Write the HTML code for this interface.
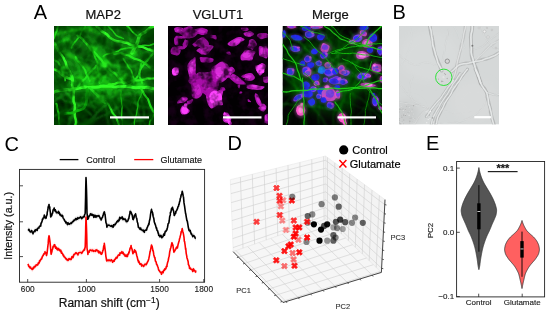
<!DOCTYPE html>
<html><head><meta charset="utf-8"><title>Figure</title>
<style>
html,body{margin:0;padding:0;background:#fff;}
svg{display:block;font-family:"Liberation Sans", Arial, sans-serif;}
</style></head><body>
<svg width="550" height="313" viewBox="0 0 550 313">
<rect width="550" height="313" fill="#fff"/>
<text x="33.8" y="18.5" font-size="20" text-anchor="start" fill="#000" >A</text>
<text x="392.6" y="18.5" font-size="20" text-anchor="start" fill="#000" >B</text>
<text x="4.5" y="150.5" font-size="20" text-anchor="start" fill="#000" >C</text>
<text x="227.5" y="150.3" font-size="20" text-anchor="start" fill="#000" >D</text>
<text x="426.1" y="150.4" font-size="20" text-anchor="start" fill="#000" >E</text>
<text x="103.2" y="18.7" font-size="13" text-anchor="middle" fill="#111" stroke="#111" stroke-width="0.2">MAP2</text>
<text x="218.0" y="18.7" font-size="13" text-anchor="middle" fill="#111" stroke="#111" stroke-width="0.2">VGLUT1</text>
<text x="330.4" y="18.6" font-size="13" text-anchor="middle" fill="#111" stroke="#111" stroke-width="0.2">Merge</text>
<defs>
<filter id="b05" x="-20%" y="-20%" width="140%" height="140%"><feGaussianBlur stdDeviation="0.55"/></filter>
<filter id="b07" x="-20%" y="-20%" width="140%" height="140%"><feGaussianBlur stdDeviation="0.75"/></filter>
<filter id="b09" x="-20%" y="-20%" width="140%" height="140%"><feGaussianBlur stdDeviation="0.9"/></filter>
<filter id="b1" x="-20%" y="-20%" width="140%" height="140%"><feGaussianBlur stdDeviation="1.1"/></filter>
<filter id="b2" x="-30%" y="-30%" width="160%" height="160%"><feGaussianBlur stdDeviation="2.4"/></filter>
<filter id="b4" x="-40%" y="-40%" width="180%" height="180%"><feGaussianBlur stdDeviation="4.5"/></filter>
<filter id="wb05" filterUnits="userSpaceOnUse" x="-5" y="-5" width="110" height="110"><feTurbulence type="fractalNoise" baseFrequency="0.09" numOctaves="2" seed="4" result="t"/><feDisplacementMap in="SourceGraphic" in2="t" scale="3.5" xChannelSelector="R" yChannelSelector="G"/><feGaussianBlur stdDeviation="0.6"/></filter>
<filter id="wb1" filterUnits="userSpaceOnUse" x="-5" y="-5" width="110" height="110"><feTurbulence type="fractalNoise" baseFrequency="0.09" numOctaves="2" seed="4" result="t"/><feDisplacementMap in="SourceGraphic" in2="t" scale="3.5" xChannelSelector="R" yChannelSelector="G"/><feGaussianBlur stdDeviation="1.1"/></filter>
<filter id="mot" filterUnits="userSpaceOnUse" x="0" y="0" width="100" height="99"><feTurbulence type="fractalNoise" baseFrequency="0.075" numOctaves="3" seed="7"/><feColorMatrix type="matrix" values="0 0 0 0 0  0 0 0 0 0.06  0 0 0 0 0  3.4 0 0 0 -1.45"/></filter>
<filter id="mot2" filterUnits="userSpaceOnUse" x="0" y="0" width="100" height="99"><feTurbulence type="fractalNoise" baseFrequency="0.11" numOctaves="3" seed="19"/><feColorMatrix type="matrix" values="0 0 0 0 0.01  0 0 0 0 0  0 0 0 0 0.01  3.6 0 0 0 -1.6"/></filter>
<clipPath id="cA1"><rect x="0" y="0" width="100" height="99"/></clipPath>
<clipPath id="cA3"><rect x="0" y="0" width="99.5" height="99"/></clipPath>
<clipPath id="cB"><rect x="0" y="0" width="100" height="98.6"/></clipPath>
</defs>
<g transform="translate(54,26)" clip-path="url(#cA1)">
<rect width="100" height="99" fill="#032803"/>
<g filter="url(#b4)">
<ellipse cx="50.0" cy="36.0" rx="52.0" ry="34.0" fill="#096409" opacity="0.9"/>
<ellipse cx="50.0" cy="62.0" rx="54.0" ry="11.0" fill="#0c7c0c" opacity="0.8"/>
<ellipse cx="20.0" cy="90.0" rx="22.0" ry="11.0" fill="#011601" opacity="0.95"/>
<ellipse cx="84.0" cy="86.0" rx="20.0" ry="10.0" fill="#021c02" opacity="0.75"/>
<ellipse cx="50.0" cy="97.0" rx="30.0" ry="5.0" fill="#011601" opacity="0.8"/>
<ellipse cx="50.0" cy="84.0" rx="56.0" ry="11.0" fill="#011a01" opacity="0.7"/>
</g>
<g filter="url(#b2)" opacity="0.6">
<path d="M0.0,17.3 C1.1,19.0 4.3,23.7 6.4,27.3 C8.5,31.0 10.6,34.6 12.8,39.2 C14.9,43.7 18.1,52.1 19.1,54.6" fill="none" stroke="#12a012" stroke-width="6.4" stroke-linecap="round" opacity="0.6"/>
<path d="M0.0,8.2 C3.0,7.6 12.1,5.4 18.2,4.6 C24.3,3.7 32.0,3.0 36.4,3.3 C40.8,3.6 43.3,5.9 44.6,6.4" fill="none" stroke="#12a012" stroke-width="9.600000000000001" stroke-linecap="round" opacity="0.54"/>
<path d="M42.8,0.0 C44.5,1.5 49.8,6.7 52.8,9.1 C55.9,11.5 57.1,12.7 61.0,14.2 C65.0,15.7 70.0,16.5 76.5,18.2 C83.0,19.9 95.9,23.5 99.8,24.6" fill="none" stroke="#12a012" stroke-width="6.4" stroke-linecap="round" opacity="0.6"/>
<path d="M99.8,0.0 C98.4,0.9 93.4,3.7 91.1,5.5 C88.7,7.2 87.1,8.4 85.6,10.6 C84.2,12.7 83.5,15.4 82.3,18.2 C81.1,21.0 79.0,25.8 78.3,27.3" fill="none" stroke="#12a012" stroke-width="8.32" stroke-linecap="round" opacity="0.6"/>
<path d="M23.7,9.1 C25.8,11.2 32.5,17.6 36.4,21.9 C40.4,26.1 43.4,30.4 47.4,34.6 C51.3,38.9 56.3,43.6 60.1,47.4 C63.9,51.1 68.5,55.4 70.1,57.0" fill="none" stroke="#12a012" stroke-width="5.760000000000001" stroke-linecap="round" opacity="0.51"/>
<path d="M60.1,27.3 C62.2,27.6 68.6,27.9 72.9,29.1 C77.1,30.4 81.1,32.2 85.6,34.6 C90.1,37.0 97.4,42.2 99.8,43.7" fill="none" stroke="#12a012" stroke-width="5.760000000000001" stroke-linecap="round" opacity="0.51"/>
<path d="M49.2,30.1 C53.1,28.7 64.4,24.2 72.9,22.2 C81.3,20.2 95.3,18.9 99.8,18.2" fill="none" stroke="#12a012" stroke-width="4.16" stroke-linecap="round" opacity="0.42"/>
<path d="M21.9,31.0 C23.1,32.8 26.7,37.9 29.1,41.9 C31.6,45.8 35.2,52.5 36.4,54.6" fill="none" stroke="#12a012" stroke-width="5.120000000000001" stroke-linecap="round" opacity="0.48"/>
<path d="M99.8,27.3 C98.4,28.8 93.4,33.1 91.1,36.4 C88.7,39.8 86.2,43.9 85.6,47.4 C85.1,50.8 87.4,55.4 87.8,57.0" fill="none" stroke="#12a012" stroke-width="5.120000000000001" stroke-linecap="round" opacity="0.48"/>
<path d="M54.6,0.0 C55.6,1.2 57.7,5.2 60.1,7.3 C62.5,9.4 67.7,11.8 69.2,12.8" fill="none" stroke="#12a012" stroke-width="3.84" stroke-linecap="round" opacity="0.42"/>
<path d="M72.9,0.0 C74.1,1.2 78.0,5.5 80.1,7.3 C82.3,9.0 84.7,10.0 85.6,10.6" fill="none" stroke="#12a012" stroke-width="3.84" stroke-linecap="round" opacity="0.42"/>
<path d="M31.0,0.0 C30.4,1.2 28.8,4.9 27.3,7.3 C25.8,9.7 23.5,12.1 21.9,14.6 C20.2,17.0 18.1,20.6 17.3,21.9" fill="none" stroke="#12a012" stroke-width="4.16" stroke-linecap="round" opacity="0.42"/>
<path d="M0.0,32.8 C1.2,34.3 5.5,38.3 7.3,41.9 C9.1,45.5 10.3,52.5 10.9,54.6" fill="none" stroke="#12a012" stroke-width="4.800000000000001" stroke-linecap="round" opacity="0.48"/>
<path d="M38.3,22.8 C39.2,25.7 42.5,34.4 43.7,40.1 C44.9,45.8 45.2,54.2 45.5,57.0" fill="none" stroke="#12a012" stroke-width="4.800000000000001" stroke-linecap="round" opacity="0.42"/>
<path d="M69.2,32.8 C70.4,34.6 74.7,39.7 76.5,43.7 C78.3,47.8 79.5,54.8 80.1,57.0" fill="none" stroke="#12a012" stroke-width="4.16" stroke-linecap="round" opacity="0.42"/>
<path d="M3.6,0.0 C3.3,1.2 2.4,5.2 1.8,7.3 C1.2,9.4 0.3,11.8 0.0,12.8" fill="none" stroke="#12a012" stroke-width="4.800000000000001" stroke-linecap="round" opacity="0.48"/>
<path d="M0.0,65.8 C3.0,65.3 12.1,63.8 18.2,63.0 C24.3,62.3 29.4,61.7 36.4,61.2 C43.4,60.8 52.5,60.3 60.1,60.3 C67.7,60.3 75.3,60.9 82.0,61.2 C88.6,61.5 96.8,62.1 99.8,62.3" fill="none" stroke="#12a012" stroke-width="7.68" stroke-linecap="round" opacity="0.6"/>
<path d="M54.6,58.5 C57.7,58.0 65.3,56.8 72.9,55.8 C80.4,54.7 95.3,52.7 99.8,52.1" fill="none" stroke="#12a012" stroke-width="5.760000000000001" stroke-linecap="round" opacity="0.54"/>
<path d="M17.9,50.3 C18.2,53.6 19.0,62.0 19.7,70.3 C20.3,78.6 21.5,95.1 21.9,100.0" fill="none" stroke="#12a012" stroke-width="6.4" stroke-linecap="round" opacity="0.57"/>
<path d="M0.0,43.0 C1.8,44.2 7.9,48.4 10.9,50.3 C14.0,52.2 17.0,53.6 18.2,54.3" fill="none" stroke="#12a012" stroke-width="6.4" stroke-linecap="round" opacity="0.57"/>
<path d="M2.7,77.6 C3.0,79.7 4.0,86.6 4.6,90.4 C5.1,94.1 5.6,98.4 5.8,100.0" fill="none" stroke="#12a012" stroke-width="5.120000000000001" stroke-linecap="round" opacity="0.36"/>
<path d="M51.9,74.9 C53.3,77.2 57.8,84.3 60.1,88.5 C62.4,92.7 65.0,98.1 65.9,100.0" fill="none" stroke="#12a012" stroke-width="5.120000000000001" stroke-linecap="round" opacity="0.51"/>
<path d="M67.0,64.9 C67.2,67.9 67.5,77.2 67.8,83.1 C68.0,88.9 68.4,97.2 68.5,100.0" fill="none" stroke="#12a012" stroke-width="3.2" stroke-linecap="round" opacity="0.36"/>
<path d="M87.8,65.8 C87.1,68.0 85.1,73.7 83.8,79.4 C82.5,85.1 80.8,96.6 80.1,100.0" fill="none" stroke="#12a012" stroke-width="3.2" stroke-linecap="round" opacity="0.33"/>
<path d="M87.4,62.7 C88.6,64.9 92.7,71.8 94.7,75.8 C96.8,79.8 99.0,84.9 99.8,86.7" fill="none" stroke="#12a012" stroke-width="5.44" stroke-linecap="round" opacity="0.48"/>
<path d="M32.8,63.0 C32.6,65.5 33.1,74.0 31.9,77.6 C30.7,81.2 29.0,82.9 25.5,84.5 C22.0,86.2 13.4,87.1 10.9,87.6" fill="none" stroke="#12a012" stroke-width="7.040000000000001" stroke-linecap="round" opacity="0.27"/>
<path d="M99.8,88.5 C99.3,89.8 97.2,93.9 96.5,95.8 C95.8,97.7 95.8,99.3 95.6,100.0" fill="none" stroke="#12a012" stroke-width="4.16" stroke-linecap="round" opacity="0.36"/>
<path d="M36.4,62.1 C37.6,63.5 41.3,67.9 43.7,70.3 C46.1,72.8 49.8,75.6 51.0,76.7" fill="none" stroke="#12a012" stroke-width="6.4" stroke-linecap="round" opacity="0.48"/>
<path d="M72.9,61.2 C74.1,60.0 78.0,56.4 80.1,53.9 C82.3,51.5 84.4,49.4 85.6,46.6 C86.8,43.9 87.1,39.1 87.4,37.5" fill="none" stroke="#12a012" stroke-width="4.800000000000001" stroke-linecap="round" opacity="0.48"/>
<path d="M23.7,61.2 C24.6,60.0 27.0,56.4 29.1,53.9 C31.3,51.5 34.3,49.1 36.4,46.6 C38.6,44.2 41.0,40.6 41.9,39.4" fill="none" stroke="#12a012" stroke-width="5.120000000000001" stroke-linecap="round" opacity="0.48"/>
<path d="M0.0,20.0 C3.3,22.0 12.5,27.0 20.0,32.0 C27.5,37.0 38.0,44.3 45.0,50.0 C52.0,55.7 59.2,63.3 62.0,66.0" fill="none" stroke="#12a012" stroke-width="10.240000000000002" stroke-linecap="round" opacity="0.51"/>
<path d="M38.0,22.0 C40.0,24.3 47.0,31.0 50.0,36.0 C53.0,41.0 55.0,49.3 56.0,52.0" fill="none" stroke="#12a012" stroke-width="9.600000000000001" stroke-linecap="round" opacity="0.48"/>
<path d="M20.0,55.0 C21.7,55.8 24.7,58.8 30.0,60.0 C35.3,61.2 48.3,61.7 52.0,62.0" fill="none" stroke="#12a012" stroke-width="9.600000000000001" stroke-linecap="round" opacity="0.48"/>
<ellipse cx="13.7" cy="15.5" rx="9.0" ry="6.0" fill="#14b014" opacity="0.63"/>
<ellipse cx="39.2" cy="21.9" rx="7.5" ry="6.0" fill="#14b014" opacity="0.6649999999999999"/>
<ellipse cx="52.8" cy="38.3" rx="9.0" ry="7.5" fill="#14b014" opacity="0.7"/>
<ellipse cx="78.3" cy="27.3" rx="7.5" ry="6.0" fill="#14b014" opacity="0.63"/>
<ellipse cx="9.1" cy="43.7" rx="7.5" ry="6.0" fill="#14b014" opacity="0.63"/>
<ellipse cx="45.5" cy="48.3" rx="7.5" ry="6.0" fill="#14b014" opacity="0.5599999999999999"/>
<ellipse cx="10.9" cy="45.2" rx="7.5" ry="6.0" fill="#14b014" opacity="0.63"/>
<ellipse cx="36.4" cy="53.9" rx="9.0" ry="7.5" fill="#14b014" opacity="0.6649999999999999"/>
<ellipse cx="47.7" cy="72.1" rx="9.0" ry="9.0" fill="#14b014" opacity="0.7"/>
<ellipse cx="52.8" cy="48.5" rx="7.5" ry="6.0" fill="#14b014" opacity="0.63"/>
<ellipse cx="67.4" cy="52.1" rx="7.5" ry="5.2" fill="#14b014" opacity="0.63"/>
<ellipse cx="85.6" cy="59.4" rx="7.5" ry="5.2" fill="#14b014" opacity="0.63"/>
<ellipse cx="25.5" cy="52.8" rx="7.5" ry="6.0" fill="#14b014" opacity="0.5599999999999999"/>
<ellipse cx="69.2" cy="51.0" rx="7.5" ry="6.0" fill="#14b014" opacity="0.5599999999999999"/>
</g>
<g filter="url(#b1)">
<ellipse cx="30.0" cy="10.0" rx="5.0" ry="3.0" fill="#011001" opacity="0.7"/>
<ellipse cx="22.0" cy="24.0" rx="5.0" ry="4.0" fill="#011001" opacity="0.6"/>
<ellipse cx="48.0" cy="15.0" rx="4.0" ry="5.0" fill="#011001" opacity="0.7"/>
<ellipse cx="62.0" cy="22.0" rx="6.0" ry="3.0" fill="#011001" opacity="0.6"/>
<ellipse cx="90.0" cy="20.0" rx="5.0" ry="4.0" fill="#011001" opacity="0.7"/>
<ellipse cx="70.0" cy="36.0" rx="6.0" ry="3.0" fill="#011001" opacity="0.6"/>
<ellipse cx="33.0" cy="34.0" rx="4.0" ry="4.0" fill="#011001" opacity="0.6"/>
<ellipse cx="93.0" cy="35.0" rx="5.0" ry="5.0" fill="#011001" opacity="0.7"/>
<ellipse cx="10.0" cy="30.0" rx="4.0" ry="5.0" fill="#011001" opacity="0.6"/>
<ellipse cx="45.0" cy="50.0" rx="4.0" ry="3.0" fill="#011001" opacity="0.5"/>
<ellipse cx="84.0" cy="48.0" rx="6.0" ry="3.0" fill="#011001" opacity="0.6"/>
<ellipse cx="12.0" cy="54.0" rx="5.0" ry="3.0" fill="#011001" opacity="0.5"/>
<ellipse cx="35.0" cy="76.0" rx="5.0" ry="4.0" fill="#011001" opacity="0.5"/>
<ellipse cx="60.0" cy="70.0" rx="4.0" ry="3.0" fill="#011001" opacity="0.5"/>
<ellipse cx="92.0" cy="70.0" rx="4.0" ry="6.0" fill="#011001" opacity="0.6"/>
<ellipse cx="73.0" cy="80.0" rx="4.0" ry="8.0" fill="#011001" opacity="0.6"/>
<ellipse cx="8.0" cy="72.0" rx="4.0" ry="6.0" fill="#011001" opacity="0.5"/>
</g>
<g filter="url(#b1)">
<path d="M49.1,21.0 49.2,22.6 49.2,24.6 49.5,27.0 49.4,29.7 49.7,32.6 51.0,35.4 51.3,38.3 51.7,41.1 51.6,43.9 51.6,46.5 52.7,48.9 53.2,51.4 53.6,53.9 54.1,56.4 53.6,59.1 54.0,61.6 54.9,64.0 55.3,66.6 56.1,69.0 56.2,71.6 55.9,74.2 56.5,76.7 57.0,79.2 57.6,81.7 58.6,84.1 58.4,86.7 58.3,89.3 58.9,92.0 59.2,94.8 60.5,97.6 60.7,100.6 60.7,103.5 61.1,106.1 61.2,108.5 61.9,110.5 62.7,111.9" fill="none" stroke="#1cd01c" stroke-width="1.2699078630799177" stroke-linecap="round" stroke-linejoin="round" opacity="0.41"/>
<path d="M63.3,27.8 63.4,29.8 63.8,32.7 64.2,36.0 64.1,39.5 65.0,42.6 65.3,45.5 65.7,48.5 66.3,51.4 66.0,54.3 65.6,57.2 65.5,60.2 64.7,63.0 64.4,65.9 64.6,68.9 64.0,71.8 63.9,75.0 63.2,78.4 61.8,81.5 61.1,84.3 60.4,86.3" fill="none" stroke="#1cd01c" stroke-width="0.8725364299934716" stroke-linecap="round" stroke-linejoin="round" opacity="0.63"/>
<path d="M48.1,14.8 46.9,15.8 45.4,16.9 43.8,18.5 42.7,20.7 41.6,23.3 39.5,25.3 37.1,27.1 35.3,29.6 33.7,32.2 31.9,34.7 30.1,37.1 28.0,39.1 25.9,41.0 24.6,43.3 23.7,45.8 22.1,47.9 19.9,49.6 18.1,51.5 16.9,53.9 15.5,56.2 14.0,58.4 12.5,60.5 10.8,62.5 8.9,64.4 7.5,66.6 6.6,69.2 5.2,71.5 3.2,73.2 1.3,75.1 0.1,77.5 -1.0,80.0 -2.4,82.2 -4.0,84.3 -5.5,86.4 -7.3,88.4 -8.7,90.6 -9.6,93.2 -10.7,95.6 -12.6,97.5 -14.6,99.5 -15.8,102.1 -16.9,105.0 -18.6,107.5 -20.3,110.1 -22.1,112.6 -23.8,115.0 -24.8,117.7 -25.7,120.3 -27.2,122.2 -28.9,123.8 -30.1,125.3 -30.7,126.7" fill="none" stroke="#1cd01c" stroke-width="1.2924501636628567" stroke-linecap="round" stroke-linejoin="round" opacity="0.41"/>
<path d="M19.1,3.0 20.8,2.2 23.3,1.2 26.4,1.1 29.7,0.7 33.0,0.5 36.0,-0.1 38.7,-1.1 41.6,-1.2 44.4,-1.0 47.2,-1.0 50.0,-0.4 52.8,-0.5 55.6,-1.1 58.4,-0.8 61.2,-0.4 64.0,0.2 66.6,1.3 69.4,1.5 72.5,1.6 75.7,2.5 78.9,3.3 81.7,4.9 84.1,5.9 86.0,6.1" fill="none" stroke="#1cd01c" stroke-width="0.8240660713798309" stroke-linecap="round" stroke-linejoin="round" opacity="0.51"/>
<path d="M70.6,-15.5 70.8,-13.9 71.3,-11.9 71.5,-9.4 72.2,-6.8 73.4,-4.0 73.8,-0.9 74.7,2.1 74.5,5.3 75.0,8.2 75.5,11.0 76.0,13.6 77.3,16.1 77.6,18.8 78.1,21.5 78.6,24.1 78.3,26.9 79.0,29.5 79.6,32.1 80.1,34.8 81.4,37.3 81.7,40.0 82.0,42.6 82.4,45.3 82.2,48.1 83.0,50.7 83.7,53.3 84.3,55.9 85.4,58.4 85.6,61.1 85.9,63.8 86.3,66.6 86.2,69.6 87.4,72.6 88.0,75.7 89.1,78.6 89.6,81.5 89.6,84.3 90.1,86.7 90.2,88.7 90.2,90.4" fill="none" stroke="#1cd01c" stroke-width="1.3299596255122945" stroke-linecap="round" stroke-linejoin="round" opacity="0.51"/>
<path d="M54.7,23.4 55.4,24.7 56.4,26.4 57.5,28.3 58.7,30.6 60.3,32.8 62.6,34.7 64.2,37.2 65.2,40.3 66.9,42.8 69.1,45.0 70.8,47.3 72.4,49.5 74.0,51.6 75.1,54.0 76.5,56.3 78.5,58.0 80.6,59.7 82.0,61.9 83.1,64.4 84.7,66.5 86.5,68.4 88.3,70.3 90.1,72.2 91.9,74.1 93.3,76.3 94.5,78.7 96.4,80.6 98.7,82.1 100.5,83.9 101.9,86.2 103.5,88.3 105.2,90.3 107.0,92.2 108.9,94.0 111.1,95.5 112.9,97.5 114.2,100.0 116.1,102.2 118.7,103.8 121.1,105.8 123.1,108.1 125.1,110.3 127.0,112.5 128.9,114.4 131.2,115.8 133.1,117.0 134.3,118.4 135.1,119.8" fill="none" stroke="#1cd01c" stroke-width="1.05222177361244" stroke-linecap="round" stroke-linejoin="round" opacity="0.43"/>
<path d="M-15.0,21.2 -14.2,22.7 -13.0,24.7 -12.3,27.3 -11.4,30.2 -10.2,33.2 -9.3,36.3 -7.4,38.9 -6.2,41.5 -4.4,43.6 -2.8,45.8 -1.7,48.3 -0.1,50.5 1.0,53.0 2.2,55.4 4.0,57.4 5.5,59.7 7.5,61.6 9.5,63.4 11.2,65.5 13.2,67.3 14.9,69.4 16.4,71.7 18.4,73.5 20.1,75.7 22.3,77.6 25.0,79.2 27.5,81.2 30.4,82.7 32.5,84.9 34.8,86.5 36.5,88.0 37.5,89.4" fill="none" stroke="#1cd01c" stroke-width="1.1092108253647477" stroke-linecap="round" stroke-linejoin="round" opacity="0.69"/>
<path d="M63.3,-15.9 62.0,-15.1 60.7,-13.8 59.0,-12.5 56.9,-11.5 54.7,-10.2 52.0,-9.5 49.3,-8.3 47.2,-6.1 44.5,-4.8 41.9,-3.4 39.1,-2.6 36.6,-1.4 34.7,0.6 32.4,1.8 30.1,2.8 27.8,3.8 25.3,4.5 23.2,6.1 21.3,7.9 18.9,8.8 16.6,9.8 14.2,10.7 11.8,11.6 9.9,13.5 7.8,15.0 5.3,15.7 3.0,16.7 0.6,17.6 -1.6,18.8 -3.5,20.7 -5.7,21.8 -8.2,22.5 -10.5,23.6 -12.9,24.6 -15.0,26.0 -16.9,27.8 -19.4,28.6 -21.9,29.3 -24.1,30.5 -26.5,31.6 -28.7,33.5 -31.2,34.9 -34.2,35.5 -36.8,36.9 -39.4,38.2 -41.6,40.1 -44.1,41.4 -46.7,41.8 -48.8,42.8 -50.6,43.9 -52.3,44.7 -53.5,45.6" fill="none" stroke="#1cd01c" stroke-width="1.5842871529394338" stroke-linecap="round" stroke-linejoin="round" opacity="0.49"/>
<path d="M25.5,48.0 27.3,47.9 29.7,47.0 32.5,46.2 35.7,46.3 38.9,46.0 42.1,46.4 45.0,46.1 47.7,45.5 50.4,45.8 53.1,45.9 55.7,46.4 58.2,47.6 60.9,47.8 63.6,47.9 66.1,48.6 68.8,48.9 71.3,49.8 73.6,51.5 76.1,52.4 78.6,53.3 81.1,54.4 84.0,55.1 86.6,57.0 89.1,59.1 91.7,60.8 94.0,62.6 96.4,63.4 98.1,64.0" fill="none" stroke="#1cd01c" stroke-width="1.0660685003706785" stroke-linecap="round" stroke-linejoin="round" opacity="0.69"/>
<path d="M36.7,-2.7 35.8,-1.2 35.5,1.4 34.9,4.3 33.6,7.1 32.2,9.9 30.3,12.0 29.2,14.9 27.6,17.5 26.1,20.1 23.9,22.2 21.3,23.8 19.4,25.9 17.0,27.8 15.0,30.1 12.3,31.5 9.4,32.5 6.8,33.6 3.9,34.5 1.2,36.4 -1.7,37.0 -4.0,37.7 -5.8,38.2" fill="none" stroke="#1cd01c" stroke-width="1.4376172094751793" stroke-linecap="round" stroke-linejoin="round" opacity="0.41"/>
<path d="M56.1,-43.2 56.0,-41.6 56.0,-39.6 55.8,-37.3 55.6,-34.6 56.2,-31.8 56.8,-28.7 56.6,-25.6 56.4,-22.5 56.2,-19.4 55.7,-16.5 55.6,-13.7 56.2,-11.0 56.2,-8.4 55.7,-5.8 55.3,-3.2 54.9,-0.5 54.2,2.0 53.7,4.6 53.9,7.3 54.0,10.0 53.3,12.6 52.6,15.1 52.1,17.7 51.2,20.2 50.3,22.7 50.1,25.3 50.1,28.1 49.5,30.6 48.5,33.1 47.8,35.6 46.8,38.1 45.6,40.5 44.9,43.1 44.7,45.9 43.9,48.8 42.5,51.6 41.3,54.5 39.8,57.2 38.3,59.8 37.7,62.7 37.2,65.4 36.3,67.5 35.3,69.3 34.7,70.7" fill="none" stroke="#1cd01c" stroke-width="1.3149720989689337" stroke-linecap="round" stroke-linejoin="round" opacity="0.39"/>
<path d="M6.8,-47.1 6.7,-45.6 7.2,-43.7 7.8,-41.5 8.1,-39.1 8.6,-36.4 9.3,-33.6 8.9,-30.5 9.0,-27.5 9.4,-24.4 9.7,-21.3 10.9,-18.4 11.3,-15.5 11.5,-12.8 12.0,-10.2 11.8,-7.5 12.0,-4.8 13.0,-2.3 13.6,0.3 14.3,2.9 15.3,5.3 15.5,8.0 15.5,10.7 16.2,13.3 16.6,15.9 17.2,18.5 18.6,20.8 19.4,23.4 19.8,26.0 20.6,28.5 20.9,31.2 21.1,33.8 22.3,36.3 23.2,38.7 24.1,41.3 25.4,43.6 26.1,46.2 26.3,48.9 27.2,51.4 27.9,53.9 28.7,56.6 30.4,59.1 31.6,61.8 32.6,64.8 33.8,67.6 34.2,70.8 35.5,73.5 36.9,76.0 37.9,78.5 39.3,80.6 40.4,82.6 40.7,84.5 41.0,86.0" fill="none" stroke="#1cd01c" stroke-width="1.0433161198967917" stroke-linecap="round" stroke-linejoin="round" opacity="0.66"/>
<path d="M-1.9,28.2 -0.7,29.0 0.8,30.2 2.8,31.3 5.3,31.8 7.9,32.5 10.4,33.8 13.1,34.9 15.7,36.2 18.0,38.2 20.4,39.5 22.9,40.3 25.3,41.5 27.7,42.8 30.2,43.9 32.3,45.6 34.2,47.7 36.5,49.2 38.8,50.5 41.0,52.1 43.4,53.4 45.8,54.7 47.7,56.7 49.4,58.8 51.5,60.5 53.5,62.3 55.5,64.1 57.9,65.6 60.1,67.1 61.8,69.3 63.4,71.5 65.3,73.4 66.9,75.5 68.6,77.6 71.1,79.3 73.1,81.4 74.7,83.9 76.4,86.2 77.9,88.4 79.1,90.7 80.5,92.3 82.0,93.5 83.2,94.4" fill="none" stroke="#1cd01c" stroke-width="1.591441358008138" stroke-linecap="round" stroke-linejoin="round" opacity="0.42"/>
<path d="M48.3,-4.5 49.8,-3.8 51.5,-2.6 53.4,-0.9 56.0,0.2 58.7,1.3 61.3,2.6 64.0,3.5 66.3,4.9 68.2,7.1 70.4,8.8 72.5,10.6 74.4,12.5 76.9,13.9 79.2,15.5 80.9,17.6 82.7,19.7 84.4,21.9 85.6,24.4 87.4,26.5 89.5,28.4 91.0,30.7 92.7,33.0 94.1,35.2 94.8,38.1 95.8,40.8 97.2,43.4 98.2,45.9 99.6,48.1 100.8,49.8 101.5,51.2" fill="none" stroke="#1cd01c" stroke-width="0.8720937383695442" stroke-linecap="round" stroke-linejoin="round" opacity="0.55"/>
<path d="M26.6,-4.8 27.3,-3.3 28.0,-1.3 29.1,0.9 30.3,3.5 31.9,6.0 33.8,8.4 35.2,11.1 36.0,14.1 37.6,16.3 39.7,18.0 41.5,19.8 42.6,22.2 43.8,24.5 45.5,26.3 47.6,27.9 49.4,29.6 51.1,31.5 52.8,33.3 54.5,35.3 56.2,37.1 58.3,38.5 60.7,39.7 62.7,41.2 64.3,43.3 66.1,45.2 68.5,46.2 71.0,47.0 73.3,48.5 75.5,50.5 78.2,51.9 81.1,53.0 83.9,54.1 86.4,55.2 88.6,56.5 90.3,57.7 91.7,58.6" fill="none" stroke="#1cd01c" stroke-width="1.186979626610036" stroke-linecap="round" stroke-linejoin="round" opacity="0.55"/>
<path d="M81.8,-15.1 80.3,-15.0 78.5,-14.8 76.4,-14.1 74.1,-13.7 71.4,-13.6 68.8,-12.6 66.1,-11.8 63.3,-10.9 60.6,-9.4 57.6,-8.9 54.9,-7.9 52.2,-7.3 49.5,-7.1 47.1,-6.1 44.7,-5.4 42.2,-4.6 40.1,-3.1 37.7,-2.1 35.3,-1.3 33.1,-0.0 30.6,0.6 28.1,1.1 25.8,2.2 23.3,2.9 20.9,3.7 18.9,5.3 16.6,6.4 14.3,7.5 12.2,9.1 9.8,9.9 7.4,10.7 5.2,11.9 2.7,12.6 0.3,13.5 -1.7,15.1 -4.0,16.3 -6.1,17.7 -8.1,19.4 -10.4,20.5 -12.7,21.7 -15.1,23.2 -18.0,24.0 -20.4,25.7 -23.0,27.3 -25.4,28.9 -27.5,31.1 -29.9,32.5 -32.0,34.0 -33.9,35.4 -35.9,36.2 -37.7,36.8 -38.9,37.7" fill="none" stroke="#1cd01c" stroke-width="0.9995988531433997" stroke-linecap="round" stroke-linejoin="round" opacity="0.42"/>
<path d="M135.8,-35.5 134.7,-34.4 133.3,-33.2 131.5,-31.9 129.6,-30.3 127.6,-28.5 125.2,-27.0 122.4,-25.7 119.9,-23.9 117.6,-22.0 115.0,-20.2 112.9,-18.1 111.0,-15.8 108.9,-14.1 106.7,-12.7 104.7,-11.0 102.7,-9.3 100.5,-7.8 98.4,-6.3 96.7,-4.3 95.1,-2.1 93.3,-0.2 91.4,1.6 89.8,3.6 88.0,5.5 85.8,7.0 83.7,8.6 82.0,10.6 80.4,12.6 78.6,14.5 76.9,16.6 75.6,18.9 74.2,21.1 72.3,22.8 70.3,24.6 68.7,26.6 67.0,28.6 65.0,30.5 63.4,32.5 62.3,35.0 61.0,37.4 59.3,39.7 57.6,42.2 56.0,44.8 53.8,47.0 51.8,49.3 50.4,52.0 49.1,54.5 47.6,56.8 46.5,59.0 45.7,61.1 44.7,62.7 43.7,63.9" fill="none" stroke="#1cd01c" stroke-width="1.2828273718267549" stroke-linecap="round" stroke-linejoin="round" opacity="0.50"/>
<path d="M-25.5,58.2 -24.2,59.2 -22.2,60.1 -19.6,60.9 -17.1,62.4 -14.2,63.4 -11.7,65.0 -9.5,66.7 -7.1,67.7 -4.9,69.0 -2.6,70.1 0.0,70.4 2.4,71.2 4.9,72.1 7.4,72.6 9.6,73.9 11.9,75.1 14.4,75.7 16.8,76.6 19.3,77.1 22.0,77.0 24.5,77.6 27.2,78.2 30.1,78.6 32.9,79.8 35.8,80.2 38.5,80.5 40.6,81.0 42.3,80.9" fill="none" stroke="#1cd01c" stroke-width="1.0055851186562497" stroke-linecap="round" stroke-linejoin="round" opacity="0.64"/>
<path d="M48.8,-42.1 48.3,-40.6 47.8,-38.6 47.9,-36.3 47.8,-33.6 47.7,-30.8 48.1,-27.7 47.9,-24.6 47.0,-21.6 46.7,-18.5 46.2,-15.6 45.7,-12.9 45.9,-10.2 45.9,-7.5 45.0,-5.0 44.3,-2.5 43.7,0.1 42.6,2.5 41.9,5.0 41.9,7.7 41.6,10.3 40.6,12.8 39.9,15.3 39.0,17.7 37.6,20.0 36.6,22.4 36.2,25.1 35.5,27.6 34.5,30.0 33.8,32.6 32.6,34.9 30.9,37.0 29.7,39.4 28.9,41.9 27.7,44.4 26.5,47.1 25.5,50.0 23.4,52.4 21.4,54.9 20.0,57.5 18.4,59.9 17.3,62.3 16.6,64.7 15.6,66.4 14.5,67.6" fill="none" stroke="#1cd01c" stroke-width="0.9827170698601002" stroke-linecap="round" stroke-linejoin="round" opacity="0.55"/>
<path d="M119.7,-9.2 118.5,-8.4 117.0,-7.4 115.4,-6.0 113.5,-4.5 110.9,-3.6 108.6,-2.1 106.2,-0.5 103.6,1.0 101.5,3.2 99.1,4.9 96.7,6.7 94.5,8.4 91.9,9.2 89.6,10.5 87.4,11.8 85.0,12.7 83.0,14.4 81.1,16.1 78.8,17.2 76.7,18.8 74.5,20.1 71.9,20.7 69.7,21.8 67.4,23.0 64.9,23.8 62.8,25.3 60.7,26.8 58.4,27.8 56.3,29.3 54.0,30.4 51.4,30.9 49.1,31.9 46.7,32.9 44.2,33.5 42.0,34.9 39.8,36.3 37.4,37.1 35.2,38.5 32.8,39.5 30.1,39.8 27.5,40.8 24.6,41.5 21.8,42.3 19.2,43.9 16.3,44.8 13.7,46.1 11.1,47.1 8.4,47.3 6.1,48.0 4.1,48.6 2.2,48.8 0.8,49.2" fill="none" stroke="#1cd01c" stroke-width="0.8132598344633242" stroke-linecap="round" stroke-linejoin="round" opacity="0.44"/>
<path d="M4.0,-28.4 3.8,-26.7 3.8,-24.6 4.2,-22.1 3.8,-19.2 4.4,-16.2 4.9,-13.2 5.5,-10.3 6.4,-7.7 6.5,-5.1 6.9,-2.5 7.2,0.1 6.9,2.7 7.5,5.3 7.8,7.9 8.1,10.4 9.2,12.9 9.6,15.5 10.3,18.0 11.0,20.5 10.9,23.2 11.3,25.7 11.6,28.3 11.7,31.0 12.7,33.4 13.3,36.1 14.3,38.9 15.4,41.8 15.6,44.8 16.4,47.5 16.5,50.1 16.6,52.2 17.2,53.8" fill="none" stroke="#1cd01c" stroke-width="0.9052628165018088" stroke-linecap="round" stroke-linejoin="round" opacity="0.48"/>
<path d="M146.0,28.0 144.6,28.6 142.8,29.2 140.6,29.7 138.3,31.0 135.9,32.2 132.9,32.4 130.1,33.3 127.1,33.6 124.4,34.8 121.9,36.3 119.3,36.9 116.9,37.8 114.4,38.2 111.8,38.5 109.5,39.7 107.1,40.7 104.8,41.7 102.5,42.9 99.9,43.1 97.4,43.7 95.0,44.6 92.5,45.3 90.3,46.8 88.1,48.0 85.5,48.4 83.1,49.2 80.6,49.8 78.1,50.4 76.0,52.0 73.6,53.1 71.3,53.9 68.9,55.0 66.3,55.2 63.7,56.0 61.3,57.5 58.6,58.6 56.1,60.4 53.1,61.0 50.3,61.7 47.8,62.8 45.4,63.6 43.6,65.0 42.0,66.1 40.6,66.6" fill="none" stroke="#1cd01c" stroke-width="0.9122777497164942" stroke-linecap="round" stroke-linejoin="round" opacity="0.36"/>
<path d="M18.7,46.9 20.3,46.7 22.1,46.2 24.2,45.2 26.7,44.6 29.5,44.8 32.4,44.7 35.4,44.0 38.4,43.5 41.4,42.5 44.5,41.8 47.6,42.2 50.5,42.1 53.2,41.5 55.9,41.3 58.5,40.8 61.1,40.2 63.8,40.5 66.4,41.1 69.1,41.0 71.7,40.6 74.3,40.6 77.0,40.3 79.6,40.0 82.2,40.6 84.8,41.4 87.4,41.3 90.1,41.0 92.7,41.2 95.4,41.1 98.0,41.2 100.5,42.1 103.1,42.9 105.8,42.9 108.4,42.9 111.0,43.2 113.7,43.4 116.3,43.9 118.8,45.1 121.3,45.8 124.1,45.8 127.0,46.2 130.0,46.9 133.0,47.6 135.9,49.0 138.8,50.2 141.9,50.4 144.7,51.0 147.3,51.8 149.8,52.4 151.8,53.3 153.5,54.3 155.0,54.9" fill="none" stroke="#1cd01c" stroke-width="1.3089476172616104" stroke-linecap="round" stroke-linejoin="round" opacity="0.52"/>
<path d="M52.1,50.3 50.8,51.8 49.4,54.2 47.3,56.6 44.9,58.8 42.9,61.1 40.6,62.9 38.3,64.6 36.5,66.8 34.9,69.2 33.0,71.3 31.3,73.6 29.8,76.0 27.7,78.0 25.4,79.8 23.6,82.0 21.6,84.3 19.4,86.8 17.9,89.6 16.5,92.0 15.2,93.5" fill="none" stroke="#1cd01c" stroke-width="1.389604395893007" stroke-linecap="round" stroke-linejoin="round" opacity="0.67"/>
<path d="M113.5,8.7 112.5,9.8 111.3,11.1 110.0,12.8 108.5,14.6 106.5,16.3 104.5,18.3 103.1,20.9 101.6,23.4 99.7,25.7 97.9,28.1 96.2,30.4 94.0,32.2 91.9,33.9 90.4,36.0 89.1,38.2 87.5,40.2 85.9,42.1 84.4,44.2 82.9,46.2 80.8,47.8 78.7,49.4 77.0,51.3 75.5,53.4 73.8,55.3 72.2,57.2 70.8,59.4 69.3,61.4 67.3,63.1 65.1,64.5 63.3,66.3 61.6,68.2 59.8,70.0 58.0,71.9 56.6,74.0 55.2,76.2 53.3,77.9 51.1,79.3 49.2,81.0 47.4,82.8 45.4,84.5 43.3,86.4 41.6,88.8 39.8,91.2 37.5,93.0 35.2,94.9 33.1,96.9 30.8,98.5 28.7,100.0 27.2,101.8 26.0,103.6 24.8,105.1 23.8,106.1" fill="none" stroke="#1cd01c" stroke-width="1.3481167642669585" stroke-linecap="round" stroke-linejoin="round" opacity="0.67"/>
<path d="M101.3,31.8 99.8,32.3 97.9,32.8 95.7,33.3 93.4,34.4 91.1,36.1 88.3,37.2 85.4,38.0 82.5,39.1 79.4,39.7 76.6,40.8 74.1,42.5 71.6,43.8 69.1,44.5 66.6,45.5 64.0,46.3 61.4,46.8 58.9,47.9 56.8,49.6 54.4,50.8 51.9,51.6 49.4,52.6 46.9,53.5 44.2,54.0 41.8,55.1 39.6,56.8 37.3,58.1 34.7,59.0 32.3,60.0 29.8,60.9 27.1,61.5 24.7,62.5 22.5,64.2 20.2,65.6 17.7,66.5 15.3,67.6 12.8,68.6 10.0,69.2 7.4,70.4 4.9,72.3 2.2,73.8 -0.7,75.0 -3.4,76.3 -6.3,77.0 -8.9,77.9 -11.0,79.5 -12.9,80.9 -14.6,81.7 -16.0,82.3" fill="none" stroke="#1cd01c" stroke-width="1.2999684373275355" stroke-linecap="round" stroke-linejoin="round" opacity="0.48"/>
<path d="M74.0,-46.0 73.2,-44.7 72.0,-43.2 70.9,-41.3 69.4,-39.2 67.5,-37.2 66.0,-34.8 65.1,-31.9 63.6,-29.3 62.3,-26.7 61.0,-24.3 59.2,-22.3 57.8,-19.9 57.3,-17.2 56.4,-14.6 55.5,-12.0 54.8,-9.4 53.5,-7.0 52.0,-4.7 51.4,-2.0 51.0,0.6 50.3,3.2 50.0,5.9 49.5,8.6 48.2,11.1 47.4,13.6 47.2,16.4 46.8,19.0 46.7,21.8 46.9,24.5 46.3,27.2 45.4,29.8 45.3,32.4 45.2,35.2 45.2,38.1 46.0,41.1 46.0,44.0 45.5,46.9 45.5,49.6 45.5,52.1 45.4,54.4 45.7,56.3 46.2,57.7" fill="none" stroke="#1cd01c" stroke-width="1.5038334632888215" stroke-linecap="round" stroke-linejoin="round" opacity="0.60"/>
<path d="M55.7,-0.3 55.5,1.3 55.5,3.3 56.1,5.7 56.5,8.4 56.9,11.2 57.9,14.1 58.2,17.0 58.3,19.9 58.9,22.5 59.0,25.3 59.3,28.2 60.4,30.8 61.2,33.5 62.1,36.2 63.5,38.7 64.3,41.4 64.8,44.1 65.9,46.7 66.5,49.5 67.3,52.2 68.9,54.6 70.2,57.1 71.5,59.6 73.3,61.8 74.4,64.4 75.4,66.9 76.9,69.3 78.1,72.1 79.6,74.7 81.7,76.7 83.2,79.0 84.6,80.9 86.1,82.3 87.1,83.6" fill="none" stroke="#1cd01c" stroke-width="0.8670257778090068" stroke-linecap="round" stroke-linejoin="round" opacity="0.61"/>
<path d="M24.0,31.1 25.5,31.8 27.6,32.4 30.0,33.6 32.8,34.1 35.9,34.2 38.6,35.1 41.3,35.7 43.7,36.8 46.1,37.5 48.7,37.2 51.2,37.5 53.8,37.7 56.3,37.9 58.7,39.0 61.2,39.2 63.8,39.1 66.3,39.1 68.9,38.7 71.4,38.9 73.9,39.6 76.4,39.5 79.2,39.5 82.1,38.9 85.0,38.1 87.9,38.5 90.5,38.4 92.7,38.4 94.4,38.5" fill="none" stroke="#1cd01c" stroke-width="1.197800462126411" stroke-linecap="round" stroke-linejoin="round" opacity="0.57"/>
<path d="M65.4,-8.2 63.7,-8.1 61.3,-8.1 58.4,-7.7 55.3,-7.8 52.0,-8.0 48.9,-7.1 46.0,-6.7 43.3,-6.0 40.7,-5.0 38.0,-4.7 35.2,-4.6 32.5,-3.9 29.7,-3.7 27.0,-3.3 24.5,-2.0 21.9,-1.0 19.2,-0.3 16.7,0.9 14.0,1.6 11.2,1.8 8.6,2.7 5.8,3.7 2.8,4.7 0.1,6.7 -2.7,8.0 -5.4,8.9 -7.6,10.0 -9.2,10.6" fill="none" stroke="#1cd01c" stroke-width="0.9620595307254471" stroke-linecap="round" stroke-linejoin="round" opacity="0.41"/>
<path d="M126.6,12.6 125.2,12.9 123.5,13.4 121.7,14.5 119.7,15.9 117.4,16.9 114.8,17.9 112.3,19.1 109.3,19.6 106.5,20.3 103.9,21.8 101.3,22.8 98.8,24.0 96.5,25.4 94.1,26.0 91.5,26.3 89.1,27.1 86.8,27.9 84.3,28.5 82.1,29.7 79.9,31.1 77.5,31.8 75.0,32.3 72.6,33.1 70.1,33.5 67.6,33.8 65.3,34.8 63.1,36.0 60.7,36.7 58.3,37.5 56.0,38.5 53.4,38.8 50.9,38.9 48.5,39.6 46.1,40.5 43.7,41.1 41.3,42.1 39.0,43.2 36.5,43.6 34.0,43.7 31.5,44.3 28.7,44.7 25.9,45.1 23.2,46.5 20.4,47.4 17.5,47.8 14.8,48.5 12.1,48.6 9.5,48.6 7.2,49.3 5.3,50.1 3.5,50.6 2.1,50.8" fill="none" stroke="#1cd01c" stroke-width="1.3327192500269371" stroke-linecap="round" stroke-linejoin="round" opacity="0.42"/>
<path d="M63.8,2.7 63.7,4.3 63.9,6.3 65.0,8.4 66.3,10.7 66.9,13.4 67.5,16.3 68.0,19.4 68.8,22.4 70.5,25.2 71.1,28.2 71.1,31.3 72.0,34.0 73.0,36.5 73.8,39.1 74.7,41.6 74.9,44.4 74.9,47.1 76.1,49.6 77.3,52.1 77.6,54.8 78.0,57.5 78.4,60.1 78.8,62.8 79.9,65.3 81.0,67.8 81.0,70.6 81.0,73.3 81.9,75.9 82.7,78.5 83.4,81.1 84.1,83.7 84.0,86.5 84.1,89.2 85.3,91.7 86.2,94.3 86.3,97.0 86.6,99.8 86.9,102.7 87.5,105.7 88.8,108.7 88.9,111.9 88.7,115.0 89.6,117.9 90.3,120.6 90.8,123.1 91.2,125.4 91.3,127.4 91.1,129.0" fill="none" stroke="#1cd01c" stroke-width="1.266485750203153" stroke-linecap="round" stroke-linejoin="round" opacity="0.46"/>
<path d="M-7.7,33.9 -6.3,34.5 -4.7,35.6 -2.8,36.8 -0.6,38.0 1.5,39.8 3.8,41.8 6.7,42.8 9.6,44.0 12.2,45.6 14.8,47.0 17.2,48.8 19.3,50.6 21.8,51.6 24.4,52.3 26.8,53.5 29.1,54.7 31.4,55.9 33.6,57.5 35.7,59.1 38.3,59.9 40.9,60.5 43.3,61.6 45.6,62.8 48.0,63.9 50.2,65.4 52.5,66.9 55.1,67.5 57.7,68.0 60.1,69.1 62.5,70.2 64.9,71.2 67.2,72.7 69.5,74.0 72.1,74.5 74.8,75.0 77.2,76.0 79.8,77.0 82.5,78.1 85.1,79.7 88.0,80.6 91.2,80.9 94.1,81.8 96.8,82.9 99.4,83.7 101.7,85.0 103.7,86.0 105.6,86.4 107.2,86.5" fill="none" stroke="#1cd01c" stroke-width="1.560000121476412" stroke-linecap="round" stroke-linejoin="round" opacity="0.45"/>
<path d="M15.5,2.7 17.4,3.2 20.0,3.7 22.6,5.4 25.7,6.8 28.3,9.0 31.2,10.2 33.8,11.4 36.5,12.5 39.2,13.5 41.4,15.4 44.0,16.8 46.1,18.8 48.7,20.1 51.4,21.2 53.9,22.7 56.6,23.8 58.7,25.9 61.1,27.6 63.5,29.6 66.3,31.3 69.4,32.7 71.9,34.5 74.2,35.9 75.4,37.4" fill="none" stroke="#1cd01c" stroke-width="1.300586846589895" stroke-linecap="round" stroke-linejoin="round" opacity="0.52"/>
<path d="M55.8,60.1 56.9,61.3 58.2,63.0 60.0,64.8 62.6,66.0 65.0,67.7 67.3,69.8 69.6,71.7 71.3,74.1 72.9,76.3 75.1,77.8 77.2,79.4 78.8,81.3 80.4,83.3 82.0,85.3 83.1,87.6 84.2,89.9 86.0,91.7 87.9,93.5 89.2,95.6 90.5,97.8 91.8,99.9 92.6,102.4 93.4,104.8 94.9,106.9 96.5,109.0 97.6,111.3 98.5,113.7 99.5,116.2 100.0,119.1 100.6,122.1 102.2,124.8 103.2,127.6 103.9,130.3 104.7,132.6 105.0,134.7 105.1,136.3" fill="none" stroke="#1cd01c" stroke-width="0.8251886205561383" stroke-linecap="round" stroke-linejoin="round" opacity="0.66"/>
<path d="M30.0,77.6 31.7,78.2 34.1,78.9 36.9,79.9 40.1,80.3 43.0,82.2 46.0,83.4 48.8,84.4 51.6,84.8 54.5,84.8 57.1,86.1 59.7,86.9 62.5,87.5 65.2,88.0 68.1,87.5 70.8,88.0 73.5,88.7 76.3,89.1 79.1,89.6 81.9,88.9 84.7,88.6 87.5,89.0 90.5,89.0 93.8,89.4 97.0,88.2 100.2,87.8 103.1,87.6 105.6,87.5 107.4,87.8" fill="none" stroke="#1cd01c" stroke-width="0.8152912118493649" stroke-linecap="round" stroke-linejoin="round" opacity="0.40"/>
<path d="M2.1,57.1 2.8,58.6 4.0,60.6 5.7,62.8 6.5,65.8 7.4,68.8 8.9,71.4 10.0,73.9 11.3,76.2 12.1,78.7 12.0,81.4 12.5,83.9 13.4,86.3 13.9,88.8 14.8,91.3 15.2,93.8 14.6,96.4 14.6,99.0 15.1,101.5 15.2,104.1 15.6,106.7 15.6,109.3 14.5,112.0 14.1,115.0 13.9,118.1 13.6,121.1 13.6,123.9 12.7,126.0 11.8,127.6" fill="none" stroke="#1cd01c" stroke-width="0.8375540553570545" stroke-linecap="round" stroke-linejoin="round" opacity="0.57"/>
<path d="M52.0,25.1 51.8,26.6 51.4,28.5 51.1,30.7 50.8,33.2 50.0,35.9 50.2,38.8 50.4,41.9 50.3,44.9 50.5,48.0 49.7,50.9 49.4,53.8 49.5,56.5 49.4,59.1 50.0,61.6 50.7,64.2 50.5,66.7 50.6,69.3 50.7,71.9 50.3,74.5 50.8,77.0 51.6,79.5 52.0,82.0 52.6,84.5 53.2,87.0 53.0,89.6 53.2,92.2 53.9,94.7 54.2,97.2 55.2,99.6 56.4,102.0 56.7,104.5 57.2,107.0 57.9,109.5 58.0,112.2 58.8,114.6 60.1,116.9 61.0,119.5 62.3,122.0 63.4,124.8 63.8,127.9 65.1,130.7 66.1,133.5 67.5,136.0 69.2,138.3 70.0,140.7 70.8,142.8 71.6,144.5 72.0,146.0" fill="none" stroke="#1cd01c" stroke-width="1.3475941967847964" stroke-linecap="round" stroke-linejoin="round" opacity="0.42"/>
<path d="M17.0,14.3 17.3,15.9 17.3,17.9 17.2,20.4 17.3,23.1 16.5,26.0 15.8,29.0 16.3,32.0 16.3,34.9 16.5,37.6 16.4,40.2 15.6,42.8 15.6,45.4 16.2,47.9 16.3,50.5 16.7,53.0 16.8,55.6 16.2,58.2 16.3,60.8 17.1,63.3 17.4,65.9 17.9,68.4 18.2,70.9 17.7,73.6 18.0,76.2 18.9,78.6 19.4,81.2 20.0,83.7 20.6,86.3 20.3,89.3 21.0,92.3 22.1,95.1 22.9,97.9 23.8,100.5 23.8,103.0 23.8,105.1 24.2,106.6" fill="none" stroke="#1cd01c" stroke-width="0.9432790471700229" stroke-linecap="round" stroke-linejoin="round" opacity="0.45"/>
<path d="M42.9,33.8 43.3,35.4 44.3,37.2 45.7,39.2 46.4,41.9 46.8,44.8 47.8,47.7 48.5,50.7 50.2,53.4 51.6,56.0 52.1,58.8 53.0,61.3 53.9,63.8 54.7,66.3 56.4,68.4 57.9,70.6 58.6,73.2 59.6,75.7 60.6,78.1 61.5,80.6 63.2,82.7 65.0,84.7 65.9,87.2 67.0,89.6 68.2,92.0 69.2,94.5 70.8,96.6 72.8,98.4 74.1,100.8 75.2,103.1 76.6,105.4 77.7,108.0 79.6,110.3 82.1,112.3 83.6,115.0 85.4,117.5 86.8,120.1 88.2,122.4 90.1,124.0 91.7,125.3 92.6,126.6" fill="none" stroke="#1cd01c" stroke-width="1.1148129692599884" stroke-linecap="round" stroke-linejoin="round" opacity="0.63"/>
<path d="M67.9,79.7 66.5,80.4 64.6,81.0 62.4,81.9 60.4,83.7 58.0,85.3 55.4,86.8 52.8,88.6 49.7,89.3 47.0,90.6 44.3,91.9 41.8,92.9 39.7,94.6 37.3,95.9 34.8,96.6 32.4,97.8 29.8,98.3 27.2,98.7 24.8,99.9 22.4,100.9 19.9,101.8 17.7,103.2 15.1,103.9 12.5,104.2 10.0,105.0 7.4,105.3 4.8,105.6 2.4,106.8 -0.1,107.6 -2.7,108.2 -5.2,109.2 -7.8,109.4 -10.5,109.3 -13.1,109.8 -15.8,110.0 -18.7,110.5 -21.7,111.6 -24.8,111.8 -27.8,112.2 -30.8,112.1 -33.7,111.7 -36.3,112.3 -38.7,112.6 -40.6,112.7 -42.2,113.1" fill="none" stroke="#1cd01c" stroke-width="1.1628289234452054" stroke-linecap="round" stroke-linejoin="round" opacity="0.57"/>
<path d="M100.9,64.3 99.5,64.5 97.7,64.8 95.7,65.3 93.4,65.6 90.8,65.1 88.1,65.5 85.3,66.1 82.5,66.7 79.7,67.7 76.7,67.6 73.9,67.6 71.2,68.2 68.6,68.5 66.1,69.7 63.5,70.5 60.7,70.5 58.1,71.0 55.4,71.3 52.8,71.9 50.3,73.4 47.7,74.0 45.1,74.5 42.5,75.1 39.7,75.2 37.2,76.2 34.8,77.5 32.2,78.2 29.7,79.2 27.0,79.7 24.2,79.9 21.8,81.2 19.3,82.3 16.9,83.4 14.4,84.6 11.7,84.8 9.0,85.5 6.6,86.8 4.2,87.7 1.9,89.3 -0.7,90.5 -3.6,91.0 -6.3,92.2 -9.0,93.2 -11.4,94.8 -13.6,96.5 -16.1,97.2 -18.3,98.0 -20.2,98.8 -21.9,99.2 -23.3,99.6" fill="none" stroke="#1cd01c" stroke-width="1.555406405586586" stroke-linecap="round" stroke-linejoin="round" opacity="0.51"/>
<path d="M51.6,33.1 51.0,34.5 50.0,36.1 49.1,38.1 48.0,40.3 46.0,42.2 44.2,44.5 43.0,47.2 41.5,49.8 40.6,52.7 38.5,54.9 36.7,57.2 35.5,59.6 34.2,61.8 33.5,64.4 32.4,66.7 30.5,68.6 29.2,70.8 27.9,73.0 26.6,75.3 26.1,77.9 24.9,80.2 23.3,82.3 22.0,84.5 20.5,86.7 19.4,89.0 19.0,91.7 17.8,93.9 16.4,96.1 15.1,98.4 13.5,100.4 12.6,102.9 12.1,105.5 10.9,107.8 9.8,110.1 8.5,112.3 6.8,114.4 6.1,117.0 5.4,119.8 4.2,122.5 3.1,125.3 1.1,127.7 0.1,130.5 -0.6,133.3 -1.6,135.8 -2.2,138.2 -3.3,140.1 -4.7,141.6 -5.4,142.9" fill="none" stroke="#1cd01c" stroke-width="1.374129564306045" stroke-linecap="round" stroke-linejoin="round" opacity="0.42"/>
<path d="M140.0,82.7 138.3,83.0 136.2,83.5 133.6,84.3 130.7,84.0 127.5,84.0 124.4,84.8 121.2,85.5 118.2,86.4 115.2,86.2 112.5,86.4 109.9,87.5 107.3,88.2 104.7,89.2 102.0,89.8 99.1,89.7 96.6,90.6 94.1,92.0 91.5,92.8 89.0,93.8 86.3,94.3 83.5,94.6 81.1,96.2 78.7,97.6 76.1,98.5 73.6,99.5 70.8,100.0 68.3,101.1 66.1,103.2 63.3,104.5 60.4,105.8 57.3,106.9 54.5,108.4 52.4,110.6 50.0,111.7 48.0,112.5 46.5,113.3" fill="none" stroke="#1cd01c" stroke-width="1.0563157812469193" stroke-linecap="round" stroke-linejoin="round" opacity="0.67"/>
<path d="M-0.0,8.1 1.7,8.2 4.0,7.9 6.6,6.9 9.5,6.2 12.4,5.1 15.4,4.5 18.3,4.8 20.9,4.6 23.7,4.1 26.6,3.8 29.3,3.0 31.9,2.7 34.4,3.2 36.4,3.5 40.1,4.4 42.7,5.8 44.7,6.3" fill="none" stroke="rgb(25,205,19)" stroke-width="3.5999999999999996" stroke-linecap="round" stroke-linejoin="round" opacity="0.70"/>
<path d="M-0.1,20.2 1.1,21.2 2.8,22.2 5.1,22.7 7.6,23.6 9.7,25.6 12.0,27.4 14.7,28.8 17.4,30.3 20.3,31.5 22.1,33.1 23.7,35.1 25.8,36.5 28.4,37.5 30.6,39.0 32.8,40.6 34.9,42.3 36.8,44.4 39.0,45.8 41.5,46.7 43.5,48.2 45.0,50.0 47.2,52.1 49.4,54.2 51.9,56.1 54.5,57.7 56.1,60.1 57.5,62.3 59.3,63.8 61.0,64.9 62.1,65.9" fill="none" stroke="rgb(24,200,18)" stroke-width="3.84" stroke-linecap="round" stroke-linejoin="round" opacity="0.70"/>
<path d="M38.5,21.6 39.6,22.9 40.7,24.9 42.3,27.2 44.5,29.3 46.6,31.5 48.7,33.6 50.5,35.7 51.4,38.8 52.0,42.0 53.8,44.9 55.1,47.6 55.6,50.2 56.1,52.0" fill="none" stroke="rgb(22,195,17)" stroke-width="3.5999999999999996" stroke-linecap="round" stroke-linejoin="round" opacity="0.70"/>
<path d="M20.3,54.5 21.8,55.5 23.5,57.6 26.2,59.3 30.0,59.9 32.3,60.3 35.2,60.3 38.4,60.8 41.6,61.9 44.8,61.7 47.8,61.5 50.2,61.7 52.0,61.7" fill="none" stroke="rgb(22,195,17)" stroke-width="3.5999999999999996" stroke-linecap="round" stroke-linejoin="round" opacity="0.70"/>
<ellipse cx="13.7" cy="15.5" rx="5.4" ry="3.2" fill="rgb(28,211,21)" opacity="0.75" transform="rotate(28.462677011280093 13.7 15.5)"/>
<ellipse cx="13.1" cy="13.8" rx="3.0" ry="2.0" fill="rgb(42,241,32)" opacity="0.6"/>
<ellipse cx="39.2" cy="21.9" rx="4.5" ry="3.2" fill="rgb(30,216,23)" opacity="0.75" transform="rotate(-4.727904592720222 39.2 21.9)"/>
<ellipse cx="39.4" cy="22.9" rx="2.5" ry="2.0" fill="rgb(46,248,35)" opacity="0.6"/>
<ellipse cx="52.8" cy="38.3" rx="5.4" ry="4.0" fill="rgb(32,221,24)" opacity="0.75" transform="rotate(-1.0042006255638114 52.8 38.3)"/>
<ellipse cx="50.9" cy="39.5" rx="3.0" ry="2.5" fill="rgb(50,255,38)" opacity="0.6"/>
<ellipse cx="78.3" cy="27.3" rx="4.5" ry="3.2" fill="rgb(28,211,21)" opacity="0.75" transform="rotate(-34.87545107070548 78.3 27.3)"/>
<ellipse cx="79.5" cy="26.0" rx="2.5" ry="2.0" fill="rgb(42,241,32)" opacity="0.6"/>
<ellipse cx="9.1" cy="43.7" rx="4.5" ry="3.2" fill="rgb(28,211,21)" opacity="0.75" transform="rotate(-13.199653812299104 9.1 43.7)"/>
<ellipse cx="10.3" cy="42.3" rx="2.5" ry="2.0" fill="rgb(42,241,32)" opacity="0.6"/>
<ellipse cx="45.5" cy="48.3" rx="4.5" ry="3.2" fill="rgb(24,201,18)" opacity="0.75" transform="rotate(-28.10595572005278 45.5 48.3)"/>
<ellipse cx="45.6" cy="49.2" rx="2.5" ry="2.0" fill="rgb(35,228,27)" opacity="0.6"/>
<ellipse cx="10.9" cy="45.2" rx="4.5" ry="3.2" fill="rgb(28,211,21)" opacity="0.75" transform="rotate(27.198115395239753 10.9 45.2)"/>
<ellipse cx="11.7" cy="47.0" rx="2.5" ry="2.0" fill="rgb(42,241,32)" opacity="0.6"/>
<ellipse cx="36.4" cy="53.9" rx="5.4" ry="4.0" fill="rgb(30,216,23)" opacity="0.75" transform="rotate(-0.5934962159686492 36.4 53.9)"/>
<ellipse cx="38.2" cy="52.3" rx="3.0" ry="2.5" fill="rgb(46,248,35)" opacity="0.6"/>
<ellipse cx="47.7" cy="72.1" rx="5.4" ry="4.8" fill="rgb(32,221,24)" opacity="0.75" transform="rotate(-22.286866641389082 47.7 72.1)"/>
<ellipse cx="47.8" cy="71.3" rx="3.0" ry="3.0" fill="rgb(50,255,38)" opacity="0.6"/>
<ellipse cx="52.8" cy="48.5" rx="4.5" ry="3.2" fill="rgb(28,211,21)" opacity="0.75" transform="rotate(18.307456112820603 52.8 48.5)"/>
<ellipse cx="53.4" cy="48.6" rx="2.5" ry="2.0" fill="rgb(42,241,32)" opacity="0.6"/>
<ellipse cx="67.4" cy="52.1" rx="4.5" ry="2.8" fill="rgb(28,211,21)" opacity="0.75" transform="rotate(27.489871923453833 67.4 52.1)"/>
<ellipse cx="67.6" cy="51.4" rx="2.5" ry="1.8" fill="rgb(42,241,32)" opacity="0.6"/>
<ellipse cx="85.6" cy="59.4" rx="4.5" ry="2.8" fill="rgb(28,211,21)" opacity="0.75" transform="rotate(-9.502641585597658 85.6 59.4)"/>
<ellipse cx="87.0" cy="61.0" rx="2.5" ry="1.8" fill="rgb(42,241,32)" opacity="0.6"/>
<ellipse cx="25.5" cy="52.8" rx="4.5" ry="3.2" fill="rgb(24,201,18)" opacity="0.75" transform="rotate(-23.340834197726245 25.5 52.8)"/>
<ellipse cx="26.9" cy="54.7" rx="2.5" ry="2.0" fill="rgb(35,228,27)" opacity="0.6"/>
<ellipse cx="69.2" cy="51.0" rx="4.5" ry="3.2" fill="rgb(24,201,18)" opacity="0.75" transform="rotate(1.9380755859389325 69.2 51.0)"/>
<ellipse cx="69.5" cy="49.8" rx="2.5" ry="2.0" fill="rgb(35,228,27)" opacity="0.6"/>
</g>
<g filter="url(#b07)">
<path d="M0.5,17.0 1.5,18.9 2.9,21.5 4.5,24.6 5.9,27.6 7.8,29.4 9.3,31.6 10.4,34.0 11.7,36.4 12.3,39.3 13.4,41.9 15.3,44.6 16.5,47.6 17.9,50.3 18.3,53.0 18.6,54.9" fill="none" stroke="rgb(50,255,38)" stroke-width="2.5" stroke-linecap="round" stroke-linejoin="round" opacity="0.95"/>
<path d="M42.6,0.2 43.9,1.6 46.0,3.3 48.2,5.6 51.0,7.1 53.2,8.6 55.4,11.2 57.8,12.8 60.8,14.7 63.0,15.3 65.4,15.3 67.9,15.8 70.5,16.5 73.5,17.1 76.4,18.7 78.7,19.4 81.6,19.6 84.6,20.4 87.8,20.7 90.7,21.8 93.4,23.2 96.0,23.8 98.1,24.5 99.7,24.9" fill="none" stroke="rgb(50,255,38)" stroke-width="2.5" stroke-linecap="round" stroke-linejoin="round" opacity="0.95"/>
<path d="M99.7,-0.2 98.1,0.8 95.7,2.3 93.4,4.3 91.4,5.9 87.8,7.7 85.2,10.2 84.4,12.9 83.7,15.6 82.5,18.3 81.0,21.5 79.1,24.8 77.8,27.1" fill="none" stroke="rgb(50,255,38)" stroke-width="3.25" stroke-linecap="round" stroke-linejoin="round" opacity="0.95"/>
<path d="M23.5,9.3 24.8,10.3 26.8,11.5 28.8,13.3 30.5,15.6 32.6,17.8 34.5,20.0 36.0,22.2 37.9,24.4 40.2,26.1 42.1,28.0 43.8,30.2 45.8,32.2 47.7,34.3 49.0,36.5 50.6,38.7 52.6,40.5 54.6,42.2 56.4,44.1 58.4,45.7 60.5,47.0 62.8,49.3 64.8,51.9 66.9,54.0 68.7,55.9 69.8,57.4" fill="none" stroke="rgb(38,234,29)" stroke-width="2.25" stroke-linecap="round" stroke-linejoin="round" opacity="0.95"/>
<path d="M60.0,27.9 61.8,28.0 64.3,27.6 67.2,27.6 70.2,28.3 72.9,29.0 75.4,29.8 77.8,31.2 80.1,32.6 82.9,33.4 85.8,34.3 88.2,35.7 90.9,37.5 93.7,39.3 95.9,41.5 97.9,43.2 99.5,44.1" fill="none" stroke="rgb(38,234,29)" stroke-width="2.25" stroke-linecap="round" stroke-linejoin="round" opacity="0.95"/>
<path d="M49.3,30.3 50.7,29.2 52.6,28.2 55.1,27.7 57.9,26.9 60.9,26.2 64.0,25.3 66.8,23.4 69.9,22.7 72.8,22.1 75.6,21.7 78.6,21.7 81.6,20.6 84.6,19.7 87.8,19.5 90.8,19.2 93.7,19.5 96.2,19.2 98.2,18.4 99.8,17.9" fill="none" stroke="rgb(29,214,22)" stroke-width="1.625" stroke-linecap="round" stroke-linejoin="round" opacity="0.95"/>
<path d="M21.6,31.1 22.4,32.7 23.9,34.7 26.1,36.7 27.8,39.3 29.4,41.7 31.2,44.3 32.2,47.6 33.8,50.5 35.2,53.0 36.0,54.9" fill="none" stroke="rgb(35,228,27)" stroke-width="2.0" stroke-linecap="round" stroke-linejoin="round" opacity="0.95"/>
<path d="M99.4,26.9 98.5,28.4 96.7,30.2 94.8,32.3 93.3,34.8 91.3,36.6 89.4,39.2 87.4,41.7 85.8,44.5 85.5,47.3 85.7,51.1 87.5,54.4 88.0,56.9" fill="none" stroke="rgb(35,228,27)" stroke-width="2.0" stroke-linecap="round" stroke-linejoin="round" opacity="0.95"/>
<path d="M54.3,0.2 55.8,2.1 58.3,4.4 60.3,7.1 62.1,9.3 64.8,10.8 67.5,11.8 69.3,12.7" fill="none" stroke="rgb(29,214,22)" stroke-width="1.5" stroke-linecap="round" stroke-linejoin="round" opacity="0.95"/>
<path d="M72.8,0.0 74.6,1.0 76.4,3.2 78.2,5.6 80.1,7.4 83.1,9.8 85.7,10.3" fill="none" stroke="rgb(29,214,22)" stroke-width="1.5" stroke-linecap="round" stroke-linejoin="round" opacity="0.95"/>
<path d="M31.2,0.1 30.4,2.0 28.4,4.4 27.0,7.1 25.9,9.9 23.9,12.3 22.1,14.7 19.8,17.1 18.1,19.7 17.5,22.0" fill="none" stroke="rgb(29,214,22)" stroke-width="1.625" stroke-linecap="round" stroke-linejoin="round" opacity="0.95"/>
<path d="M-0.4,33.1 1.3,34.4 3.9,36.1 5.7,39.1 7.2,41.9 8.0,44.5 8.7,47.5 10.3,50.2 11.0,52.7 11.1,54.6" fill="none" stroke="rgb(35,228,27)" stroke-width="1.875" stroke-linecap="round" stroke-linejoin="round" opacity="0.95"/>
<path d="M38.4,22.7 38.5,24.4 39.0,26.6 40.3,29.0 41.3,31.8 42.5,34.6 43.6,37.3 43.6,40.1 43.6,43.2 44.6,46.4 45.1,49.6 45.5,52.6 45.8,55.1 45.5,57.0" fill="none" stroke="rgb(29,214,22)" stroke-width="1.875" stroke-linecap="round" stroke-linejoin="round" opacity="0.95"/>
<path d="M69.4,32.6 70.2,34.3 71.6,36.4 73.3,38.8 74.6,41.5 76.5,43.7 77.8,46.3 78.7,49.4 79.7,52.4 79.7,55.2 79.8,57.1" fill="none" stroke="rgb(29,214,22)" stroke-width="1.625" stroke-linecap="round" stroke-linejoin="round" opacity="0.95"/>
<path d="M3.8,0.0 3.5,2.0 2.9,4.8 1.5,7.2 0.5,10.4 -0.2,12.7" fill="none" stroke="rgb(35,228,27)" stroke-width="1.875" stroke-linecap="round" stroke-linejoin="round" opacity="0.95"/>
<path d="M0.1,66.2 1.6,65.5 3.8,64.8 6.5,64.5 9.4,63.9 12.4,63.5 15.5,63.9 18.3,63.6 20.8,62.8 23.3,62.5 25.7,62.1 28.2,61.4 30.8,61.1 33.5,61.5 36.5,61.6 38.8,61.3 41.4,61.3 44.0,61.1 46.7,60.3 49.4,59.9 52.1,60.3 54.9,60.3 57.5,60.3 60.1,60.8 62.9,60.9 65.8,60.3 68.6,60.2 71.4,60.4 74.2,60.4 76.8,60.8 79.4,61.6 81.9,61.8 84.9,61.5 87.9,61.6 90.9,61.5 93.7,61.3 96.2,61.8 98.2,62.5 99.8,62.7" fill="none" stroke="rgb(50,255,38)" stroke-width="3.0" stroke-linecap="round" stroke-linejoin="round" opacity="0.95"/>
<path d="M54.7,58.6 56.2,58.3 58.3,58.2 60.8,58.0 63.4,56.7 66.4,56.3 69.7,56.3 72.9,56.1 75.4,55.8 78.0,54.5 81.1,54.4 84.3,54.3 87.5,54.2 90.6,53.4 93.4,52.3 96.0,52.6 98.2,52.5 99.8,52.3" fill="none" stroke="rgb(42,241,32)" stroke-width="2.25" stroke-linecap="round" stroke-linejoin="round" opacity="0.95"/>
<path d="M17.9,50.3 18.3,51.7 18.7,53.6 18.5,55.9 18.0,58.5 18.7,61.2 19.5,64.1 19.6,67.2 19.8,70.3 19.5,72.8 19.6,75.6 20.8,78.5 20.9,81.6 20.5,84.9 20.8,88.0 21.0,91.0 21.8,93.8 22.1,96.3 21.7,98.4 21.3,100.1" fill="none" stroke="rgb(46,248,35)" stroke-width="2.5" stroke-linecap="round" stroke-linejoin="round" opacity="0.95"/>
<path d="M-0.2,43.4 1.7,43.9 4.1,45.0 6.2,47.3 8.6,49.2 10.8,50.5 13.9,52.0 16.7,52.8 18.4,54.0" fill="none" stroke="rgb(46,248,35)" stroke-width="2.5" stroke-linecap="round" stroke-linejoin="round" opacity="0.95"/>
<path d="M2.3,77.7 2.9,79.4 3.3,82.0 3.9,84.8 4.9,87.7 4.8,90.3 5.1,94.2 5.1,97.7 5.2,100.1" fill="none" stroke="rgb(24,201,18)" stroke-width="2.0" stroke-linecap="round" stroke-linejoin="round" opacity="0.95"/>
<path d="M51.6,75.1 53.0,76.3 54.6,78.2 55.7,81.0 57.2,83.7 58.3,86.5 60.0,88.6 62.0,90.9 63.0,93.8 64.2,96.3 64.9,98.6 65.4,100.3" fill="none" stroke="rgb(38,234,29)" stroke-width="2.0" stroke-linecap="round" stroke-linejoin="round" opacity="0.95"/>
<path d="M67.0,64.9 67.1,66.5 66.6,68.8 66.8,71.5 67.5,74.4 67.6,77.4 68.3,80.4 67.9,83.1 67.8,86.2 67.6,89.5 67.7,92.7 68.5,95.7 68.5,98.2 68.9,100.0" fill="none" stroke="rgb(24,201,18)" stroke-width="1.25" stroke-linecap="round" stroke-linejoin="round" opacity="0.95"/>
<path d="M88.0,65.8 87.5,67.6 86.7,70.0 85.2,72.7 84.0,75.9 83.9,79.5 83.6,81.9 83.0,84.6 82.6,87.6 81.8,90.6 80.7,93.4 80.3,96.1 80.4,98.4 80.3,100.0" fill="none" stroke="rgb(22,194,17)" stroke-width="1.25" stroke-linecap="round" stroke-linejoin="round" opacity="0.95"/>
<path d="M87.3,62.8 88.0,64.2 89.2,66.3 90.4,68.7 92.2,71.1 94.1,73.3 94.9,75.7 96.0,79.0 97.5,82.2 98.7,84.9 100.0,86.6" fill="none" stroke="rgb(35,228,27)" stroke-width="2.125" stroke-linecap="round" stroke-linejoin="round" opacity="0.95"/>
<path d="M33.3,63.0 33.4,65.1 32.7,68.2 32.2,71.6 32.4,74.9 32.0,77.6 30.7,80.8 28.6,83.0 25.3,84.1 22.7,84.9 19.6,86.6 16.2,87.2 13.0,87.1 10.9,87.4" fill="none" stroke="rgb(18,180,14)" stroke-width="2.75" stroke-linecap="round" stroke-linejoin="round" opacity="0.95"/>
<path d="M100.0,88.6 99.2,90.7 97.6,93.3 95.9,95.6 95.5,98.3 95.7,100.0" fill="none" stroke="rgb(24,201,18)" stroke-width="1.625" stroke-linecap="round" stroke-linejoin="round" opacity="0.95"/>
<path d="M36.1,62.4 37.7,63.7 39.7,65.8 42.0,68.0 44.1,70.0 46.1,73.2 48.9,75.4 51.0,76.7" fill="none" stroke="rgb(35,228,27)" stroke-width="2.5" stroke-linecap="round" stroke-linejoin="round" opacity="0.95"/>
<path d="M72.5,60.8 73.8,59.5 76.1,58.0 78.5,56.1 80.3,54.0 82.6,51.9 84.4,49.4 85.3,46.5 86.2,43.3 86.8,39.9 87.0,37.5" fill="none" stroke="rgb(35,228,27)" stroke-width="1.875" stroke-linecap="round" stroke-linejoin="round" opacity="0.95"/>
<path d="M23.7,61.2 25.0,59.3 26.6,56.3 29.3,54.1 31.3,52.6 32.8,50.3 34.5,48.2 36.3,46.5 38.4,43.8 41.0,41.6 42.2,39.6" fill="none" stroke="rgb(35,228,27)" stroke-width="2.0" stroke-linecap="round" stroke-linejoin="round" opacity="0.95"/>
</g>
<rect width="100" height="99" filter="url(#mot)" opacity="0.85"/>
<rect x="56" y="90.3" width="39" height="2.2" fill="#fff"/>
</g>
<g transform="translate(168,26)" clip-path="url(#cA1)">
<rect width="100" height="99" fill="#020002"/>
<g filter="url(#b2)" opacity="0.22">
<ellipse cx="10.9" cy="4.0" rx="6.2" ry="3.3" fill="#900890" opacity="0.51" transform="rotate(-5 10.9 4.0)"/>
<ellipse cx="20.0" cy="2.6" rx="6.2" ry="2.4" fill="#900890" opacity="0.36"/>
<ellipse cx="32.8" cy="5.5" rx="10.9" ry="4.0" fill="#900890" opacity="0.42" transform="rotate(8 32.8 5.5)"/>
<ellipse cx="8.2" cy="14.6" rx="2.8" ry="5.7" fill="#900890" opacity="0.33"/>
<ellipse cx="17.3" cy="17.3" rx="2.8" ry="5.2" fill="#900890" opacity="0.3" transform="rotate(10 17.3 17.3)"/>
<ellipse cx="12.8" cy="11.3" rx="6.2" ry="1.9" fill="#900890" opacity="0.33"/>
<ellipse cx="13.1" cy="21.5" rx="6.2" ry="1.9" fill="#900890" opacity="0.3"/>
<ellipse cx="36.4" cy="23.7" rx="9.5" ry="6.2" fill="#900890" opacity="0.44999999999999996" transform="rotate(-20 36.4 23.7)"/>
<ellipse cx="7.3" cy="25.5" rx="5.2" ry="4.7" fill="#900890" opacity="0.27"/>
<ellipse cx="23.7" cy="41.9" rx="4.7" ry="13.7" fill="#900890" opacity="0.57" transform="rotate(5 23.7 41.9)"/>
<ellipse cx="7.3" cy="45.5" rx="5.2" ry="5.7" fill="#900890" opacity="0.6"/>
<ellipse cx="38.3" cy="33.7" rx="7.6" ry="3.8" fill="#900890" opacity="0.36" transform="rotate(10 38.3 33.7)"/>
<ellipse cx="51.9" cy="46.4" rx="10.7" ry="11.8" fill="#900890" opacity="0.54" transform="rotate(-15 51.9 46.4)"/>
<ellipse cx="60.1" cy="45.5" rx="6.6" ry="7.1" fill="#900890" opacity="0.48"/>
<ellipse cx="69.2" cy="14.6" rx="9.9" ry="4.7" fill="#900890" opacity="0.54" transform="rotate(-20 69.2 14.6)"/>
<ellipse cx="81.1" cy="8.2" rx="6.2" ry="3.8" fill="#900890" opacity="0.48"/>
<ellipse cx="83.8" cy="19.1" rx="5.2" ry="6.2" fill="#900890" opacity="0.48"/>
<ellipse cx="79.2" cy="29.1" rx="9.0" ry="7.1" fill="#900890" opacity="0.54" transform="rotate(-10 79.2 29.1)"/>
<ellipse cx="95.6" cy="25.5" rx="5.7" ry="7.6" fill="#900890" opacity="0.51"/>
<ellipse cx="92.0" cy="42.8" rx="6.4" ry="6.4" fill="#900890" opacity="0.6" transform="rotate(20 92.0 42.8)"/>
<ellipse cx="81.1" cy="51.0" rx="6.4" ry="4.7" fill="#900890" opacity="0.48" transform="rotate(-10 81.1 51.0)"/>
<ellipse cx="97.4" cy="53.7" rx="3.8" ry="4.3" fill="#900890" opacity="0.48"/>
<ellipse cx="76.9" cy="3.1" rx="4.3" ry="2.1" fill="#900890" opacity="0.42"/>
<ellipse cx="94.7" cy="10.0" rx="6.6" ry="3.3" fill="#900890" opacity="0.3"/>
<ellipse cx="29.1" cy="17.3" rx="6.6" ry="3.3" fill="#900890" opacity="0.3" transform="rotate(-30 29.1 17.3)"/>
<ellipse cx="18.2" cy="8.2" rx="4.7" ry="2.8" fill="#900890" opacity="0.3"/>
<ellipse cx="45.5" cy="10.9" rx="4.7" ry="2.4" fill="#900890" opacity="0.21" transform="rotate(20 45.5 10.9)"/>
<ellipse cx="61.0" cy="27.3" rx="3.3" ry="1.9" fill="#900890" opacity="0.24" transform="rotate(30 61.0 27.3)"/>
<ellipse cx="36.4" cy="49.4" rx="8.1" ry="4.7" fill="#900890" opacity="0.57"/>
<ellipse cx="50.1" cy="50.3" rx="6.6" ry="5.7" fill="#900890" opacity="0.57"/>
<ellipse cx="30.1" cy="63.0" rx="9.0" ry="12.3" fill="#900890" opacity="0.44999999999999996" transform="rotate(10 30.1 63.0)"/>
<ellipse cx="47.7" cy="72.1" rx="9.9" ry="11.8" fill="#900890" opacity="0.6" transform="rotate(-15 47.7 72.1)"/>
<ellipse cx="39.2" cy="61.2" rx="7.1" ry="7.1" fill="#900890" opacity="0.42"/>
<ellipse cx="14.2" cy="74.0" rx="8.5" ry="3.3" fill="#900890" opacity="0.51" transform="rotate(-28 14.2 74.0)"/>
<ellipse cx="16.8" cy="84.2" rx="5.0" ry="5.7" fill="#900890" opacity="0.6"/>
<ellipse cx="17.7" cy="79.4" rx="2.1" ry="2.8" fill="#900890" opacity="0.6" transform="rotate(15 17.7 79.4)"/>
<ellipse cx="58.7" cy="91.8" rx="4.5" ry="5.2" fill="#900890" opacity="0.6" transform="rotate(-15 58.7 91.8)"/>
<ellipse cx="61.2" cy="96.2" rx="2.4" ry="3.3" fill="#900890" opacity="0.6" transform="rotate(-20 61.2 96.2)"/>
<ellipse cx="56.8" cy="88.2" rx="1.9" ry="2.4" fill="#900890" opacity="0.6" transform="rotate(-20 56.8 88.2)"/>
<ellipse cx="59.2" cy="46.6" rx="5.7" ry="4.7" fill="#900890" opacity="0.48"/>
<ellipse cx="68.3" cy="53.0" rx="10.7" ry="4.3" fill="#900890" opacity="0.42" transform="rotate(30 68.3 53.0)"/>
<ellipse cx="79.2" cy="50.3" rx="6.2" ry="2.4" fill="#900890" opacity="0.48"/>
<ellipse cx="86.5" cy="60.9" rx="10.7" ry="3.1" fill="#900890" opacity="0.57" transform="rotate(5 86.5 60.9)"/>
<ellipse cx="92.9" cy="45.2" rx="4.7" ry="3.3" fill="#900890" opacity="0.6"/>
<ellipse cx="90.2" cy="74.0" rx="3.1" ry="7.6" fill="#900890" opacity="0.51" transform="rotate(-20 90.2 74.0)"/>
<ellipse cx="94.7" cy="81.6" rx="4.7" ry="3.8" fill="#900890" opacity="0.54" transform="rotate(30 94.7 81.6)"/>
<ellipse cx="98.4" cy="93.1" rx="2.4" ry="6.2" fill="#900890" opacity="0.51"/>
<ellipse cx="72.9" cy="66.7" rx="1.9" ry="1.4" fill="#900890" opacity="0.36"/>
<ellipse cx="81.1" cy="74.9" rx="2.4" ry="1.4" fill="#900890" opacity="0.36" transform="rotate(30 81.1 74.9)"/>
<ellipse cx="71.0" cy="60.3" rx="1.4" ry="2.4" fill="#900890" opacity="0.3"/>
<ellipse cx="21.9" cy="75.8" rx="4.7" ry="2.4" fill="#900890" opacity="0.3" transform="rotate(-30 21.9 75.8)"/>
<ellipse cx="54.6" cy="63.0" rx="3.8" ry="2.8" fill="#900890" opacity="0.36"/>
<ellipse cx="21.9" cy="7.3" rx="11.8" ry="5.7" fill="#900890" opacity="0.21"/>
<ellipse cx="34.6" cy="16.4" rx="8.5" ry="6.2" fill="#900890" opacity="0.24"/>
<ellipse cx="41.9" cy="59.4" rx="11.8" ry="14.2" fill="#900890" opacity="0.36"/>
<ellipse cx="27.3" cy="53.9" rx="9.5" ry="9.5" fill="#900890" opacity="0.33"/>
</g>
<g filter="url(#b07)">
<path d="M14.0,6.4 C13.2,6.8 11.4,7.0 10.3,7.0 C9.2,7.0 7.9,6.5 7.3,6.1 C6.7,5.7 6.8,5.0 6.6,4.4 C6.5,3.8 5.7,3.0 6.2,2.4 C6.6,1.8 8.4,1.1 9.5,0.9 C10.7,0.8 12.2,1.1 13.2,1.4 C14.2,1.7 15.3,2.1 15.6,2.6 C15.9,3.1 15.4,3.8 15.1,4.4 C14.8,5.0 14.8,5.9 14.0,6.4Z" fill="rgb(198,26,198)" opacity="0.92"/>
<path d="M24.8,2.6 C24.7,3.0 24.8,3.7 24.1,3.9 C23.4,4.1 21.8,3.9 20.6,4.0 C19.4,4.1 17.7,4.7 17.0,4.5 C16.2,4.4 16.1,3.5 15.9,3.1 C15.8,2.7 15.6,2.3 16.0,1.9 C16.4,1.6 17.3,1.6 18.2,1.3 C19.1,1.0 20.2,0.1 21.3,0.1 C22.4,0.1 24.0,0.7 24.6,1.2 C25.1,1.6 24.9,2.1 24.8,2.6Z" fill="rgb(172,15,172)" opacity="0.92"/>
<path d="M39.9,3.9 C40.7,4.7 39.5,5.5 39.4,6.2 C39.3,6.9 40.0,7.6 39.2,8.1 C38.4,8.6 36.3,9.1 34.7,9.0 C33.1,8.9 31.5,7.9 29.5,7.4 C27.4,6.9 23.1,6.4 22.4,5.8 C21.6,5.2 23.8,4.1 24.9,3.6 C26.0,3.0 27.4,3.0 28.9,2.7 C30.5,2.4 32.4,1.5 34.2,1.7 C36.0,1.9 39.0,3.2 39.9,3.9Z" fill="rgb(183,18,183)" opacity="0.92"/>
<path d="M10.3,18.7 C10.0,19.4 9.0,19.2 8.4,19.2 C7.8,19.1 7.2,19.1 6.8,18.6 C6.4,18.0 6.2,16.7 6.1,15.7 C6.0,14.7 5.9,13.4 6.1,12.6 C6.3,11.8 6.9,11.3 7.4,11.0 C7.8,10.8 8.1,11.1 8.6,11.2 C9.2,11.2 10.3,10.7 10.5,11.3 C10.8,11.9 10.2,13.7 10.2,14.9 C10.2,16.2 10.6,18.0 10.3,18.7Z" fill="rgb(167,14,167)" opacity="0.92"/>
<path d="M18.3,13.9 C18.8,14.0 19.9,13.6 20.2,14.3 C20.5,15.0 20.4,16.8 20.1,17.9 C19.9,19.0 19.3,20.1 18.8,20.8 C18.2,21.6 17.4,22.2 16.9,22.2 C16.3,22.2 15.8,21.5 15.4,20.9 C15.0,20.3 14.5,19.3 14.5,18.5 C14.6,17.6 15.4,16.6 15.8,15.8 C16.2,15.0 16.4,13.8 16.8,13.4 C17.2,13.1 17.7,13.7 18.3,13.9Z" fill="rgb(162,13,162)" opacity="0.92"/>
<path d="M14.7,10.1 C15.9,10.2 17.9,10.3 18.6,10.6 C19.3,10.8 19.2,11.5 18.7,11.9 C18.1,12.2 16.4,12.4 15.4,12.6 C14.3,12.7 13.2,12.8 12.1,12.7 C11.1,12.7 9.8,12.6 9.1,12.3 C8.4,12.1 8.2,11.7 8.0,11.4 C7.7,11.0 6.9,10.3 7.6,10.1 C8.2,9.8 10.5,9.8 11.7,9.9 C12.9,9.9 13.6,10.0 14.7,10.1Z" fill="rgb(167,14,167)" opacity="0.92"/>
<path d="M17.0,21.7 C16.8,22.1 17.5,22.5 16.8,22.8 C16.2,23.1 14.3,23.5 13.2,23.5 C12.0,23.5 10.7,23.0 9.9,22.7 C9.0,22.4 8.3,22.1 8.1,21.8 C7.9,21.4 8.0,21.0 8.5,20.7 C9.0,20.4 10.1,19.9 11.1,19.8 C12.1,19.7 13.4,20.1 14.6,20.2 C15.7,20.4 17.4,20.4 17.8,20.7 C18.2,20.9 17.2,21.3 17.0,21.7Z" fill="rgb(162,13,162)" opacity="0.92"/>
<path d="M28.4,24.6 C28.5,23.7 30.9,22.2 32.2,21.4 C33.5,20.5 34.7,19.8 36.1,19.4 C37.5,19.0 39.0,18.8 40.6,19.0 C42.2,19.1 45.3,19.4 45.6,20.4 C45.9,21.3 43.6,23.3 42.6,24.6 C41.6,25.9 40.9,27.5 39.6,28.2 C38.2,28.9 35.8,28.8 34.5,28.6 C33.1,28.4 32.5,27.6 31.5,26.9 C30.5,26.2 28.3,25.5 28.4,24.6Z" fill="rgb(188,21,188)" opacity="0.92"/>
<path d="M11.9,27.4 C11.4,28.3 10.4,29.3 9.5,29.6 C8.6,29.9 7.3,29.3 6.3,29.1 C5.3,28.8 4.1,28.7 3.4,28.1 C2.8,27.4 2.5,26.2 2.5,25.2 C2.5,24.2 2.8,23.0 3.5,22.2 C4.1,21.4 5.7,20.6 6.7,20.6 C7.7,20.6 8.6,21.8 9.6,22.4 C10.5,23.0 12.2,23.3 12.6,24.1 C13.0,24.9 12.5,26.4 11.9,27.4Z" fill="rgb(156,12,156)" opacity="0.92"/>
<path d="M27.9,39.3 C27.9,42.2 28.0,46.1 27.4,48.3 C26.8,50.5 25.3,51.7 24.4,52.4 C23.4,53.0 22.4,52.8 21.8,52.0 C21.1,51.1 20.9,49.1 20.4,47.1 C20.0,45.1 18.8,42.1 19.1,40.1 C19.4,38.1 21.2,36.2 22.0,35.1 C22.9,33.9 23.3,33.9 24.2,33.3 C25.1,32.7 26.7,30.3 27.3,31.4 C27.9,32.4 27.9,36.5 27.9,39.3Z" fill="rgb(209,32,209)" opacity="0.92"/>
<path d="M7.9,40.9 C8.9,40.9 10.7,41.1 11.1,41.8 C11.6,42.6 10.7,44.4 10.5,45.4 C10.4,46.5 10.6,47.4 10.2,48.1 C9.8,48.8 8.9,49.4 8.0,49.6 C7.2,49.9 6.0,49.9 5.3,49.5 C4.6,49.1 4.2,47.8 4.0,47.0 C3.8,46.1 4.0,45.2 4.2,44.4 C4.4,43.6 4.6,42.5 5.2,41.9 C5.9,41.3 6.9,40.9 7.9,40.9Z" fill="rgb(214,36,214)" opacity="0.92"/>
<path d="M45.0,32.5 C45.9,33.1 45.7,34.5 45.3,35.2 C44.8,35.8 43.5,36.4 42.3,36.6 C41.2,36.8 39.9,36.5 38.4,36.5 C36.9,36.4 34.4,36.7 33.4,36.2 C32.3,35.7 32.3,34.4 32.1,33.5 C31.8,32.7 31.3,31.5 32.1,31.2 C32.8,30.8 35.3,31.3 36.6,31.3 C37.9,31.3 38.5,31.2 39.9,31.4 C41.3,31.6 44.1,31.8 45.0,32.5Z" fill="rgb(172,15,172)" opacity="0.92"/>
<path d="M54.6,35.6 C56.6,35.9 59.7,38.1 60.8,40.2 C61.9,42.2 61.8,45.7 61.3,47.9 C60.8,50.1 59.4,52.0 58.0,53.4 C56.5,54.9 54.7,56.3 52.7,56.7 C50.7,57.0 47.2,57.0 45.8,55.6 C44.4,54.2 44.6,50.6 44.2,48.3 C43.9,45.9 42.9,43.4 43.7,41.8 C44.4,40.1 46.8,39.5 48.6,38.5 C50.4,37.5 52.6,35.3 54.6,35.6Z" fill="rgb(203,29,203)" opacity="0.92"/>
<path d="M60.6,41.3 C61.7,41.2 63.4,40.4 64.5,41.0 C65.6,41.7 67.2,43.9 67.0,45.1 C66.8,46.3 64.3,47.0 63.4,48.1 C62.4,49.2 62.5,51.1 61.5,51.6 C60.5,52.1 58.7,51.8 57.5,51.2 C56.2,50.7 54.5,49.6 54.1,48.4 C53.6,47.1 54.0,45.0 54.6,43.8 C55.1,42.6 56.5,41.7 57.5,41.3 C58.5,40.9 59.4,41.3 60.6,41.3Z" fill="rgb(193,23,193)" opacity="0.92"/>
<path d="M62.1,20.1 C60.6,19.7 59.2,18.6 59.6,17.6 C59.9,16.5 62.8,15.0 64.2,14.0 C65.5,13.1 66.5,12.4 67.8,11.9 C69.0,11.4 70.8,11.0 71.9,11.0 C73.0,11.0 73.7,11.5 74.5,11.9 C75.3,12.3 76.9,12.9 76.6,13.7 C76.3,14.4 74.1,15.3 72.7,16.3 C71.3,17.4 70.0,19.2 68.2,19.8 C66.4,20.4 63.5,20.5 62.1,20.1Z" fill="rgb(203,29,203)" opacity="0.92"/>
<path d="M78.8,6.1 C79.8,5.8 80.7,5.0 81.6,5.0 C82.5,5.0 83.6,5.7 84.4,6.2 C85.1,6.7 86.1,7.4 86.1,8.0 C86.2,8.6 85.2,9.3 84.6,9.7 C83.9,10.2 83.0,10.5 82.1,10.7 C81.2,10.8 80.1,10.7 79.2,10.5 C78.3,10.3 77.3,9.9 76.7,9.4 C76.1,8.9 75.2,7.8 75.6,7.2 C75.9,6.7 77.8,6.5 78.8,6.1Z" fill="rgb(193,23,193)" opacity="0.92"/>
<path d="M80.7,18.0 C81.1,16.8 80.6,15.1 81.2,14.3 C81.9,13.5 83.5,12.9 84.5,13.0 C85.6,13.1 86.8,14.2 87.5,15.2 C88.2,16.2 89.0,17.9 88.8,18.9 C88.6,19.9 87.0,20.5 86.3,21.4 C85.6,22.3 85.3,23.8 84.7,24.0 C84.0,24.2 83.2,23.0 82.3,22.5 C81.3,22.1 79.4,22.1 79.2,21.3 C78.9,20.6 80.4,19.1 80.7,18.0Z" fill="rgb(193,23,193)" opacity="0.92"/>
<path d="M84.0,34.3 C82.8,35.0 80.4,34.3 78.7,34.3 C76.9,34.3 74.4,34.9 73.4,34.2 C72.4,33.5 72.4,31.2 72.6,30.0 C72.8,28.8 73.9,27.9 74.7,26.9 C75.5,25.9 76.2,24.3 77.4,23.9 C78.7,23.4 80.4,23.9 82.1,24.2 C83.7,24.4 86.9,24.6 87.5,25.6 C88.1,26.5 86.2,28.6 85.6,30.1 C85.0,31.6 85.1,33.6 84.0,34.3Z" fill="rgb(203,29,203)" opacity="0.92"/>
<path d="M90.8,25.4 C90.7,23.8 90.5,21.1 91.2,20.3 C91.9,19.5 93.9,20.8 95.1,20.7 C96.2,20.6 97.4,19.3 98.2,19.8 C99.0,20.3 99.7,22.1 100.1,23.4 C100.5,24.8 100.9,26.6 100.6,28.1 C100.3,29.6 99.5,32.0 98.5,32.4 C97.5,32.9 96.0,31.4 94.8,31.0 C93.7,30.6 92.2,30.8 91.5,29.9 C90.9,29.0 90.8,27.0 90.8,25.4Z" fill="rgb(198,26,198)" opacity="0.92"/>
<path d="M87.2,40.1 C87.6,39.4 89.4,39.6 90.6,39.1 C91.7,38.5 92.8,36.9 94.0,36.9 C95.2,37.0 97.3,38.2 97.8,39.4 C98.2,40.5 97.2,42.4 96.8,43.6 C96.4,44.8 95.9,45.4 95.1,46.4 C94.3,47.4 93.0,49.6 92.1,49.6 C91.1,49.5 90.0,47.0 89.4,46.0 C88.7,45.0 88.4,44.5 88.0,43.6 C87.6,42.6 86.8,40.9 87.2,40.1Z" fill="rgb(214,36,214)" opacity="0.92"/>
<path d="M86.9,52.1 C86.7,52.9 85.3,54.2 84.2,54.6 C83.1,55.1 81.5,55.0 80.3,54.9 C79.0,54.8 77.3,54.7 76.8,54.1 C76.3,53.5 77.2,52.3 77.2,51.4 C77.2,50.4 76.1,49.3 76.6,48.7 C77.1,48.0 78.9,47.5 80.1,47.3 C81.2,47.1 82.7,47.0 83.6,47.3 C84.6,47.6 85.1,48.5 85.7,49.3 C86.2,50.1 87.2,51.2 86.9,52.1Z" fill="rgb(193,23,193)" opacity="0.92"/>
<path d="M95.3,55.5 C95.0,55.0 95.1,54.2 95.1,53.5 C95.1,52.8 94.9,51.8 95.3,51.3 C95.6,50.9 96.5,50.9 97.2,50.7 C97.9,50.6 98.8,50.2 99.4,50.5 C100.1,50.8 100.8,51.8 101.0,52.6 C101.2,53.4 101.0,54.7 100.7,55.4 C100.3,56.1 99.4,56.6 98.8,56.9 C98.1,57.1 97.4,56.9 96.8,56.7 C96.2,56.4 95.6,56.0 95.3,55.5Z" fill="rgb(193,23,193)" opacity="0.92"/>
<path d="M74.2,4.3 C73.7,3.9 73.2,3.6 73.1,3.1 C72.9,2.7 72.8,1.9 73.4,1.7 C73.9,1.5 75.5,1.8 76.3,1.8 C77.2,1.7 77.9,1.4 78.5,1.6 C79.2,1.7 79.8,2.1 80.2,2.5 C80.5,2.8 80.8,3.3 80.6,3.7 C80.5,4.1 79.8,4.7 79.1,4.9 C78.4,5.2 77.1,5.2 76.2,5.1 C75.4,5.0 74.8,4.6 74.2,4.3Z" fill="rgb(183,18,183)" opacity="0.92"/>
<path d="M90.3,7.8 C91.2,7.3 92.9,7.1 94.2,7.0 C95.6,6.9 97.5,7.0 98.6,7.3 C99.6,7.7 100.4,8.6 100.6,9.3 C100.9,9.9 100.9,10.8 100.2,11.3 C99.5,11.8 97.9,11.8 96.7,12.2 C95.5,12.5 93.9,13.4 92.9,13.3 C91.9,13.2 91.1,12.1 90.5,11.5 C89.8,10.9 88.9,10.4 88.9,9.7 C88.9,9.1 89.4,8.2 90.3,7.8Z" fill="rgb(162,13,162)" opacity="0.92"/>
<path d="M30.3,13.1 C31.4,12.5 33.6,12.4 34.0,12.9 C34.4,13.4 33.0,15.1 32.7,15.9 C32.5,16.7 33.0,17.1 32.5,17.7 C32.0,18.4 30.8,19.2 29.9,19.7 C28.9,20.2 27.5,20.7 26.8,20.7 C26.0,20.7 25.8,20.1 25.4,19.6 C25.0,19.2 24.0,18.7 24.4,18.1 C24.7,17.5 26.3,16.9 27.3,16.0 C28.3,15.2 29.2,13.6 30.3,13.1Z" fill="rgb(162,13,162)" opacity="0.92"/>
<path d="M16.6,11.0 C15.7,10.8 14.8,10.1 14.4,9.6 C14.0,9.1 14.1,8.3 14.4,7.8 C14.7,7.4 15.6,7.2 16.2,6.8 C16.8,6.4 17.3,5.3 18.1,5.2 C18.9,5.1 20.4,5.7 21.0,6.1 C21.5,6.6 21.4,7.3 21.4,7.8 C21.5,8.3 21.6,8.8 21.3,9.2 C21.1,9.7 20.5,10.3 19.7,10.6 C19.0,10.9 17.5,11.2 16.6,11.0Z" fill="rgb(162,13,162)" opacity="0.92"/>
<path d="M44.7,9.0 C45.6,9.0 46.9,8.8 47.6,9.1 C48.2,9.5 48.4,10.5 48.6,11.0 C48.8,11.5 48.7,11.8 48.7,12.2 C48.6,12.7 48.6,13.6 48.1,13.6 C47.5,13.7 46.2,12.8 45.2,12.5 C44.3,12.2 43.1,12.1 42.6,11.7 C42.1,11.4 42.5,10.7 42.4,10.2 C42.4,9.8 41.9,9.0 42.3,8.8 C42.7,8.6 43.9,8.9 44.7,9.0Z" fill="rgb(146,11,146)" opacity="0.92"/>
<path d="M59.9,28.4 C59.4,28.0 58.3,27.5 58.1,27.1 C57.9,26.7 58.4,26.2 58.7,26.0 C58.9,25.7 59.3,25.5 59.7,25.5 C60.2,25.4 60.9,25.4 61.4,25.6 C61.9,25.9 62.4,26.5 62.7,26.9 C62.9,27.3 63.0,27.6 63.1,28.0 C63.1,28.3 63.1,28.8 62.9,29.0 C62.6,29.1 62.0,29.1 61.5,29.0 C61.0,28.9 60.5,28.7 59.9,28.4Z" fill="rgb(151,11,151)" opacity="0.92"/>
<path d="M39.6,54.0 C38.3,54.1 36.6,52.5 34.9,52.1 C33.3,51.8 30.9,52.4 29.8,51.8 C28.7,51.3 27.9,49.7 28.2,48.7 C28.5,47.8 30.1,46.5 31.4,46.1 C32.8,45.8 34.7,46.5 36.2,46.5 C37.8,46.5 39.7,45.9 40.5,46.3 C41.4,46.6 40.9,47.9 41.3,48.8 C41.6,49.6 43.0,50.5 42.7,51.3 C42.4,52.2 40.9,53.8 39.6,54.0Z" fill="rgb(209,32,209)" opacity="0.92"/>
<path d="M48.6,46.4 C49.5,46.3 50.5,46.9 51.6,47.1 C52.7,47.4 54.6,47.4 55.1,48.0 C55.5,48.7 54.6,50.1 54.3,51.0 C53.9,52.0 53.8,53.0 53.1,53.6 C52.4,54.2 51.2,54.7 49.9,54.9 C48.6,55.0 46.4,55.2 45.6,54.6 C44.8,53.9 44.9,51.9 45.0,50.9 C45.2,49.8 45.8,49.0 46.4,48.3 C47.0,47.6 47.8,46.6 48.6,46.4Z" fill="rgb(209,32,209)" opacity="0.92"/>
<path d="M34.3,51.9 C35.8,53.1 37.0,56.1 37.2,58.2 C37.4,60.3 36.1,62.7 35.4,64.6 C34.8,66.5 34.4,68.3 33.3,69.7 C32.3,71.0 30.5,72.4 29.0,72.6 C27.5,72.8 25.1,72.2 24.2,70.8 C23.3,69.4 23.8,66.5 23.6,64.2 C23.5,61.9 22.4,58.8 23.1,56.7 C23.9,54.6 26.4,52.3 28.2,51.5 C30.1,50.7 32.8,50.8 34.3,51.9Z" fill="rgb(188,21,188)" opacity="0.92"/>
<path d="M54.9,64.6 C55.9,65.8 53.8,69.8 53.8,72.2 C53.8,74.5 55.6,77.5 54.9,78.7 C54.1,79.9 51.3,78.9 49.4,79.5 C47.4,80.1 45.1,83.0 43.4,82.4 C41.6,81.8 39.9,78.3 39.1,75.9 C38.3,73.5 37.7,70.1 38.5,68.3 C39.3,66.5 42.1,65.7 43.8,65.2 C45.4,64.6 46.4,65.0 48.3,64.9 C50.2,64.8 54.0,63.4 54.9,64.6Z" fill="rgb(214,36,214)" opacity="0.92"/>
<path d="M41.6,55.5 C42.9,56.0 44.3,57.2 44.8,58.4 C45.3,59.6 45.1,61.2 44.8,62.6 C44.6,63.9 44.3,66.1 43.3,66.7 C42.3,67.4 40.1,66.9 38.9,66.6 C37.6,66.3 36.5,65.7 35.6,65.0 C34.8,64.2 33.9,62.9 33.8,61.8 C33.6,60.7 34.2,59.5 34.8,58.3 C35.4,57.2 36.2,55.6 37.3,55.2 C38.5,54.7 40.4,54.9 41.6,55.5Z" fill="rgb(183,18,183)" opacity="0.92"/>
<path d="M17.2,70.8 C18.1,70.9 18.5,71.1 19.0,71.5 C19.4,71.8 20.2,72.2 19.9,73.0 C19.5,73.8 18.0,75.3 16.8,76.0 C15.5,76.7 13.7,76.8 12.5,77.1 C11.3,77.3 10.0,77.6 9.5,77.4 C8.9,77.2 9.2,76.3 9.5,75.7 C9.7,75.0 10.3,74.4 11.1,73.6 C11.8,72.8 13.0,71.5 14.1,71.0 C15.1,70.5 16.4,70.8 17.2,70.8Z" fill="rgb(198,26,198)" opacity="0.92"/>
<path d="M14.9,79.5 C15.6,79.2 16.9,80.1 17.6,80.5 C18.4,80.9 18.7,81.4 19.4,82.1 C20.1,82.8 21.8,83.8 21.9,84.7 C21.9,85.6 20.5,86.9 19.7,87.6 C19.0,88.2 18.0,88.5 17.1,88.6 C16.2,88.8 14.9,89.0 14.1,88.4 C13.3,87.9 12.5,86.6 12.3,85.5 C12.1,84.5 12.5,83.2 13.0,82.1 C13.4,81.1 14.1,79.8 14.9,79.5Z" fill="rgb(214,36,214)" opacity="0.92"/>
<path d="M19.1,81.2 C18.8,81.5 18.1,81.4 17.7,81.4 C17.3,81.3 17.1,81.1 16.8,80.9 C16.6,80.7 16.2,80.6 16.0,80.2 C15.9,79.8 15.9,79.1 16.0,78.6 C16.2,78.2 16.6,77.5 16.9,77.3 C17.3,77.1 17.7,77.5 18.1,77.6 C18.5,77.6 19.2,77.4 19.4,77.7 C19.6,78.1 19.5,78.8 19.5,79.4 C19.4,80.0 19.4,80.9 19.1,81.2Z" fill="rgb(214,36,214)" opacity="0.92"/>
<path d="M62.1,95.5 C61.4,96.2 60.3,96.7 59.3,96.8 C58.4,96.9 57.0,96.8 56.3,96.1 C55.5,95.5 54.8,94.0 54.7,93.0 C54.6,92.0 55.4,91.2 55.7,90.3 C56.0,89.3 55.9,87.9 56.5,87.3 C57.2,86.7 58.7,86.4 59.5,86.7 C60.4,87.1 61.0,88.4 61.6,89.3 C62.3,90.3 63.2,91.3 63.3,92.3 C63.4,93.3 62.7,94.7 62.1,95.5Z" fill="rgb(214,36,214)" opacity="0.92"/>
<path d="M62.7,95.1 C63.1,95.7 63.7,96.4 63.8,97.0 C63.9,97.7 63.5,98.5 63.1,98.9 C62.7,99.3 62.0,99.5 61.5,99.3 C61.1,99.1 60.8,98.1 60.4,97.6 C60.0,97.1 59.6,96.9 59.4,96.4 C59.2,95.9 59.0,95.1 59.2,94.6 C59.3,94.1 59.7,93.7 60.2,93.5 C60.6,93.3 61.3,93.1 61.7,93.4 C62.1,93.7 62.4,94.5 62.7,95.1Z" fill="rgb(214,36,214)" opacity="0.92"/>
<path d="M55.7,87.2 C55.8,86.8 55.8,86.0 56.1,85.8 C56.4,85.7 56.9,86.2 57.4,86.4 C57.8,86.6 58.4,86.9 58.5,87.2 C58.6,87.6 58.2,88.1 58.2,88.6 C58.1,89.1 58.4,90.0 58.2,90.2 C58.0,90.5 57.3,90.2 56.9,90.1 C56.5,90.1 56.0,90.0 55.7,89.7 C55.4,89.4 55.0,88.7 55.0,88.3 C55.0,87.9 55.5,87.7 55.7,87.2Z" fill="rgb(214,36,214)" opacity="0.92"/>
<path d="M62.4,44.2 C62.9,44.7 62.8,45.7 62.8,46.5 C62.9,47.3 63.2,48.4 62.7,48.9 C62.3,49.5 61.0,49.6 60.0,49.8 C59.1,50.0 58.0,50.4 57.0,50.2 C56.0,50.0 54.4,49.2 54.1,48.4 C53.7,47.6 54.5,46.3 55.0,45.5 C55.6,44.8 56.4,44.3 57.2,44.0 C58.0,43.7 58.8,43.7 59.7,43.8 C60.5,43.8 61.9,43.7 62.4,44.2Z" fill="rgb(193,23,193)" opacity="0.92"/>
<path d="M60.4,50.4 C60.2,49.6 62.4,49.9 63.1,49.4 C63.8,48.9 63.5,47.2 64.7,47.4 C65.9,47.6 68.6,49.6 70.0,50.6 C71.5,51.6 72.0,52.3 73.3,53.6 C74.7,54.8 77.9,57.1 78.0,57.9 C78.1,58.8 75.4,58.4 73.9,58.5 C72.4,58.5 70.8,58.9 69.1,58.2 C67.4,57.5 65.2,55.5 63.7,54.2 C62.3,52.9 60.5,51.2 60.4,50.4Z" fill="rgb(183,18,183)" opacity="0.92"/>
<path d="M82.4,51.5 C81.7,51.7 80.8,52.1 79.7,52.2 C78.7,52.3 77.2,52.3 76.1,52.0 C75.1,51.8 73.9,51.3 73.6,50.9 C73.2,50.5 73.4,49.8 73.9,49.4 C74.5,48.9 75.8,48.5 76.8,48.4 C77.9,48.2 79.2,48.5 80.3,48.6 C81.4,48.8 82.6,48.9 83.2,49.2 C83.8,49.5 84.1,50.0 84.0,50.4 C83.8,50.8 83.1,51.2 82.4,51.5Z" fill="rgb(193,23,193)" opacity="0.92"/>
<path d="M78.9,60.3 C78.9,59.7 78.4,59.0 79.4,58.7 C80.4,58.3 83.0,58.1 84.7,58.3 C86.4,58.4 87.6,59.0 89.5,59.4 C91.5,59.8 95.2,60.0 96.2,60.5 C97.1,61.0 96.0,61.8 95.3,62.4 C94.7,62.9 93.7,63.6 92.0,63.8 C90.4,64.0 87.3,63.9 85.2,63.6 C83.1,63.4 80.2,62.8 79.2,62.2 C78.1,61.7 78.8,60.9 78.9,60.3Z" fill="rgb(209,32,209)" opacity="0.92"/>
<path d="M96.6,45.1 C96.6,45.6 96.3,46.4 95.8,46.8 C95.3,47.1 94.3,46.9 93.5,47.1 C92.7,47.3 91.7,48.0 90.9,47.9 C90.2,47.7 89.4,46.9 89.1,46.3 C88.8,45.7 88.8,45.0 89.0,44.3 C89.2,43.6 89.5,42.5 90.2,42.2 C90.9,42.0 92.5,42.7 93.3,42.9 C94.2,43.2 94.8,43.2 95.4,43.6 C95.9,44.0 96.5,44.5 96.6,45.1Z" fill="rgb(214,36,214)" opacity="0.92"/>
<path d="M87.4,67.2 C87.9,66.9 89.1,67.8 89.7,68.6 C90.4,69.5 90.9,71.0 91.5,72.1 C92.0,73.3 92.6,74.2 93.0,75.5 C93.4,76.8 93.9,79.1 93.7,79.8 C93.5,80.6 92.4,80.2 91.7,79.9 C91.0,79.6 90.1,79.0 89.5,78.0 C88.8,77.1 88.2,75.7 87.8,74.4 C87.3,73.1 86.8,71.4 86.7,70.2 C86.6,69.0 86.9,67.4 87.4,67.2Z" fill="rgb(198,26,198)" opacity="0.92"/>
<path d="M92.6,78.1 C93.3,77.7 94.6,77.6 95.5,77.8 C96.4,78.1 97.6,79.0 98.0,79.8 C98.5,80.5 98.3,81.5 98.2,82.2 C98.1,82.9 97.6,83.3 97.2,83.9 C96.7,84.4 96.2,85.4 95.5,85.5 C94.7,85.6 93.4,85.1 92.5,84.6 C91.7,84.0 90.5,83.0 90.3,82.3 C90.2,81.5 91.4,80.9 91.8,80.2 C92.2,79.5 92.0,78.5 92.6,78.1Z" fill="rgb(203,29,203)" opacity="0.92"/>
<path d="M99.7,88.0 C100.0,88.6 99.8,90.9 99.8,92.1 C99.8,93.3 100.0,94.0 100.0,95.0 C99.9,96.0 99.6,97.7 99.3,98.1 C98.9,98.4 98.4,97.3 98.0,97.1 C97.5,96.8 96.7,97.3 96.5,96.6 C96.2,95.8 96.6,93.9 96.7,92.7 C96.7,91.5 96.6,89.8 96.8,89.1 C97.1,88.4 97.7,88.8 98.2,88.6 C98.7,88.4 99.5,87.4 99.7,88.0Z" fill="rgb(198,26,198)" opacity="0.92"/>
<path d="M73.1,67.6 C72.8,67.7 72.4,67.8 72.1,67.7 C71.8,67.6 71.3,67.4 71.2,67.2 C71.1,66.9 71.5,66.6 71.6,66.4 C71.7,66.1 71.7,65.7 72.0,65.6 C72.2,65.4 72.7,65.6 73.1,65.6 C73.4,65.7 73.9,65.7 74.1,65.8 C74.3,66.0 74.4,66.4 74.3,66.7 C74.3,66.9 74.1,67.1 73.9,67.3 C73.7,67.5 73.4,67.6 73.1,67.6Z" fill="rgb(172,15,172)" opacity="0.92"/>
<path d="M81.5,75.9 C81.1,75.9 80.7,76.2 80.4,76.0 C80.1,75.8 79.7,75.3 79.6,75.0 C79.5,74.7 79.6,74.5 79.7,74.2 C79.7,73.9 79.4,73.3 79.6,73.2 C79.9,73.1 80.7,73.3 81.1,73.5 C81.4,73.7 81.6,74.1 81.9,74.4 C82.2,74.7 82.9,75.0 83.1,75.3 C83.2,75.6 83.0,76.0 82.7,76.1 C82.4,76.2 81.9,76.0 81.5,75.9Z" fill="rgb(172,15,172)" opacity="0.92"/>
<path d="M69.9,61.0 C69.8,60.5 69.5,59.8 69.6,59.5 C69.7,59.1 70.2,58.9 70.5,58.7 C70.8,58.5 71.0,58.2 71.3,58.2 C71.5,58.3 71.9,58.6 72.0,58.9 C72.2,59.3 72.2,59.9 72.1,60.3 C72.1,60.7 72.0,61.1 71.9,61.5 C71.7,61.8 71.5,62.4 71.3,62.5 C71.0,62.6 70.6,62.4 70.4,62.1 C70.2,61.9 70.1,61.4 69.9,61.0Z" fill="rgb(162,13,162)" opacity="0.92"/>
<path d="M18.8,78.2 C18.5,77.9 18.8,77.2 18.9,76.7 C18.9,76.2 18.6,75.4 19.1,75.0 C19.6,74.6 20.9,74.6 21.8,74.2 C22.6,73.9 23.7,73.0 24.2,73.0 C24.8,73.0 25.2,73.6 25.2,74.0 C25.3,74.4 24.8,75.0 24.5,75.6 C24.2,76.2 23.9,76.9 23.2,77.4 C22.6,77.8 21.4,78.3 20.7,78.4 C20.0,78.6 19.1,78.4 18.8,78.2Z" fill="rgb(162,13,162)" opacity="0.92"/>
<path d="M57.3,64.3 C57.0,64.6 56.1,64.6 55.5,64.9 C54.8,65.1 53.9,65.7 53.3,65.6 C52.8,65.5 52.4,64.6 52.2,64.1 C51.9,63.6 51.7,63.0 51.9,62.6 C52.0,62.2 52.5,61.7 53.0,61.5 C53.5,61.3 54.1,61.3 54.7,61.3 C55.3,61.3 55.9,61.3 56.4,61.6 C56.8,61.8 57.0,62.3 57.1,62.7 C57.3,63.2 57.6,63.9 57.3,64.3Z" fill="rgb(172,15,172)" opacity="0.92"/>
<path d="M13.5,3.3 C15.2,2.7 19.0,3.2 21.1,3.3 C23.2,3.5 24.5,3.8 26.2,4.2 C28.0,4.7 31.1,5.2 31.5,6.0 C32.0,6.8 29.8,7.9 28.9,8.8 C27.9,9.7 27.5,10.7 25.9,11.3 C24.2,11.9 20.8,12.8 19.0,12.5 C17.2,12.2 16.5,10.5 15.2,9.6 C13.8,8.6 11.2,7.9 11.0,6.9 C10.7,5.8 11.8,3.9 13.5,3.3Z" fill="rgb(146,11,146)" opacity="0.92"/>
<path d="M29.3,15.5 C29.9,14.5 30.1,13.6 31.0,12.9 C32.0,12.1 33.9,10.9 35.1,11.0 C36.3,11.1 37.5,12.7 38.4,13.5 C39.3,14.4 40.1,15.0 40.5,15.9 C40.9,16.9 41.3,18.3 40.7,19.4 C40.2,20.4 38.4,21.9 36.9,22.2 C35.4,22.5 33.3,21.7 31.7,21.1 C30.2,20.6 28.1,19.8 27.7,18.9 C27.3,17.9 28.8,16.5 29.3,15.5Z" fill="rgb(151,11,151)" opacity="0.92"/>
<path d="M50.6,60.0 C50.2,62.6 49.5,64.4 48.3,66.7 C47.1,69.0 45.2,73.5 43.3,73.8 C41.4,74.1 39.0,70.2 36.9,68.5 C34.9,66.7 31.3,65.4 31.0,63.3 C30.7,61.2 34.1,58.4 35.2,55.9 C36.3,53.5 35.9,50.6 37.5,48.9 C39.0,47.1 42.4,45.0 44.6,45.4 C46.9,45.8 50.0,48.8 51.0,51.3 C52.0,53.7 51.1,57.4 50.6,60.0Z" fill="rgb(172,15,172)" opacity="0.92"/>
<path d="M21.6,50.8 C22.2,49.1 22.5,45.3 23.8,44.9 C25.0,44.4 27.2,47.6 29.2,48.2 C31.2,48.9 34.6,47.6 35.8,48.8 C37.0,49.9 36.7,53.3 36.3,55.3 C35.9,57.2 34.6,59.4 33.2,60.6 C31.7,61.7 29.2,62.2 27.5,61.9 C25.9,61.7 24.5,60.0 23.3,58.9 C22.1,57.8 20.6,56.7 20.3,55.3 C20.0,54.0 21.1,52.6 21.6,50.8Z" fill="rgb(167,14,167)" opacity="0.92"/>
<path d="M9.0,5.5 C8.6,5.2 9.1,4.6 9.3,4.2 C9.4,3.8 9.6,3.4 10.1,3.3 C10.5,3.1 11.4,3.1 11.9,3.2 C12.5,3.3 13.1,3.4 13.4,3.7 C13.7,4.1 14.0,4.7 13.7,5.0 C13.3,5.4 12.2,5.8 11.4,5.8 C10.6,5.9 9.3,5.8 9.0,5.5Z" fill="rgb(233,52,233)" opacity="0.55"/>
<path d="M35.9,6.9 C35.0,7.1 33.0,7.0 31.9,6.8 C30.7,6.6 29.6,6.0 29.0,5.6 C28.4,5.1 28.0,4.6 28.2,4.2 C28.4,3.8 29.2,3.0 30.3,3.0 C31.3,3.0 33.3,3.6 34.4,4.0 C35.6,4.4 37.0,5.0 37.2,5.5 C37.5,6.0 36.7,6.7 35.9,6.9Z" fill="rgb(211,34,211)" opacity="0.55"/>
<path d="M33.1,24.0 C33.4,23.3 34.1,22.6 34.9,22.1 C35.8,21.5 37.1,20.8 37.9,20.8 C38.8,20.9 39.6,21.6 39.9,22.2 C40.2,22.8 40.1,23.8 39.6,24.4 C39.1,25.0 38.0,25.4 37.0,25.8 C35.9,26.2 33.9,26.9 33.2,26.6 C32.6,26.4 32.8,24.8 33.1,24.0Z" fill="rgb(218,39,218)" opacity="0.55"/>
<path d="M25.1,42.5 C24.9,44.2 24.6,47.1 24.1,47.7 C23.7,48.3 22.9,47.0 22.4,46.1 C21.9,45.3 21.3,44.1 21.3,42.8 C21.3,41.5 22.0,39.6 22.5,38.3 C22.9,37.1 23.6,35.2 24.1,35.1 C24.5,35.1 25.2,36.7 25.4,37.9 C25.5,39.2 25.3,40.9 25.1,42.5Z" fill="rgb(247,70,247)" opacity="0.55"/>
<ellipse cx="7.3" cy="45.5" rx="3.4" ry="3.7" fill="rgb(255,70,255)" opacity="0.95"/>
<path d="M50.4,50.2 C49.2,49.4 47.9,48.4 47.6,47.1 C47.2,45.8 47.4,43.4 48.2,42.4 C49.1,41.3 51.3,40.8 52.5,41.0 C53.8,41.3 55.3,42.7 55.9,43.8 C56.6,45.0 56.5,46.5 56.2,47.9 C56.0,49.3 55.4,51.8 54.4,52.2 C53.5,52.6 51.5,51.1 50.4,50.2Z" fill="rgb(240,61,240)" opacity="0.55"/>
<path d="M59.3,41.8 C59.9,41.5 61.2,41.6 62.0,42.0 C62.8,42.4 63.9,43.3 64.1,44.1 C64.3,45.0 63.9,46.7 63.3,47.2 C62.7,47.8 61.6,47.5 60.7,47.5 C59.7,47.6 58.3,47.9 57.9,47.4 C57.4,46.8 58.0,45.3 58.2,44.4 C58.4,43.4 58.6,42.2 59.3,41.8Z" fill="rgb(226,45,226)" opacity="0.55"/>
<path d="M71.4,16.2 C70.5,16.8 69.1,17.6 68.1,17.8 C67.2,17.9 66.3,17.4 65.9,17.0 C65.5,16.6 65.5,16.1 65.9,15.4 C66.2,14.8 66.9,13.7 67.9,13.3 C68.9,12.8 70.7,12.7 71.6,12.9 C72.6,13.0 73.6,13.5 73.6,14.0 C73.6,14.6 72.3,15.6 71.4,16.2Z" fill="rgb(240,61,240)" opacity="0.55"/>
<path d="M83.9,7.6 C84.5,8.0 85.0,8.8 84.7,9.2 C84.5,9.7 83.4,10.0 82.6,10.2 C81.9,10.4 80.9,10.6 80.3,10.4 C79.6,10.2 79.2,9.6 79.0,9.1 C78.7,8.7 78.5,7.9 79.0,7.5 C79.4,7.2 80.7,7.0 81.5,7.1 C82.4,7.1 83.4,7.2 83.9,7.6Z" fill="rgb(226,45,226)" opacity="0.55"/>
<path d="M83.2,21.4 C82.6,21.1 81.9,20.8 81.8,20.3 C81.6,19.8 81.9,18.8 82.1,18.4 C82.4,17.9 83.0,17.6 83.4,17.5 C83.9,17.5 84.4,17.6 84.8,17.9 C85.2,18.2 85.8,18.9 85.8,19.5 C85.9,20.2 85.6,21.5 85.1,21.8 C84.7,22.1 83.8,21.6 83.2,21.4Z" fill="rgb(226,45,226)" opacity="0.55"/>
<path d="M81.7,30.8 C81.1,31.4 79.9,31.9 78.9,32.0 C77.9,32.1 76.7,32.1 75.9,31.6 C75.2,31.1 74.2,30.0 74.3,29.3 C74.4,28.5 75.7,27.5 76.6,27.1 C77.5,26.6 78.7,26.5 79.7,26.6 C80.7,26.8 82.2,27.3 82.5,28.0 C82.9,28.7 82.3,30.1 81.7,30.8Z" fill="rgb(240,61,240)" opacity="0.55"/>
<path d="M94.2,21.6 C94.9,21.3 96.2,21.3 96.7,21.9 C97.2,22.5 97.1,24.1 97.1,25.0 C97.1,26.0 97.2,27.3 96.8,27.8 C96.4,28.3 95.4,28.2 94.7,28.1 C94.0,28.0 93.1,27.8 92.7,27.1 C92.3,26.4 92.1,24.8 92.3,23.9 C92.6,23.0 93.4,22.0 94.2,21.6Z" fill="rgb(233,52,233)" opacity="0.55"/>
<ellipse cx="92.0" cy="42.8" rx="4.2" ry="4.2" fill="rgb(255,70,255)" opacity="0.95" transform="rotate(20 92.0 42.8)"/>
<path d="M82.6,49.6 C83.0,50.0 83.4,50.8 83.2,51.3 C83.0,51.9 82.1,52.8 81.4,52.9 C80.8,53.1 79.8,52.6 79.2,52.3 C78.5,52.0 77.4,51.6 77.4,51.2 C77.4,50.8 78.6,50.2 79.1,49.8 C79.7,49.4 80.2,48.9 80.8,48.9 C81.4,48.9 82.2,49.2 82.6,49.6Z" fill="rgb(226,45,226)" opacity="0.55"/>
<path d="M97.2,54.8 C96.7,54.9 96.0,55.4 95.8,55.1 C95.5,54.9 95.6,54.0 95.6,53.5 C95.6,53.0 95.6,52.3 95.9,52.0 C96.1,51.7 96.8,51.6 97.3,51.7 C97.7,51.8 98.4,52.1 98.6,52.5 C98.9,53.0 98.9,54.0 98.6,54.4 C98.4,54.8 97.7,54.7 97.2,54.8Z" fill="rgb(226,45,226)" opacity="0.55"/>
<path d="M77.2,1.9 C77.7,1.9 78.7,1.8 78.9,1.9 C79.1,2.1 78.8,2.6 78.6,2.8 C78.4,3.0 78.0,3.2 77.6,3.3 C77.3,3.4 76.7,3.3 76.3,3.2 C75.9,3.1 75.5,2.9 75.4,2.7 C75.3,2.5 75.2,2.0 75.5,1.9 C75.8,1.7 76.6,1.9 77.2,1.9Z" fill="rgb(211,34,211)" opacity="0.55"/>
<path d="M36.6,48.1 C37.3,48.0 38.6,48.2 39.1,48.5 C39.7,48.8 40.1,49.4 40.0,49.9 C40.0,50.4 39.5,51.0 38.8,51.4 C38.1,51.7 36.7,52.2 35.7,52.1 C34.7,52.0 33.1,51.2 32.9,50.7 C32.8,50.1 34.1,49.4 34.8,49.0 C35.4,48.5 35.9,48.2 36.6,48.1Z" fill="rgb(247,70,247)" opacity="0.55"/>
<path d="M47.8,51.6 C47.6,50.9 47.8,49.7 48.2,49.3 C48.7,48.8 50.0,49.0 50.8,49.0 C51.6,49.0 52.5,48.9 53.1,49.3 C53.7,49.7 54.4,50.9 54.3,51.6 C54.2,52.3 53.2,53.2 52.4,53.6 C51.6,53.9 50.2,54.0 49.4,53.6 C48.6,53.3 48.0,52.3 47.8,51.6Z" fill="rgb(247,70,247)" opacity="0.55"/>
<path d="M24.7,63.1 C24.8,62.1 26.8,60.8 27.8,60.0 C28.8,59.2 30.1,58.0 30.8,58.3 C31.6,58.6 31.9,60.4 32.3,61.8 C32.7,63.1 33.5,65.0 33.1,66.2 C32.7,67.5 30.7,69.1 29.7,69.1 C28.7,69.1 28.1,67.3 27.3,66.3 C26.5,65.3 24.6,64.2 24.7,63.1Z" fill="rgb(218,39,218)" opacity="0.55"/>
<ellipse cx="47.7" cy="72.1" rx="6.5" ry="7.7" fill="rgb(255,70,255)" opacity="0.95" transform="rotate(-15 47.7 72.1)"/>
<path d="M36.7,58.2 C37.3,57.8 38.3,58.3 39.3,58.4 C40.2,58.5 41.7,58.2 42.2,58.8 C42.7,59.5 42.8,61.4 42.3,62.1 C41.9,62.9 40.5,63.3 39.6,63.4 C38.8,63.6 37.6,63.6 37.0,63.2 C36.4,62.7 36.1,61.6 36.1,60.8 C36.0,59.9 36.2,58.6 36.7,58.2Z" fill="rgb(211,34,211)" opacity="0.55"/>
<path d="M11.3,76.1 C10.9,75.9 11.5,75.0 11.8,74.5 C12.2,74.0 12.6,73.5 13.4,72.9 C14.1,72.4 15.7,71.5 16.3,71.4 C16.9,71.4 17.1,72.1 17.1,72.5 C17.1,72.9 16.7,73.3 16.2,73.9 C15.6,74.4 14.8,75.5 14.0,75.9 C13.2,76.2 11.6,76.3 11.3,76.1Z" fill="rgb(233,52,233)" opacity="0.55"/>
<ellipse cx="16.8" cy="84.2" rx="3.3" ry="3.7" fill="rgb(255,70,255)" opacity="0.95"/>
<ellipse cx="17.7" cy="79.4" rx="1.4" ry="1.9" fill="rgb(255,70,255)" opacity="0.95" transform="rotate(15 17.7 79.4)"/>
<ellipse cx="58.7" cy="91.8" rx="2.9" ry="3.4" fill="rgb(255,70,255)" opacity="0.95" transform="rotate(-15 58.7 91.8)"/>
<ellipse cx="61.2" cy="96.2" rx="1.5" ry="2.2" fill="rgb(255,70,255)" opacity="0.95" transform="rotate(-20 61.2 96.2)"/>
<ellipse cx="56.8" cy="88.2" rx="1.2" ry="1.5" fill="rgb(255,70,255)" opacity="0.95" transform="rotate(-20 56.8 88.2)"/>
<path d="M57.8,48.1 C57.3,48.0 56.7,47.5 56.5,47.0 C56.3,46.5 56.3,45.7 56.7,45.3 C57.0,45.0 57.9,45.0 58.6,44.9 C59.2,44.9 60.2,44.8 60.5,45.1 C60.8,45.5 60.6,46.3 60.4,46.8 C60.3,47.2 60.0,47.6 59.5,47.8 C59.1,48.1 58.3,48.2 57.8,48.1Z" fill="rgb(226,45,226)" opacity="0.55"/>
<path d="M65.3,52.7 C64.4,51.9 63.1,50.6 63.1,50.1 C63.2,49.6 64.6,49.5 65.6,49.7 C66.6,49.9 68.1,50.7 69.2,51.4 C70.3,52.1 71.8,53.2 72.2,53.9 C72.6,54.6 72.2,55.4 71.5,55.5 C70.9,55.6 69.2,55.0 68.2,54.6 C67.1,54.1 66.1,53.4 65.3,52.7Z" fill="rgb(211,34,211)" opacity="0.55"/>
<path d="M76.5,50.4 C76.7,50.2 77.5,49.9 78.2,49.7 C78.9,49.6 80.2,49.4 80.8,49.6 C81.4,49.7 81.5,50.2 81.6,50.5 C81.8,50.8 82.0,51.1 81.7,51.4 C81.3,51.6 80.2,52.0 79.5,51.9 C78.7,51.9 77.9,51.6 77.4,51.3 C76.9,51.1 76.4,50.7 76.5,50.4Z" fill="rgb(226,45,226)" opacity="0.55"/>
<path d="M86.6,59.0 C88.0,59.1 89.9,59.1 90.7,59.4 C91.5,59.7 91.6,60.3 91.5,60.6 C91.3,61.0 90.6,61.4 89.7,61.5 C88.8,61.6 87.0,61.4 86.0,61.2 C85.0,61.0 84.1,60.7 83.5,60.3 C83.0,60.0 82.0,59.2 82.5,59.0 C83.0,58.8 85.2,59.0 86.6,59.0Z" fill="rgb(247,70,247)" opacity="0.55"/>
<ellipse cx="92.9" cy="45.2" rx="3.1" ry="2.2" fill="rgb(255,70,255)" opacity="0.95"/>
<path d="M91.8,75.6 C91.9,76.4 92.0,78.0 91.7,78.0 C91.4,78.0 90.6,76.6 90.1,75.9 C89.6,75.2 89.1,74.5 88.9,73.8 C88.7,73.0 88.6,71.7 88.7,71.3 C88.9,70.9 89.6,71.0 90.0,71.3 C90.5,71.6 91.1,72.5 91.4,73.2 C91.7,73.9 91.8,74.8 91.8,75.6Z" fill="rgb(233,52,233)" opacity="0.55"/>
<path d="M94.8,83.5 C94.4,83.3 93.9,82.7 93.7,82.3 C93.5,81.8 93.4,81.1 93.7,80.8 C94.0,80.4 94.8,80.1 95.3,80.2 C95.8,80.3 96.3,80.8 96.7,81.3 C97.0,81.7 97.6,82.3 97.6,82.7 C97.5,83.1 96.9,83.5 96.4,83.6 C96.0,83.7 95.3,83.7 94.8,83.5Z" fill="rgb(240,61,240)" opacity="0.55"/>
<path d="M97.0,94.3 C96.8,93.8 96.5,93.1 96.5,92.4 C96.5,91.7 96.7,90.4 96.9,89.9 C97.2,89.5 97.7,89.4 98.0,89.7 C98.3,90.0 98.5,91.1 98.6,91.9 C98.7,92.7 98.7,93.9 98.6,94.4 C98.4,95.0 98.0,95.4 97.7,95.3 C97.4,95.3 97.2,94.8 97.0,94.3Z" fill="rgb(233,52,233)" opacity="0.55"/>
</g>
<rect width="100" height="99" filter="url(#mot2)" opacity="0.8"/>
<rect x="55" y="90.3" width="38.5" height="2.2" fill="#fff"/>
</g>
<g transform="translate(282.5,26)" clip-path="url(#cA3)">
<rect width="100" height="99" fill="#030703"/>
<g filter="url(#b4)">
<ellipse cx="45.0" cy="50.0" rx="40.0" ry="38.0" fill="#0a5a0a" opacity="0.55"/>
</g>
<g filter="url(#b2)" opacity="0.6">
<path d="M0.0,18.2 C1.2,20.0 5.0,25.7 7.3,29.1 C9.6,32.6 11.8,34.9 13.7,39.2 C15.5,43.4 17.5,52.1 18.2,54.6" fill="none" stroke="#0e900e" stroke-width="4.55" stroke-linecap="round" opacity="0.49500000000000005"/>
<path d="M41.9,0.0 C43.7,1.4 49.5,5.8 52.8,8.2 C56.2,10.6 58.0,12.8 61.9,14.6 C65.9,16.4 70.2,17.6 76.5,19.1 C82.8,20.6 95.9,22.9 99.8,23.7" fill="none" stroke="#0e900e" stroke-width="4.2" stroke-linecap="round" opacity="0.49500000000000005"/>
<path d="M49.2,0.0 C50.7,1.5 54.3,6.4 58.3,9.1 C62.2,11.8 68.3,14.6 72.9,16.4 C77.4,18.2 83.5,19.4 85.6,20.0" fill="none" stroke="#0e900e" stroke-width="3.5" stroke-linecap="round" opacity="0.385"/>
<path d="M99.8,0.0 C98.7,0.9 95.0,3.6 92.9,5.5 C90.8,7.3 88.9,8.8 87.4,10.9 C86.0,13.1 84.7,17.0 84.2,18.2" fill="none" stroke="#0e900e" stroke-width="4.8999999999999995" stroke-linecap="round" opacity="0.4675"/>
<path d="M52.8,25.5 C56.2,24.7 65.0,21.8 72.9,20.4 C80.7,19.0 95.3,17.8 99.8,17.3" fill="none" stroke="#0e900e" stroke-width="3.5" stroke-linecap="round" opacity="0.41250000000000003"/>
<path d="M49.2,27.3 C53.1,27.4 64.4,27.0 72.9,27.7 C81.3,28.4 95.3,30.7 99.8,31.3" fill="none" stroke="#0e900e" stroke-width="3.5" stroke-linecap="round" opacity="0.41250000000000003"/>
<path d="M60.1,32.8 C63.4,34.3 73.5,39.4 80.1,41.9 C86.8,44.4 96.5,46.8 99.8,47.7" fill="none" stroke="#0e900e" stroke-width="3.5" stroke-linecap="round" opacity="0.385"/>
<path d="M45.5,27.3 C48.0,26.4 54.9,24.6 60.1,21.9 C65.3,19.1 72.3,14.6 76.5,10.9 C80.8,7.3 84.1,1.8 85.6,0.0" fill="none" stroke="#0e900e" stroke-width="3.15" stroke-linecap="round" opacity="0.33"/>
<path d="M0.0,31.9 C1.8,32.6 7.3,35.3 10.9,36.4 C14.6,37.6 20.0,38.3 21.9,38.6" fill="none" stroke="#0e900e" stroke-width="3.5" stroke-linecap="round" opacity="0.385"/>
<path d="M21.9,10.9 C24.0,13.1 30.7,19.7 34.6,23.7 C38.6,27.6 42.2,30.7 45.5,34.6 C48.9,38.6 53.1,45.2 54.6,47.4" fill="none" stroke="#0e900e" stroke-width="3.5" stroke-linecap="round" opacity="0.33"/>
<path d="M18.2,0.0 C20.0,0.9 25.2,3.9 29.1,5.5 C33.1,7.0 39.8,8.5 41.9,9.1" fill="none" stroke="#0e900e" stroke-width="3.5" stroke-linecap="round" opacity="0.33"/>
<path d="M0.0,5.5 C1.2,7.0 5.5,11.5 7.3,14.6 C9.1,17.6 10.3,22.2 10.9,23.7" fill="none" stroke="#0e900e" stroke-width="3.5" stroke-linecap="round" opacity="0.33"/>
<path d="M69.2,36.4 C70.7,38.3 76.2,43.9 78.3,47.4 C80.4,50.8 81.4,55.4 82.0,57.0" fill="none" stroke="#0e900e" stroke-width="3.15" stroke-linecap="round" opacity="0.30250000000000005"/>
<path d="M0.0,65.8 C3.0,65.6 12.1,64.9 18.2,64.5 C24.3,64.0 29.4,63.4 36.4,63.0 C43.4,62.7 52.5,62.5 60.1,62.3 C67.7,62.1 75.3,61.9 82.0,61.9 C88.6,61.9 96.8,62.2 99.8,62.3" fill="none" stroke="#0e900e" stroke-width="4.8999999999999995" stroke-linecap="round" opacity="0.5225"/>
<path d="M54.6,66.7 C58.3,65.8 69.0,63.3 76.5,61.2 C84.0,59.1 95.9,55.1 99.8,53.9" fill="none" stroke="#0e900e" stroke-width="4.2" stroke-linecap="round" opacity="0.4675"/>
<path d="M20.4,52.1 C20.5,55.1 20.7,62.3 20.9,70.3 C21.2,78.3 21.7,95.1 21.9,100.0" fill="none" stroke="#0e900e" stroke-width="4.2" stroke-linecap="round" opacity="0.44000000000000006"/>
<path d="M67.8,67.6 C67.9,70.2 68.1,77.7 68.3,83.1 C68.5,88.5 68.8,97.2 68.9,100.0" fill="none" stroke="#0e900e" stroke-width="2.8000000000000003" stroke-linecap="round" opacity="0.33"/>
<path d="M87.4,65.8 C86.9,68.0 85.2,73.7 84.2,79.4 C83.1,85.1 81.6,96.6 81.1,100.0" fill="none" stroke="#0e900e" stroke-width="2.8000000000000003" stroke-linecap="round" opacity="0.275"/>
<path d="M52.8,75.8 C54.0,77.9 58.2,84.5 60.1,88.5 C62.0,92.6 63.4,98.1 64.1,100.0" fill="none" stroke="#0e900e" stroke-width="3.8500000000000005" stroke-linecap="round" opacity="0.44000000000000006"/>
<path d="M87.4,63.0 C88.6,65.2 92.7,71.5 94.7,75.8 C96.8,80.0 99.0,86.4 99.8,88.5" fill="none" stroke="#0e900e" stroke-width="4.2" stroke-linecap="round" opacity="0.44000000000000006"/>
<path d="M0.0,46.6 C1.8,47.3 7.6,49.1 10.9,50.7 C14.3,52.2 18.5,54.9 20.0,55.8" fill="none" stroke="#0e900e" stroke-width="4.2" stroke-linecap="round" opacity="0.44000000000000006"/>
<path d="M3.6,100.0 C4.3,97.8 5.2,91.1 7.3,86.7 C9.4,82.4 14.9,76.1 16.4,74.0" fill="none" stroke="#0e900e" stroke-width="3.5" stroke-linecap="round" opacity="0.24750000000000003"/>
<path d="M72.9,60.3 C74.1,58.9 78.0,54.7 80.1,52.1 C82.3,49.5 84.1,47.6 85.6,44.8 C87.1,42.1 88.6,37.2 89.3,35.7" fill="none" stroke="#0e900e" stroke-width="3.5" stroke-linecap="round" opacity="0.385"/>
<path d="M36.4,61.2 C35.2,60.0 31.6,56.4 29.1,53.9 C26.7,51.5 23.1,47.9 21.9,46.6" fill="none" stroke="#0e900e" stroke-width="3.15" stroke-linecap="round" opacity="0.275"/>
<path d="M99.8,79.4 C98.4,77.9 93.4,73.1 91.1,70.3 C88.7,67.6 86.5,64.3 85.6,63.0" fill="none" stroke="#0e900e" stroke-width="3.15" stroke-linecap="round" opacity="0.275"/>
</g>
<g filter="url(#b1)">
<path d="M69.9,41.2 69.0,42.7 67.9,44.7 67.3,47.5 66.5,50.4 65.6,53.4 64.8,56.4 63.3,58.9 62.3,61.4 61.8,64.0 61.0,66.6 60.6,69.3 60.4,72.0 59.4,74.5 58.5,77.0 57.9,79.6 57.1,82.2 56.8,84.9 56.9,87.6 56.4,90.2 55.8,92.9 55.4,95.5 54.5,98.3 54.2,101.3 54.4,104.5 54.1,107.5 54.1,110.3 53.8,112.6 53.2,114.3" fill="none" stroke="#16b816" stroke-width="0.88" stroke-linecap="round" stroke-linejoin="round" opacity="0.38"/>
<path d="M137.6,3.8 136.1,4.3 134.0,4.4 131.5,4.9 128.8,5.5 125.9,6.1 123.1,7.7 120.0,8.5 117.1,9.5 114.0,9.8 111.2,10.3 108.7,11.5 106.1,12.3 103.7,13.6 101.1,14.5 98.4,14.9 95.8,15.8 93.1,16.3 90.6,17.3 88.2,18.8 85.6,19.6 83.1,20.7 80.5,21.3 77.7,21.7 75.3,23.0 72.7,23.9 70.3,25.3 67.9,26.6 65.2,27.1 62.7,28.0 60.0,28.8 57.4,29.7 54.8,31.6 51.9,32.7 49.1,34.3 46.0,34.9 43.2,35.9 40.8,37.2 38.5,38.2 36.8,39.5 35.4,40.4" fill="none" stroke="#16b816" stroke-width="0.85" stroke-linecap="round" stroke-linejoin="round" opacity="0.55"/>
<path d="M91.6,6.9 91.5,8.5 91.3,10.6 90.3,12.9 89.0,15.4 88.0,18.2 87.1,21.0 86.4,24.0 86.1,26.9 85.3,29.5 84.2,31.8 83.6,34.3 83.8,36.9 83.8,39.5 83.3,41.9 82.9,44.4 82.7,46.9 82.3,49.4 82.3,51.9 82.9,54.4 83.2,56.9 82.8,59.4 82.4,62.0 82.8,64.5 83.6,66.9 84.0,69.4 84.3,71.9 84.7,74.4 84.9,77.1 85.4,80.0 86.8,82.8 88.0,85.6 88.3,88.6 88.8,91.3 89.7,93.6 90.5,95.5 91.1,97.0" fill="none" stroke="#16b816" stroke-width="0.70" stroke-linecap="round" stroke-linejoin="round" opacity="0.43"/>
<path d="M51.3,-10.6 50.9,-9.0 50.8,-6.8 51.1,-4.2 50.6,-1.3 50.3,1.8 49.7,4.9 48.7,7.9 48.3,11.0 47.3,13.6 47.1,16.3 46.7,19.0 45.9,21.5 45.4,24.1 44.4,26.6 43.0,28.9 42.1,31.4 40.8,33.6 39.7,36.0 39.0,38.6 37.8,41.0 36.9,43.4 35.9,45.9 34.1,48.0 32.7,50.2 31.2,52.4 29.3,54.3 28.1,56.7 26.5,59.0 24.8,61.5 23.1,64.3 20.8,66.4 18.8,68.8 16.5,70.6 14.6,72.4 13.4,74.2 12.2,75.5" fill="none" stroke="#16b816" stroke-width="0.89" stroke-linecap="round" stroke-linejoin="round" opacity="0.38"/>
<path d="M92.0,-16.4 91.4,-15.0 90.3,-13.4 88.6,-11.7 87.2,-9.6 85.6,-7.3 83.9,-4.8 82.9,-1.8 81.3,0.8 79.8,3.6 78.0,6.1 76.1,8.4 75.1,10.9 73.8,13.3 72.9,15.8 72.2,18.4 70.9,20.7 69.7,23.0 68.6,25.4 67.0,27.6 66.2,30.1 65.5,32.7 64.5,35.1 64.1,37.8 63.2,40.2 61.9,42.6 61.0,45.1 60.0,47.5 59.0,49.9 58.8,52.6 58.3,55.2 57.6,57.8 57.2,60.4 56.1,62.8 55.1,65.3 54.7,67.9 53.9,70.5 53.8,73.3 53.8,76.2 53.0,79.2 52.7,82.3 51.7,85.3 51.2,88.4 51.1,91.3 50.8,94.1 51.1,96.7 50.9,99.0 50.3,100.9 50.0,102.5" fill="none" stroke="#16b816" stroke-width="1.06" stroke-linecap="round" stroke-linejoin="round" opacity="0.37"/>
<path d="M70.8,-11.6 69.5,-10.4 68.0,-8.6 66.0,-6.6 64.2,-4.1 63.1,-1.3 61.6,0.8 60.0,3.2 58.8,5.8 57.4,8.3 56.7,11.0 56.8,13.8 56.4,16.5 56.2,19.3 56.2,22.0 55.7,24.9 56.1,27.8 57.1,30.3 58.0,33.1 59.2,35.9 60.1,38.6 60.3,41.0 60.7,42.7" fill="none" stroke="#16b816" stroke-width="0.72" stroke-linecap="round" stroke-linejoin="round" opacity="0.35"/>
<path d="M-12.8,39.2 -11.4,39.9 -9.6,40.9 -7.9,42.6 -5.9,44.4 -3.6,46.3 -1.7,48.7 0.8,50.6 3.4,52.5 5.8,54.5 8.4,56.0 10.3,58.1 12.0,60.3 13.9,62.1 15.5,64.3 17.3,66.4 19.5,67.9 21.4,69.8 23.2,71.8 25.3,73.6 26.7,75.8 28.1,78.2 29.8,80.2 31.3,82.4 32.9,84.5 35.0,86.3 36.7,88.4 38.2,90.6 39.9,92.7 41.1,95.1 42.2,97.6 43.8,99.7 45.2,102.0 46.7,104.3 48.7,106.4 50.1,109.0 51.5,111.8 53.0,114.6 53.8,117.7 55.4,120.4 56.9,122.9 58.1,125.3 59.6,127.2 60.7,128.9 61.3,130.4" fill="none" stroke="#16b816" stroke-width="1.19" stroke-linecap="round" stroke-linejoin="round" opacity="0.40"/>
<path d="M13.5,7.7 14.2,9.3 15.5,11.4 16.5,14.0 17.9,16.7 19.7,18.8 20.9,21.0 22.5,22.9 24.1,24.9 25.1,27.3 26.3,29.6 27.6,31.7 28.5,34.1 30.1,36.1 31.8,38.0 33.2,40.1 35.0,42.2 36.6,44.7 37.7,47.3 39.1,49.3 40.0,50.8" fill="none" stroke="#16b816" stroke-width="0.76" stroke-linecap="round" stroke-linejoin="round" opacity="0.59"/>
<path d="M23.3,-3.5 24.8,-2.5 26.8,-0.8 29.5,0.5 32.1,2.4 34.8,3.9 37.4,5.2 39.4,6.9 41.5,8.3 43.5,9.9 44.9,12.1 46.4,14.1 47.9,16.1 48.9,18.5 50.2,20.6 51.7,22.6 52.7,24.9 53.9,27.2 55.2,29.5 55.6,32.4 56.2,35.5 56.4,38.7 56.4,41.7 57.1,44.2 57.4,46.0" fill="none" stroke="#16b816" stroke-width="1.02" stroke-linecap="round" stroke-linejoin="round" opacity="0.59"/>
<path d="M100.1,43.0 98.5,43.8 96.6,45.5 94.9,47.8 92.8,50.1 90.4,52.1 88.1,53.8 85.8,55.1 83.5,56.2 81.4,57.7 79.4,59.5 77.2,60.7 74.6,61.3 72.1,61.8 69.8,62.8 67.4,63.8 64.9,64.6 62.5,65.3 59.9,66.0 57.1,66.0 53.9,65.7 50.9,66.3 48.0,67.0 45.5,67.0 43.7,66.8" fill="none" stroke="#16b816" stroke-width="0.87" stroke-linecap="round" stroke-linejoin="round" opacity="0.54"/>
<path d="M-1.4,-3.7 0.3,-3.5 2.6,-3.1 5.4,-2.2 8.5,-2.4 11.7,-2.1 14.8,-1.8 17.6,-1.0 20.1,0.2 22.8,0.6 25.4,1.2 28.0,1.7 30.7,2.2 33.0,3.8 35.4,4.8 37.9,5.9 40.3,6.9 43.1,7.4 45.4,8.7 47.7,10.1 50.0,11.6 52.1,13.4 54.8,14.4 57.5,15.9 60.2,17.6 62.5,19.7 64.5,21.8 66.6,23.0 68.1,23.9" fill="none" stroke="#16b816" stroke-width="0.72" stroke-linecap="round" stroke-linejoin="round" opacity="0.37"/>
<path d="M25.6,19.2 26.9,19.9 28.8,20.8 30.7,22.3 32.9,24.0 35.5,25.2 38.1,26.8 41.0,27.7 43.6,29.1 45.8,30.7 48.0,31.9 49.9,33.8 52.0,35.3 54.4,36.4 56.5,37.8 58.9,38.8 61.2,40.1 63.1,41.9 65.2,43.3 67.1,45.1 69.0,46.8 71.4,48.0 73.5,49.4 75.7,50.8 78.0,52.0 79.8,53.9 81.7,55.6 83.7,57.3 85.5,59.3 88.0,60.8 90.5,62.6 92.9,64.3 95.2,66.1 96.9,68.3 98.7,69.9 100.2,71.3 101.3,72.5" fill="none" stroke="#16b816" stroke-width="1.10" stroke-linecap="round" stroke-linejoin="round" opacity="0.45"/>
<path d="M78.5,4.4 78.3,6.3 77.9,9.0 78.0,12.2 78.2,15.5 77.4,18.5 76.7,21.2 76.4,24.0 76.1,26.8 75.8,29.6 76.0,32.5 75.9,35.3 75.0,38.1 74.2,40.8 74.0,43.6 73.6,46.4 73.3,49.4 73.5,52.7 72.8,55.8 71.8,58.4 71.4,60.3" fill="none" stroke="#16b816" stroke-width="1.09" stroke-linecap="round" stroke-linejoin="round" opacity="0.42"/>
<path d="M51.2,-44.9 52.0,-43.7 53.2,-42.3 54.6,-40.7 55.7,-38.6 56.8,-36.2 58.4,-34.0 60.1,-31.8 61.7,-29.3 63.8,-27.1 65.8,-24.9 67.1,-22.3 68.5,-20.0 69.8,-17.7 70.7,-15.1 71.9,-12.7 73.6,-10.6 74.9,-8.2 76.3,-5.9 77.8,-3.7 78.9,-1.2 79.5,1.5 80.6,3.9 81.6,6.4 82.4,9.0 83.7,11.4 85.2,13.7 86.1,16.2 86.9,18.7 88.0,21.2 88.4,23.9 88.8,26.6 89.8,29.1 90.6,31.6 91.3,34.2 92.5,36.7 93.5,39.3 93.7,42.0 94.1,44.6 94.6,47.3 94.7,50.2 95.1,53.1 96.1,55.9 96.6,58.8 97.1,61.6 97.8,64.3 97.8,66.9 97.7,69.3 97.9,71.4 98.3,73.2 98.4,74.6" fill="none" stroke="#16b816" stroke-width="1.14" stroke-linecap="round" stroke-linejoin="round" opacity="0.32"/>
<path d="M53.1,-31.4 52.5,-30.1 52.1,-28.3 52.0,-26.2 51.5,-23.9 51.1,-21.4 50.8,-18.7 49.6,-16.1 48.7,-13.3 48.1,-10.5 47.5,-7.6 47.6,-4.7 46.9,-2.0 45.9,0.4 45.4,2.9 44.7,5.3 44.2,7.8 44.4,10.3 44.1,12.8 43.4,15.2 43.1,17.7 42.3,20.1 41.5,22.5 41.7,25.1 41.6,27.6 41.2,30.1 41.1,32.6 40.5,35.0 39.5,37.4 39.5,39.9 39.4,42.5 39.2,44.9 39.4,47.5 39.1,50.0 38.2,52.4 37.9,54.9 37.8,57.4 37.5,59.9 37.8,62.4 38.0,64.9 37.3,67.5 37.0,70.2 36.6,73.0 36.4,75.9 37.0,78.9 36.9,81.8 36.7,84.6 36.5,87.3 35.8,89.8 35.8,92.2 36.3,94.3 36.4,96.1 36.3,97.5" fill="none" stroke="#16b816" stroke-width="1.01" stroke-linecap="round" stroke-linejoin="round" opacity="0.36"/>
<path d="M26.2,46.4 28.2,46.7 31.1,46.8 34.4,47.3 37.7,47.2 40.9,47.1 43.5,48.0 46.0,49.1 48.5,50.1 50.8,51.4 53.1,52.7 55.7,53.6 58.1,54.8 60.1,56.7 61.9,58.6 63.9,60.6 65.5,63.2 67.7,65.8 70.1,68.2 71.5,70.7 72.5,72.4" fill="none" stroke="#16b816" stroke-width="0.80" stroke-linecap="round" stroke-linejoin="round" opacity="0.56"/>
<path d="M84.3,4.5 84.1,6.2 83.2,8.3 81.7,10.6 80.8,13.4 80.1,16.5 79.2,19.6 78.3,22.6 76.8,25.2 75.7,27.7 75.5,30.5 75.0,33.2 73.7,35.7 72.6,38.3 71.7,40.8 70.8,43.5 70.5,46.2 69.8,48.9 68.2,51.3 67.1,53.8 66.7,56.6 66.1,59.3 65.2,61.9 64.3,64.5 63.0,66.9 62.0,69.7 61.8,72.9 60.7,75.9 59.2,78.7 58.3,81.6 57.6,84.1 57.0,86.3 56.8,88.1" fill="none" stroke="#16b816" stroke-width="0.92" stroke-linecap="round" stroke-linejoin="round" opacity="0.54"/>
<path d="M51.6,56.5 52.9,57.5 54.6,58.8 57.0,59.8 59.7,60.8 62.4,62.3 65.4,63.4 68.0,65.3 70.3,67.2 72.7,68.7 74.6,70.6 76.8,72.1 79.2,73.3 81.2,75.0 83.2,76.6 85.3,78.2 86.8,80.3 88.4,82.4 90.3,84.2 91.9,86.2 93.7,88.1 95.8,89.7 97.4,91.8 99.0,93.9 100.7,95.9 101.8,98.3 102.9,100.7 104.5,102.8 105.8,105.3 107.4,107.9 109.3,110.4 110.4,113.4 111.8,116.1 112.7,118.9 113.3,121.4 114.3,123.3 115.2,124.7" fill="none" stroke="#16b816" stroke-width="0.84" stroke-linecap="round" stroke-linejoin="round" opacity="0.52"/>
<path d="M67.5,5.6 68.5,7.0 70.2,8.8 72.0,10.9 73.2,13.8 74.8,16.2 76.6,18.4 78.1,21.0 80.0,23.4 80.9,26.3 81.5,29.3 82.7,32.0 83.4,34.8 84.7,37.6 85.7,40.5 85.6,43.5 85.9,46.5 86.0,49.3 86.1,52.2 86.9,55.2 86.7,58.1 86.4,60.4 86.4,62.1" fill="none" stroke="#16b816" stroke-width="1.15" stroke-linecap="round" stroke-linejoin="round" opacity="0.49"/>
<path d="M93.2,-11.5 92.2,-10.3 90.6,-8.9 88.9,-7.2 87.3,-4.9 84.9,-3.1 82.6,-1.2 80.1,0.8 77.6,2.7 75.9,5.2 74.0,7.2 72.3,9.3 70.7,11.5 68.6,13.1 66.6,14.9 64.9,16.9 62.9,18.7 61.5,21.0 60.1,23.3 58.4,25.3 56.9,27.5 55.1,29.5 53.0,31.2 51.5,33.4 49.9,35.6 48.4,37.7 47.4,40.3 45.9,42.5 44.3,44.6 42.9,46.8 41.0,48.8 39.3,51.0 38.1,53.8 36.5,56.5 35.5,59.5 33.9,62.1 32.2,64.5 30.9,66.9 29.3,68.8 28.2,70.6 27.8,72.1" fill="none" stroke="#16b816" stroke-width="0.82" stroke-linecap="round" stroke-linejoin="round" opacity="0.50"/>
</g>
<g filter="url(#b1)" opacity="0.55">
<ellipse cx="1.5" cy="8.2" rx="2.7" ry="4.9" fill="rgb(120,60,210)" opacity="0.7"/>
<ellipse cx="14.6" cy="11.8" rx="8.2" ry="3.6" fill="rgb(120,60,210)" opacity="0.7" transform="rotate(10 14.6 11.8)"/>
<ellipse cx="27.3" cy="8.2" rx="6.0" ry="5.5" fill="rgb(120,60,210)" opacity="0.7"/>
<ellipse cx="23.7" cy="2.7" rx="6.0" ry="3.3" fill="rgb(120,60,210)" opacity="0.7"/>
<ellipse cx="38.3" cy="10.9" rx="5.5" ry="4.4" fill="rgb(120,60,210)" opacity="0.7"/>
<ellipse cx="12.8" cy="22.8" rx="7.1" ry="4.1" fill="rgb(120,60,210)" opacity="0.7" transform="rotate(15 12.8 22.8)"/>
<ellipse cx="42.8" cy="21.9" rx="6.6" ry="6.0" fill="rgb(210,80,200)" opacity="0.7"/>
<ellipse cx="41.5" cy="29.1" rx="5.5" ry="4.9" fill="rgb(120,60,210)" opacity="0.7"/>
<ellipse cx="25.5" cy="32.8" rx="4.9" ry="4.9" fill="rgb(120,60,210)" opacity="0.7"/>
<ellipse cx="28.2" cy="39.2" rx="4.9" ry="4.4" fill="rgb(120,60,210)" opacity="0.7"/>
<ellipse cx="8.2" cy="45.5" rx="5.5" ry="5.5" fill="rgb(120,60,210)" opacity="0.7"/>
<ellipse cx="23.7" cy="44.6" rx="5.5" ry="6.0" fill="rgb(120,60,210)" opacity="0.7"/>
<ellipse cx="39.2" cy="43.7" rx="4.9" ry="4.6" fill="rgb(120,60,210)" opacity="0.7"/>
<ellipse cx="45.5" cy="39.2" rx="4.4" ry="3.8" fill="rgb(210,80,200)" opacity="0.7"/>
<ellipse cx="47.7" cy="45.9" rx="7.1" ry="6.0" fill="rgb(120,60,210)" opacity="0.7"/>
<ellipse cx="58.7" cy="42.3" rx="4.4" ry="4.9" fill="rgb(210,80,200)" opacity="0.7"/>
<ellipse cx="63.2" cy="46.8" rx="5.5" ry="4.4" fill="rgb(120,60,210)" opacity="0.7"/>
<ellipse cx="54.6" cy="53.2" rx="6.0" ry="4.4" fill="rgb(120,60,210)" opacity="0.7"/>
<ellipse cx="33.7" cy="51.4" rx="4.9" ry="4.4" fill="rgb(120,60,210)" opacity="0.7"/>
<ellipse cx="81.1" cy="1.8" rx="6.0" ry="3.8" fill="rgb(120,60,210)" opacity="0.7"/>
<ellipse cx="75.0" cy="11.8" rx="6.0" ry="4.9" fill="rgb(120,60,210)" opacity="0.7"/>
<ellipse cx="70.1" cy="16.0" rx="4.4" ry="2.7" fill="rgb(210,80,200)" opacity="0.7"/>
<ellipse cx="80.5" cy="7.3" rx="4.9" ry="4.4" fill="rgb(210,80,200)" opacity="0.7"/>
<ellipse cx="84.7" cy="17.7" rx="6.6" ry="6.0" fill="rgb(210,80,200)" opacity="0.7"/>
<ellipse cx="90.3" cy="11.8" rx="5.5" ry="5.2" fill="rgb(120,60,210)" opacity="0.7"/>
<ellipse cx="87.8" cy="23.7" rx="4.4" ry="4.1" fill="rgb(120,60,210)" opacity="0.7"/>
<ellipse cx="80.1" cy="29.1" rx="8.2" ry="5.5" fill="rgb(210,80,200)" opacity="0.7"/>
<ellipse cx="97.6" cy="24.6" rx="3.8" ry="6.0" fill="rgb(120,60,210)" opacity="0.7"/>
<ellipse cx="93.8" cy="41.9" rx="6.0" ry="6.0" fill="rgb(210,80,200)" opacity="0.7"/>
<ellipse cx="81.1" cy="50.1" rx="7.7" ry="4.1" fill="rgb(120,60,210)" opacity="0.7" transform="rotate(-10 81.1 50.1)"/>
<ellipse cx="98.7" cy="53.2" rx="2.7" ry="3.8" fill="rgb(210,80,200)" opacity="0.7"/>
<ellipse cx="9.1" cy="0.9" rx="6.0" ry="2.2" fill="rgb(210,80,200)" opacity="0.7"/>
<ellipse cx="33.7" cy="1.1" rx="8.2" ry="2.2" fill="rgb(210,80,200)" opacity="0.7"/>
<ellipse cx="92.0" cy="39.2" rx="2.7" ry="2.2" fill="rgb(210,80,200)" opacity="0.7"/>
<ellipse cx="25.5" cy="47.0" rx="5.5" ry="4.9" fill="rgb(210,80,200)" opacity="0.7"/>
<ellipse cx="46.4" cy="45.7" rx="6.6" ry="4.9" fill="rgb(120,60,210)" opacity="0.7"/>
<ellipse cx="60.1" cy="45.7" rx="4.9" ry="3.8" fill="rgb(210,80,200)" opacity="0.7"/>
<ellipse cx="32.8" cy="51.2" rx="4.9" ry="4.4" fill="rgb(120,60,210)" opacity="0.7"/>
<ellipse cx="34.2" cy="57.2" rx="3.8" ry="3.8" fill="rgb(210,80,200)" opacity="0.7"/>
<ellipse cx="52.8" cy="54.8" rx="9.3" ry="5.5" fill="rgb(120,60,210)" opacity="0.7"/>
<ellipse cx="61.0" cy="55.8" rx="5.5" ry="4.4" fill="rgb(120,60,210)" opacity="0.7"/>
<ellipse cx="23.7" cy="59.0" rx="5.5" ry="4.4" fill="rgb(120,60,210)" opacity="0.7"/>
<ellipse cx="80.1" cy="50.3" rx="6.6" ry="4.4" fill="rgb(120,60,210)" opacity="0.7"/>
<ellipse cx="85.6" cy="49.6" rx="3.8" ry="2.7" fill="rgb(210,80,200)" opacity="0.7"/>
<ellipse cx="85.6" cy="59.4" rx="9.3" ry="3.3" fill="rgb(210,80,200)" opacity="0.7" transform="rotate(5 85.6 59.4)"/>
<ellipse cx="25.5" cy="66.7" rx="7.1" ry="6.0" fill="rgb(120,60,210)" opacity="0.7"/>
<ellipse cx="39.2" cy="65.8" rx="5.5" ry="5.5" fill="rgb(120,60,210)" opacity="0.7"/>
<ellipse cx="47.0" cy="68.1" rx="9.3" ry="8.7" fill="rgb(210,80,200)" opacity="0.7"/>
<ellipse cx="55.0" cy="68.5" rx="4.4" ry="6.0" fill="rgb(210,80,200)" opacity="0.7"/>
<ellipse cx="16.4" cy="71.2" rx="8.2" ry="3.8" fill="rgb(120,60,210)" opacity="0.7" transform="rotate(-30 16.4 71.2)"/>
<ellipse cx="29.1" cy="76.2" rx="4.9" ry="4.9" fill="rgb(120,60,210)" opacity="0.7"/>
<ellipse cx="47.7" cy="79.4" rx="4.9" ry="4.6" fill="rgb(120,60,210)" opacity="0.7"/>
<ellipse cx="18.2" cy="84.2" rx="6.3" ry="7.7" fill="rgb(210,80,200)" opacity="0.7"/>
<ellipse cx="19.1" cy="79.1" rx="2.5" ry="3.3" fill="rgb(210,80,200)" opacity="0.7" transform="rotate(15 19.1 79.1)"/>
<ellipse cx="59.7" cy="91.8" rx="5.5" ry="6.6" fill="rgb(210,80,200)" opacity="0.7" transform="rotate(-15 59.7 91.8)"/>
<ellipse cx="62.1" cy="96.6" rx="2.7" ry="3.8" fill="rgb(210,80,200)" opacity="0.7" transform="rotate(-20 62.1 96.6)"/>
<ellipse cx="92.9" cy="74.9" rx="4.6" ry="6.6" fill="rgb(120,60,210)" opacity="0.7"/>
<ellipse cx="97.6" cy="82.2" rx="2.5" ry="2.5" fill="rgb(210,80,200)" opacity="0.7"/>
<ellipse cx="94.7" cy="44.1" rx="4.9" ry="2.7" fill="rgb(210,80,200)" opacity="0.7"/>
<ellipse cx="91.1" cy="68.5" rx="2.2" ry="2.2" fill="rgb(120,60,210)" opacity="0.7"/>
<ellipse cx="39.2" cy="44.8" rx="4.9" ry="3.8" fill="rgb(120,60,210)" opacity="0.7"/>
<ellipse cx="44.6" cy="61.2" rx="4.4" ry="3.3" fill="rgb(210,80,200)" opacity="0.7"/>
<ellipse cx="31.9" cy="25.5" rx="4.4" ry="3.8" fill="rgb(120,60,210)" opacity="0.7"/>
<ellipse cx="36.4" cy="37.3" rx="4.4" ry="3.8" fill="rgb(120,60,210)" opacity="0.7"/>
<ellipse cx="20.0" cy="37.3" rx="3.8" ry="3.8" fill="rgb(120,60,210)" opacity="0.7"/>
<ellipse cx="52.8" cy="45.5" rx="4.4" ry="4.4" fill="rgb(120,60,210)" opacity="0.7"/>
<ellipse cx="42.8" cy="53.9" rx="3.8" ry="3.3" fill="rgb(120,60,210)" opacity="0.7"/>
<ellipse cx="31.0" cy="63.0" rx="4.4" ry="3.8" fill="rgb(120,60,210)" opacity="0.7"/>
<ellipse cx="41.0" cy="74.0" rx="4.4" ry="3.8" fill="rgb(120,60,210)" opacity="0.7"/>
<ellipse cx="54.6" cy="61.2" rx="3.8" ry="3.3" fill="rgb(120,60,210)" opacity="0.7"/>
<ellipse cx="36.4" cy="70.3" rx="3.8" ry="3.3" fill="rgb(120,60,210)" opacity="0.7"/>
</g>
<g filter="url(#b07)">
<path d="M2.0,4.2 C2.5,4.4 3.0,5.5 3.2,6.4 C3.4,7.2 3.5,8.3 3.4,9.1 C3.3,9.9 2.8,10.7 2.4,11.1 C2.0,11.6 1.4,11.9 1.0,11.7 C0.5,11.6 -0.1,10.8 -0.3,10.1 C-0.5,9.3 -0.5,8.2 -0.4,7.4 C-0.2,6.5 0.1,5.7 0.5,5.1 C0.8,4.6 1.6,4.0 2.0,4.2Z" fill="rgb(36,44,250)" opacity="0.95"/>
<path d="M19.5,11.5 C20.0,12.1 20.2,12.9 19.8,13.4 C19.4,13.9 18.3,14.3 17.0,14.4 C15.8,14.6 13.7,14.7 12.5,14.3 C11.2,13.9 10.2,12.9 9.6,12.2 C8.9,11.5 8.1,10.6 8.4,10.0 C8.7,9.4 10.2,8.9 11.6,8.7 C13.0,8.6 15.4,8.9 16.7,9.4 C18.0,9.8 19.0,10.8 19.5,11.5Z" fill="rgb(36,44,250)" opacity="0.95"/>
<path d="M28.7,4.8 C29.6,5.1 30.7,5.7 31.2,6.5 C31.8,7.3 32.2,8.8 31.9,9.7 C31.5,10.5 30.1,11.1 29.1,11.5 C28.1,11.9 26.8,12.3 25.8,12.1 C24.8,11.9 23.4,11.0 22.9,10.1 C22.4,9.2 22.2,7.6 22.6,6.7 C23.1,5.8 24.5,5.1 25.5,4.7 C26.5,4.4 27.7,4.5 28.7,4.8Z" fill="rgb(125,62,245)" opacity="0.92"/>
<ellipse cx="26.4" cy="8.6" rx="2.9" ry="2.6" fill="rgb(36,44,250)" opacity="0.8"/>
<ellipse cx="30.0" cy="6.6" rx="1.4" ry="1.3" fill="rgb(220,75,215)" opacity="0.7"/>
<path d="M26.5,4.1 C25.7,4.5 24.8,4.9 23.8,5.0 C22.9,5.1 21.3,4.9 20.6,4.5 C19.9,4.2 19.6,3.4 19.6,2.8 C19.5,2.2 19.5,1.4 20.1,0.9 C20.8,0.5 22.4,0.2 23.5,0.2 C24.6,0.2 26.0,0.5 26.8,0.9 C27.6,1.3 28.6,2.1 28.5,2.6 C28.5,3.2 27.2,3.7 26.5,4.1Z" fill="rgb(36,44,250)" opacity="0.95"/>
<path d="M36.3,13.9 C35.5,13.5 34.8,12.5 34.6,11.8 C34.4,11.1 34.5,10.1 34.9,9.5 C35.4,8.9 36.3,8.5 37.2,8.2 C38.1,7.9 39.4,7.6 40.3,7.9 C41.2,8.1 42.4,9.2 42.5,9.9 C42.7,10.6 41.8,11.5 41.3,12.2 C40.8,12.9 40.3,13.9 39.5,14.2 C38.7,14.5 37.1,14.3 36.3,13.9Z" fill="rgb(36,44,250)" opacity="0.95"/>
<path d="M17.0,25.1 C16.4,25.5 15.1,25.8 13.9,25.8 C12.7,25.8 10.8,25.7 9.8,25.2 C8.8,24.7 8.1,23.4 7.9,22.6 C7.7,21.8 7.8,20.9 8.4,20.4 C9.0,19.9 10.5,19.6 11.6,19.7 C12.7,19.8 14.2,20.2 15.2,20.8 C16.2,21.3 17.0,22.2 17.3,22.9 C17.6,23.6 17.6,24.6 17.0,25.1Z" fill="rgb(125,62,245)" opacity="0.92"/>
<ellipse cx="11.7" cy="23.1" rx="3.4" ry="2.0" fill="rgb(36,44,250)" opacity="0.8" transform="rotate(15 11.7 23.1)"/>
<ellipse cx="15.9" cy="21.6" rx="1.7" ry="1.0" fill="rgb(220,75,215)" opacity="0.7"/>
<path d="M46.4,23.2 C46.0,24.2 45.6,25.5 44.7,26.0 C43.8,26.5 41.9,26.7 40.8,26.3 C39.7,25.9 38.4,24.7 38.1,23.7 C37.7,22.7 38.4,21.5 38.8,20.3 C39.2,19.2 39.7,17.3 40.6,17.0 C41.5,16.7 43.2,17.9 44.3,18.5 C45.4,19.0 46.8,19.4 47.1,20.2 C47.5,21.0 46.8,22.2 46.4,23.2Z" fill="rgb(220,75,215)" opacity="0.85"/>
<ellipse cx="42.5" cy="21.3" rx="3.0" ry="2.7" fill="rgb(110,60,240)" opacity="0.85"/>
<path d="M45.7,28.2 C45.9,29.0 45.1,30.1 44.6,30.8 C44.1,31.5 43.3,32.0 42.4,32.3 C41.5,32.6 40.1,32.9 39.3,32.5 C38.5,32.1 38.0,30.8 37.8,30.0 C37.6,29.1 37.8,28.1 38.3,27.4 C38.8,26.7 39.7,26.1 40.6,25.9 C41.5,25.7 42.6,25.8 43.5,26.2 C44.3,26.6 45.5,27.4 45.7,28.2Z" fill="rgb(125,62,245)" opacity="0.92"/>
<ellipse cx="40.7" cy="29.5" rx="2.6" ry="2.3" fill="rgb(36,44,250)" opacity="0.8"/>
<ellipse cx="43.9" cy="27.7" rx="1.3" ry="1.2" fill="rgb(220,75,215)" opacity="0.7"/>
<path d="M22.6,31.0 C23.1,30.2 23.9,29.3 24.7,29.2 C25.4,29.0 26.4,29.7 27.2,30.1 C27.9,30.6 28.8,31.2 29.1,32.0 C29.3,32.7 29.1,34.0 28.6,34.7 C28.2,35.4 27.2,35.9 26.3,36.1 C25.4,36.4 24.2,36.6 23.4,36.2 C22.6,35.8 21.7,34.6 21.5,33.7 C21.4,32.8 22.1,31.7 22.6,31.0Z" fill="rgb(125,62,245)" opacity="0.92"/>
<ellipse cx="24.8" cy="33.1" rx="2.3" ry="2.3" fill="rgb(36,44,250)" opacity="0.8"/>
<ellipse cx="27.7" cy="31.3" rx="1.2" ry="1.2" fill="rgb(220,75,215)" opacity="0.7"/>
<path d="M26.3,36.6 C27.0,36.2 28.0,36.2 28.9,36.3 C29.7,36.5 30.9,36.8 31.4,37.3 C31.8,37.9 31.8,39.1 31.5,39.8 C31.3,40.5 30.7,41.1 30.0,41.6 C29.4,42.0 28.3,42.5 27.5,42.3 C26.8,42.2 26.0,41.4 25.5,40.8 C25.0,40.1 24.4,39.2 24.6,38.5 C24.7,37.8 25.6,36.9 26.3,36.6Z" fill="rgb(36,44,250)" opacity="0.95"/>
<path d="M8.4,42.1 C9.4,42.2 10.7,42.2 11.3,42.8 C11.9,43.4 11.9,44.8 11.8,45.8 C11.7,46.7 11.4,47.7 10.7,48.4 C10.1,49.1 8.9,49.8 7.9,49.8 C7.0,49.8 5.4,49.3 4.8,48.6 C4.2,47.8 4.3,46.4 4.4,45.3 C4.5,44.3 4.7,42.8 5.3,42.3 C6.0,41.8 7.4,42.0 8.4,42.1Z" fill="rgb(125,62,245)" opacity="0.92"/>
<ellipse cx="7.4" cy="45.9" rx="2.6" ry="2.6" fill="rgb(36,44,250)" opacity="0.8"/>
<ellipse cx="10.6" cy="43.9" rx="1.3" ry="1.3" fill="rgb(220,75,215)" opacity="0.7"/>
<path d="M21.1,48.7 C20.4,48.1 20.3,46.5 20.1,45.3 C20.0,44.2 19.7,42.7 20.2,42.0 C20.7,41.2 22.1,41.0 23.1,40.8 C24.0,40.7 25.2,40.4 26.0,40.9 C26.8,41.4 27.7,42.7 27.9,43.8 C28.1,44.9 28.0,46.5 27.4,47.5 C26.8,48.4 25.5,49.1 24.4,49.3 C23.4,49.5 21.8,49.4 21.1,48.7Z" fill="rgb(125,62,245)" opacity="0.92"/>
<ellipse cx="22.9" cy="45.1" rx="2.6" ry="2.9" fill="rgb(36,44,250)" opacity="0.8"/>
<ellipse cx="26.1" cy="42.9" rx="1.3" ry="1.4" fill="rgb(220,75,215)" opacity="0.7"/>
<path d="M35.8,42.7 C36.1,41.9 36.7,41.0 37.4,40.6 C38.2,40.2 39.5,40.1 40.3,40.3 C41.1,40.6 42.1,41.4 42.5,42.1 C42.9,42.9 43.1,44.0 42.8,44.8 C42.6,45.6 41.8,46.5 40.9,47.0 C40.1,47.4 38.8,47.7 37.9,47.4 C37.1,47.1 36.2,46.1 35.8,45.3 C35.5,44.6 35.6,43.5 35.8,42.7Z" fill="rgb(30,120,255)" opacity="0.95"/>
<path d="M48.0,37.0 C48.5,37.5 48.6,38.4 48.6,39.2 C48.6,39.9 48.6,41.0 48.1,41.4 C47.6,41.8 46.4,41.8 45.5,41.8 C44.7,41.8 43.6,41.8 43.0,41.4 C42.3,41.0 41.9,39.9 41.8,39.1 C41.8,38.4 42.3,37.4 42.9,36.9 C43.5,36.3 44.7,35.9 45.6,35.9 C46.4,35.9 47.5,36.5 48.0,37.0Z" fill="rgb(220,75,215)" opacity="0.85"/>
<ellipse cx="45.8" cy="39.2" rx="2.0" ry="1.7" fill="rgb(110,60,240)" opacity="0.85"/>
<path d="M46.4,50.4 C45.2,50.2 43.3,49.4 42.7,48.5 C42.1,47.5 42.5,45.9 42.9,44.9 C43.3,43.9 44.2,43.1 45.3,42.5 C46.3,41.9 47.8,41.1 49.1,41.3 C50.3,41.4 52.2,42.4 52.7,43.3 C53.3,44.3 52.8,45.9 52.3,46.9 C51.9,47.8 51.1,48.7 50.1,49.3 C49.1,49.8 47.7,50.5 46.4,50.4Z" fill="rgb(125,62,245)" opacity="0.92"/>
<ellipse cx="46.7" cy="46.3" rx="3.4" ry="2.9" fill="rgb(36,44,250)" opacity="0.8"/>
<ellipse cx="50.8" cy="44.1" rx="1.7" ry="1.4" fill="rgb(220,75,215)" opacity="0.7"/>
<path d="M61.1,44.6 C60.6,45.4 59.7,46.3 58.9,46.3 C58.2,46.3 57.4,45.4 56.8,44.7 C56.1,44.1 55.1,43.3 55.1,42.6 C55.1,41.9 56.1,40.9 56.7,40.3 C57.2,39.8 57.7,39.2 58.4,39.1 C59.1,38.9 60.1,39.0 60.8,39.5 C61.4,39.9 62.1,41.1 62.2,41.9 C62.2,42.8 61.7,43.9 61.1,44.6Z" fill="rgb(220,75,215)" opacity="0.85"/>
<ellipse cx="58.6" cy="42.6" rx="2.0" ry="2.2" fill="rgb(110,60,240)" opacity="0.85"/>
<path d="M60.8,49.2 C60.0,48.8 59.2,47.8 59.2,47.1 C59.2,46.4 60.0,45.6 60.6,45.1 C61.2,44.5 62.0,44.0 62.8,43.9 C63.7,43.8 64.9,44.0 65.6,44.4 C66.4,44.9 67.3,45.8 67.4,46.5 C67.4,47.2 66.7,48.1 66.0,48.7 C65.4,49.2 64.4,49.7 63.6,49.8 C62.7,49.8 61.5,49.6 60.8,49.2Z" fill="rgb(125,62,245)" opacity="0.92"/>
<ellipse cx="62.4" cy="47.1" rx="2.6" ry="2.1" fill="rgb(36,44,250)" opacity="0.8"/>
<ellipse cx="65.6" cy="45.5" rx="1.3" ry="1.0" fill="rgb(220,75,215)" opacity="0.7"/>
<path d="M59.2,53.0 C59.4,53.7 58.6,54.6 57.9,55.3 C57.1,55.9 56.0,56.6 54.9,56.7 C53.9,56.7 52.4,56.3 51.5,55.7 C50.7,55.2 49.9,54.2 49.8,53.4 C49.8,52.6 50.5,51.6 51.3,51.0 C52.0,50.4 53.4,49.9 54.4,49.9 C55.3,49.9 56.4,50.6 57.2,51.1 C58.0,51.6 59.1,52.3 59.2,53.0Z" fill="rgb(125,62,245)" opacity="0.92"/>
<ellipse cx="53.8" cy="53.5" rx="2.9" ry="2.1" fill="rgb(36,44,250)" opacity="0.8"/>
<ellipse cx="57.3" cy="51.9" rx="1.4" ry="1.0" fill="rgb(220,75,215)" opacity="0.7"/>
<path d="M30.6,52.7 C30.2,52.1 30.3,51.1 30.5,50.4 C30.8,49.7 31.4,49.0 32.2,48.6 C32.9,48.2 34.3,47.7 35.0,48.0 C35.8,48.2 36.4,49.4 36.7,50.1 C37.0,50.8 37.0,51.6 36.7,52.3 C36.5,53.0 35.9,53.8 35.2,54.1 C34.5,54.4 33.4,54.3 32.6,54.1 C31.9,53.9 30.9,53.3 30.6,52.7Z" fill="rgb(36,44,250)" opacity="0.95"/>
<path d="M86.0,2.3 C85.7,3.0 84.6,3.8 83.7,4.1 C82.8,4.4 81.5,4.3 80.5,4.2 C79.5,4.1 78.0,4.0 77.5,3.5 C76.9,3.1 77.0,2.1 77.1,1.5 C77.3,0.8 77.7,0.0 78.4,-0.4 C79.2,-0.9 80.7,-1.4 81.8,-1.3 C82.9,-1.3 84.4,-0.7 85.1,-0.1 C85.8,0.5 86.2,1.6 86.0,2.3Z" fill="rgb(36,44,250)" opacity="0.95"/>
<path d="M71.2,14.2 C70.6,13.4 70.4,12.1 70.7,11.3 C70.9,10.5 71.9,9.8 72.7,9.3 C73.6,8.8 74.6,8.4 75.6,8.4 C76.7,8.4 78.2,8.8 78.9,9.5 C79.6,10.1 79.9,11.5 79.8,12.4 C79.6,13.3 78.8,14.3 77.9,14.9 C77.0,15.5 75.4,16.1 74.3,15.9 C73.2,15.8 71.8,15.0 71.2,14.2Z" fill="rgb(125,62,245)" opacity="0.92"/>
<ellipse cx="74.2" cy="12.2" rx="2.9" ry="2.3" fill="rgb(36,44,250)" opacity="0.8"/>
<ellipse cx="77.7" cy="10.4" rx="1.4" ry="1.2" fill="rgb(220,75,215)" opacity="0.7"/>
<path d="M67.6,17.5 C67.0,17.1 66.5,16.5 66.5,16.0 C66.5,15.4 66.9,14.7 67.6,14.3 C68.2,13.9 69.4,13.7 70.2,13.7 C71.1,13.8 72.3,14.1 72.8,14.5 C73.3,14.8 73.2,15.6 73.1,16.1 C73.0,16.6 72.7,17.1 72.2,17.4 C71.7,17.8 70.8,18.1 70.0,18.1 C69.2,18.1 68.2,17.9 67.6,17.5Z" fill="rgb(220,75,215)" opacity="0.85"/>
<ellipse cx="69.5" cy="15.7" rx="2.0" ry="1.2" fill="rgb(110,60,240)" opacity="0.85"/>
<path d="M78.3,9.3 C77.8,8.9 77.5,8.1 77.4,7.4 C77.3,6.6 77.2,5.5 77.7,4.9 C78.2,4.4 79.6,4.3 80.4,4.3 C81.2,4.4 81.9,4.9 82.6,5.4 C83.2,5.8 84.4,6.4 84.5,7.2 C84.7,7.9 84.3,9.4 83.6,9.9 C82.9,10.4 81.5,10.2 80.6,10.1 C79.7,10.0 78.9,9.8 78.3,9.3Z" fill="rgb(220,75,215)" opacity="0.85"/>
<ellipse cx="80.8" cy="6.6" rx="2.2" ry="2.0" fill="rgb(110,60,240)" opacity="0.85"/>
<path d="M85.5,21.4 C84.3,21.6 82.8,22.0 81.8,21.5 C80.9,21.0 80.1,19.6 79.9,18.5 C79.6,17.4 79.6,15.8 80.2,14.9 C80.9,14.0 82.5,13.3 83.8,13.1 C85.0,12.9 86.6,13.0 87.7,13.7 C88.8,14.3 90.0,15.6 90.1,16.7 C90.3,17.8 89.6,19.5 88.8,20.2 C88.0,21.0 86.6,21.2 85.5,21.4Z" fill="rgb(220,75,215)" opacity="0.85"/>
<ellipse cx="84.4" cy="17.3" rx="2.9" ry="2.6" fill="rgb(255,150,235)" opacity="0.8"/>
<path d="M93.1,8.6 C93.8,9.2 94.4,10.4 94.5,11.4 C94.6,12.4 94.5,13.7 93.9,14.5 C93.3,15.3 91.9,15.9 90.9,16.0 C89.9,16.0 88.6,15.4 87.9,14.7 C87.3,14.1 86.9,13.1 86.7,12.2 C86.6,11.4 86.8,10.3 87.3,9.5 C87.8,8.8 88.8,7.7 89.8,7.6 C90.8,7.4 92.3,7.9 93.1,8.6Z" fill="rgb(36,44,250)" opacity="0.95"/>
<path d="M89.9,22.0 C90.3,22.5 90.5,23.2 90.5,23.9 C90.5,24.5 90.3,25.4 89.8,25.9 C89.3,26.5 88.3,27.1 87.5,27.0 C86.7,27.0 85.6,26.4 85.1,25.8 C84.5,25.2 84.1,24.1 84.3,23.4 C84.4,22.7 85.4,22.1 86.0,21.7 C86.6,21.3 87.4,20.9 88.0,20.9 C88.7,21.0 89.5,21.5 89.9,22.0Z" fill="rgb(36,44,250)" opacity="0.95"/>
<path d="M81.0,25.3 C82.4,25.5 83.6,26.2 84.6,26.9 C85.7,27.7 87.5,29.0 87.2,29.8 C86.9,30.6 84.4,31.2 83.0,31.7 C81.7,32.3 80.7,33.1 79.3,33.1 C77.9,33.1 75.5,32.7 74.6,31.9 C73.7,31.1 73.5,29.6 73.7,28.5 C74.0,27.4 74.8,26.0 76.0,25.4 C77.2,24.9 79.6,25.0 81.0,25.3Z" fill="rgb(220,75,215)" opacity="0.85"/>
<ellipse cx="79.9" cy="29.2" rx="3.6" ry="2.4" fill="rgb(255,150,235)" opacity="0.8"/>
<path d="M100.1,24.1 C100.1,25.2 100.2,26.3 99.8,27.2 C99.5,28.1 98.7,29.5 98.1,29.6 C97.5,29.7 96.7,28.5 96.1,27.7 C95.5,27.0 94.8,26.2 94.6,25.2 C94.5,24.2 94.8,22.5 95.2,21.7 C95.7,20.9 96.6,20.7 97.3,20.5 C98.0,20.3 99.1,20.0 99.6,20.6 C100.0,21.1 100.1,23.0 100.1,24.1Z" fill="rgb(125,62,245)" opacity="0.92"/>
<ellipse cx="97.1" cy="25.0" rx="1.8" ry="2.9" fill="rgb(36,44,250)" opacity="0.8"/>
<ellipse cx="99.3" cy="22.8" rx="0.9" ry="1.4" fill="rgb(220,75,215)" opacity="0.7"/>
<path d="M94.5,38.2 C95.7,38.4 97.5,38.2 98.2,38.9 C98.9,39.7 99.1,41.8 98.8,42.9 C98.5,44.0 97.2,45.1 96.3,45.5 C95.3,45.9 94.2,45.6 93.1,45.4 C92.0,45.3 90.4,45.4 89.7,44.6 C89.1,43.9 89.1,42.2 89.3,41.0 C89.6,39.9 90.2,38.4 91.1,37.9 C92.0,37.4 93.3,38.0 94.5,38.2Z" fill="rgb(220,75,215)" opacity="0.85"/>
<ellipse cx="93.1" cy="41.9" rx="2.7" ry="2.7" fill="rgb(110,60,240)" opacity="0.85"/>
<path d="M82.6,46.8 C83.7,46.8 84.8,47.6 85.4,48.2 C86.0,48.8 86.4,49.5 86.1,50.2 C85.9,50.9 84.9,51.9 83.8,52.4 C82.7,52.8 81.0,53.1 79.6,53.2 C78.2,53.2 76.3,53.0 75.5,52.5 C74.8,52.0 74.5,50.7 75.0,49.9 C75.5,49.2 77.5,48.7 78.7,48.1 C80.0,47.6 81.5,46.8 82.6,46.8Z" fill="rgb(125,62,245)" opacity="0.92"/>
<ellipse cx="79.9" cy="50.4" rx="3.6" ry="2.0" fill="rgb(36,44,250)" opacity="0.8" transform="rotate(-10 79.9 50.4)"/>
<ellipse cx="84.4" cy="48.9" rx="1.8" ry="1.0" fill="rgb(220,75,215)" opacity="0.7"/>
<path d="M97.5,51.6 C97.7,51.0 98.2,50.1 98.6,50.0 C99.1,49.9 99.7,50.6 100.1,51.1 C100.5,51.6 101.0,52.3 101.0,53.0 C101.1,53.8 100.8,54.8 100.4,55.4 C100.1,56.0 99.3,56.5 98.8,56.5 C98.3,56.4 97.8,55.5 97.6,55.0 C97.3,54.5 97.1,53.9 97.1,53.3 C97.1,52.7 97.2,52.1 97.5,51.6Z" fill="rgb(220,75,215)" opacity="0.85"/>
<ellipse cx="99.2" cy="53.1" rx="1.2" ry="1.7" fill="rgb(110,60,240)" opacity="0.85"/>
<path d="M9.8,-0.6 C10.8,-0.6 11.9,-0.3 12.6,0.0 C13.3,0.3 14.0,0.9 13.9,1.2 C13.7,1.6 12.4,1.9 11.5,2.2 C10.6,2.4 9.3,2.5 8.4,2.5 C7.4,2.4 6.3,2.1 5.7,1.8 C5.0,1.5 4.2,0.9 4.5,0.6 C4.7,0.3 6.1,0.0 7.0,-0.2 C7.9,-0.4 8.9,-0.7 9.8,-0.6Z" fill="rgb(220,75,215)" opacity="0.85"/>
<ellipse cx="9.0" cy="1.0" rx="2.7" ry="1.0" fill="rgb(110,60,240)" opacity="0.85"/>
<path d="M30.9,-0.6 C32.3,-0.7 34.2,-0.5 35.8,-0.3 C37.3,-0.2 39.6,-0.0 40.2,0.3 C40.9,0.7 40.5,1.4 39.7,1.7 C39.0,2.1 37.4,2.3 36.0,2.5 C34.6,2.6 32.7,2.8 31.4,2.6 C30.2,2.5 29.1,2.1 28.5,1.7 C27.9,1.3 27.4,0.9 27.8,0.5 C28.2,0.1 29.6,-0.5 30.9,-0.6Z" fill="rgb(220,75,215)" opacity="0.85"/>
<ellipse cx="32.9" cy="1.7" rx="3.7" ry="1.0" fill="rgb(110,60,240)" opacity="0.85"/>
<path d="M91.0,40.2 C90.7,39.9 90.4,39.6 90.3,39.3 C90.3,39.0 90.3,38.5 90.5,38.2 C90.8,37.9 91.3,37.8 91.8,37.7 C92.3,37.6 93.1,37.5 93.4,37.8 C93.8,38.0 93.8,38.6 93.9,39.0 C93.9,39.4 94.1,40.1 93.8,40.3 C93.5,40.6 92.6,40.6 92.2,40.6 C91.7,40.6 91.3,40.4 91.0,40.2Z" fill="rgb(220,75,215)" opacity="0.85"/>
<ellipse cx="91.8" cy="39.7" rx="1.2" ry="1.0" fill="rgb(255,150,235)" opacity="0.8"/>
<path d="M28.5,43.7 C29.1,44.2 28.9,45.8 28.9,46.7 C28.8,47.5 28.6,48.2 28.1,48.9 C27.6,49.6 26.8,50.7 26.0,50.9 C25.1,51.0 23.8,50.2 23.1,49.6 C22.5,49.0 22.2,48.1 22.1,47.3 C22.1,46.6 22.4,45.7 22.9,45.1 C23.4,44.5 24.2,43.9 25.1,43.7 C26.0,43.4 27.8,43.2 28.5,43.7Z" fill="rgb(220,75,215)" opacity="0.85"/>
<ellipse cx="25.2" cy="47.3" rx="2.5" ry="2.2" fill="rgb(110,60,240)" opacity="0.85"/>
<path d="M50.8,45.5 C50.9,46.4 51.1,47.7 50.4,48.3 C49.7,49.0 48.0,49.4 46.8,49.4 C45.6,49.5 43.9,49.3 42.9,48.8 C42.0,48.2 41.0,47.0 40.9,46.0 C40.8,45.1 41.5,43.7 42.4,43.1 C43.2,42.5 44.9,42.6 46.1,42.5 C47.4,42.5 49.1,42.3 49.8,42.8 C50.6,43.3 50.7,44.6 50.8,45.5Z" fill="rgb(125,62,245)" opacity="0.92"/>
<ellipse cx="45.5" cy="46.1" rx="3.1" ry="2.3" fill="rgb(36,44,250)" opacity="0.8"/>
<ellipse cx="49.3" cy="44.3" rx="1.5" ry="1.2" fill="rgb(220,75,215)" opacity="0.7"/>
<path d="M60.6,43.1 C61.3,43.2 61.9,43.9 62.5,44.4 C63.0,44.9 64.1,45.6 64.0,46.2 C64.0,46.8 63.1,47.7 62.4,48.1 C61.6,48.5 60.4,48.9 59.5,48.8 C58.6,48.7 57.5,48.2 56.9,47.6 C56.4,47.0 56.0,45.9 56.2,45.3 C56.4,44.7 57.6,44.3 58.4,43.9 C59.1,43.5 59.9,43.0 60.6,43.1Z" fill="rgb(220,75,215)" opacity="0.85"/>
<ellipse cx="60.8" cy="46.5" rx="2.2" ry="1.7" fill="rgb(110,60,240)" opacity="0.85"/>
<path d="M30.4,54.0 C29.7,53.5 28.8,52.5 28.7,51.7 C28.7,50.9 29.4,49.9 30.0,49.3 C30.6,48.7 31.5,48.3 32.3,48.2 C33.1,48.1 34.3,48.1 35.0,48.6 C35.7,49.0 36.6,50.0 36.7,50.7 C36.8,51.5 36.2,52.4 35.6,53.1 C35.0,53.7 34.2,54.4 33.3,54.6 C32.5,54.7 31.2,54.5 30.4,54.0Z" fill="rgb(36,44,250)" opacity="0.95"/>
<path d="M36.8,56.4 C37.1,57.1 37.4,58.2 37.1,58.8 C36.8,59.3 35.6,59.3 34.9,59.5 C34.2,59.7 33.5,60.0 32.9,59.8 C32.2,59.5 31.4,58.8 31.2,58.1 C31.0,57.5 31.5,56.5 31.9,55.9 C32.3,55.4 32.9,54.9 33.5,54.8 C34.1,54.6 34.9,54.7 35.5,55.0 C36.0,55.2 36.5,55.8 36.8,56.4Z" fill="rgb(220,75,215)" opacity="0.85"/>
<ellipse cx="34.0" cy="57.0" rx="1.7" ry="1.7" fill="rgb(110,60,240)" opacity="0.85"/>
<path d="M47.4,56.7 C46.5,56.0 45.7,54.7 46.0,53.8 C46.4,53.0 48.2,52.1 49.6,51.7 C51.0,51.3 52.8,51.0 54.3,51.2 C55.8,51.4 57.6,52.0 58.6,52.8 C59.6,53.6 60.7,55.0 60.2,55.9 C59.8,56.8 57.6,57.6 56.1,58.0 C54.6,58.4 52.8,58.6 51.3,58.4 C49.9,58.1 48.3,57.5 47.4,56.7Z" fill="rgb(125,62,245)" opacity="0.92"/>
<ellipse cx="51.5" cy="55.2" rx="4.4" ry="2.6" fill="rgb(36,44,250)" opacity="0.8"/>
<ellipse cx="56.9" cy="53.2" rx="2.2" ry="1.3" fill="rgb(220,75,215)" opacity="0.7"/>
<path d="M61.6,52.5 C62.5,52.6 63.2,53.4 63.9,54.1 C64.5,54.7 65.7,55.6 65.5,56.3 C65.4,57.0 64.0,57.6 63.2,58.1 C62.3,58.6 61.2,59.1 60.4,59.0 C59.5,58.9 58.7,58.1 58.0,57.5 C57.4,56.9 56.6,55.9 56.7,55.2 C56.8,54.5 57.9,53.7 58.7,53.3 C59.6,52.8 60.8,52.4 61.6,52.5Z" fill="rgb(125,62,245)" opacity="0.92"/>
<ellipse cx="60.2" cy="56.1" rx="2.6" ry="2.1" fill="rgb(36,44,250)" opacity="0.8"/>
<ellipse cx="63.4" cy="54.5" rx="1.3" ry="1.0" fill="rgb(220,75,215)" opacity="0.7"/>
<path d="M20.7,56.5 C21.3,55.9 22.8,55.6 23.8,55.6 C24.7,55.7 25.8,56.4 26.4,56.9 C27.0,57.5 27.4,58.4 27.4,59.1 C27.5,59.8 27.2,60.9 26.5,61.4 C25.9,61.9 24.6,62.3 23.6,62.3 C22.6,62.3 21.2,61.9 20.6,61.4 C20.0,60.8 20.2,59.8 20.2,59.0 C20.2,58.2 20.1,57.1 20.7,56.5Z" fill="rgb(36,44,250)" opacity="0.95"/>
<path d="M83.9,51.4 C83.4,52.1 83.0,53.3 82.1,53.5 C81.2,53.8 79.6,53.3 78.4,52.9 C77.3,52.6 75.8,52.2 75.3,51.6 C74.9,50.9 75.3,49.8 75.8,49.0 C76.2,48.3 77.1,47.2 78.1,46.9 C79.2,46.6 81.0,46.9 82.1,47.2 C83.3,47.6 84.8,48.3 85.1,49.0 C85.4,49.7 84.4,50.6 83.9,51.4Z" fill="rgb(125,62,245)" opacity="0.92"/>
<ellipse cx="79.2" cy="50.6" rx="3.1" ry="2.1" fill="rgb(36,44,250)" opacity="0.8"/>
<ellipse cx="83.0" cy="49.0" rx="1.5" ry="1.0" fill="rgb(220,75,215)" opacity="0.7"/>
<path d="M88.2,50.9 C87.9,51.3 86.7,51.5 86.0,51.4 C85.4,51.4 84.9,51.1 84.3,50.9 C83.7,50.6 82.6,50.3 82.4,49.9 C82.3,49.5 83.1,48.9 83.6,48.5 C84.0,48.1 84.6,47.5 85.1,47.5 C85.7,47.4 86.4,48.0 86.9,48.3 C87.5,48.6 88.1,48.8 88.3,49.3 C88.5,49.7 88.6,50.6 88.2,50.9Z" fill="rgb(220,75,215)" opacity="0.85"/>
<ellipse cx="85.6" cy="49.5" rx="1.7" ry="1.2" fill="rgb(110,60,240)" opacity="0.85"/>
<path d="M88.6,57.7 C90.2,58.1 92.9,58.7 93.2,59.2 C93.6,59.7 91.6,60.3 90.7,60.8 C89.8,61.3 89.2,62.3 87.8,62.3 C86.4,62.4 84.1,61.5 82.6,61.1 C81.1,60.6 79.3,60.2 78.6,59.6 C78.0,59.0 77.8,58.0 78.7,57.5 C79.5,57.0 82.0,56.7 83.6,56.8 C85.3,56.8 87.0,57.3 88.6,57.7Z" fill="rgb(220,75,215)" opacity="0.85"/>
<ellipse cx="86.0" cy="58.9" rx="4.1" ry="1.4" fill="rgb(255,150,235)" opacity="0.8" transform="rotate(5 86.0 58.9)"/>
<path d="M29.9,65.9 C30.2,66.9 30.6,68.3 30.1,69.2 C29.6,70.1 28.0,71.2 26.7,71.4 C25.4,71.7 23.6,71.3 22.4,70.7 C21.3,70.1 20.3,68.7 20.1,67.7 C19.8,66.6 20.3,65.2 21.0,64.2 C21.7,63.2 23.1,61.9 24.2,61.7 C25.4,61.6 27.2,62.6 28.1,63.3 C29.0,64.0 29.6,64.9 29.9,65.9Z" fill="rgb(36,44,250)" opacity="0.95"/>
<path d="M42.9,63.4 C43.3,64.3 43.0,65.6 42.7,66.6 C42.5,67.5 42.0,68.6 41.3,69.1 C40.6,69.6 39.2,69.8 38.3,69.6 C37.5,69.4 36.7,68.5 36.1,67.7 C35.6,66.9 34.7,65.8 34.8,64.8 C34.9,63.9 35.9,62.6 36.8,62.0 C37.7,61.5 39.1,61.3 40.1,61.6 C41.1,61.8 42.4,62.6 42.9,63.4Z" fill="rgb(36,44,250)" opacity="0.95"/>
<path d="M54.3,69.6 C54.1,71.2 52.8,73.6 51.3,74.5 C49.8,75.3 47.2,75.3 45.4,74.9 C43.6,74.6 41.3,73.6 40.3,72.2 C39.2,70.8 38.7,68.1 39.1,66.5 C39.6,64.9 41.5,63.2 43.0,62.3 C44.6,61.4 47.1,60.8 48.6,61.3 C50.1,61.7 51.3,63.6 52.3,65.0 C53.2,66.4 54.4,68.1 54.3,69.6Z" fill="rgb(220,75,215)" opacity="0.85"/>
<ellipse cx="47.4" cy="67.8" rx="4.2" ry="4.0" fill="rgb(110,60,240)" opacity="0.85"/>
<path d="M54.7,72.6 C54.0,72.4 53.1,71.8 52.7,71.1 C52.3,70.3 52.3,69.1 52.4,68.1 C52.5,67.2 52.8,66.2 53.3,65.6 C53.7,65.0 54.6,64.4 55.3,64.5 C56.0,64.6 56.8,65.3 57.2,66.0 C57.6,66.7 57.6,67.8 57.6,68.9 C57.6,69.9 57.7,71.6 57.2,72.2 C56.8,72.9 55.5,72.8 54.7,72.6Z" fill="rgb(220,75,215)" opacity="0.85"/>
<ellipse cx="55.5" cy="68.2" rx="2.0" ry="2.7" fill="rgb(110,60,240)" opacity="0.85"/>
<path d="M13.5,69.4 C14.6,68.6 16.4,68.4 17.7,68.1 C19.0,67.8 20.6,67.4 21.2,67.7 C21.9,68.0 22.1,69.1 21.7,69.9 C21.3,70.8 19.9,71.8 18.7,72.7 C17.5,73.6 15.9,74.9 14.7,75.3 C13.4,75.7 11.8,75.5 11.2,75.0 C10.6,74.6 10.8,73.5 11.2,72.5 C11.6,71.6 12.4,70.1 13.5,69.4Z" fill="rgb(125,62,245)" opacity="0.92"/>
<ellipse cx="15.2" cy="71.5" rx="3.9" ry="1.8" fill="rgb(36,44,250)" opacity="0.8" transform="rotate(-30 15.2 71.5)"/>
<ellipse cx="20.0" cy="70.1" rx="1.9" ry="0.9" fill="rgb(220,75,215)" opacity="0.7"/>
<path d="M25.3,75.3 C25.5,74.5 26.7,74.0 27.5,73.5 C28.3,73.0 29.3,72.1 30.0,72.2 C30.8,72.4 31.8,73.4 32.2,74.2 C32.6,75.0 32.7,76.1 32.5,76.9 C32.2,77.7 31.6,78.5 30.9,79.0 C30.2,79.5 29.1,79.9 28.3,79.7 C27.6,79.5 27.0,78.6 26.5,77.8 C25.9,77.1 25.1,76.0 25.3,75.3Z" fill="rgb(36,44,250)" opacity="0.95"/>
<path d="M49.3,76.5 C50.2,76.9 51.2,77.5 51.6,78.3 C51.9,79.1 51.8,80.4 51.4,81.2 C50.9,82.0 49.8,82.8 48.9,83.0 C48.1,83.1 47.0,82.5 46.3,82.1 C45.5,81.7 44.9,81.1 44.5,80.4 C44.2,79.7 44.1,78.6 44.4,77.8 C44.7,77.0 45.7,76.0 46.5,75.8 C47.3,75.5 48.5,76.1 49.3,76.5Z" fill="rgb(125,62,245)" opacity="0.92"/>
<ellipse cx="47.0" cy="79.8" rx="2.3" ry="2.2" fill="rgb(36,44,250)" opacity="0.8"/>
<ellipse cx="49.9" cy="78.1" rx="1.2" ry="1.1" fill="rgb(220,75,215)" opacity="0.7"/>
<ellipse cx="18.2" cy="84.2" rx="4.6" ry="5.6" fill="rgb(255,85,205)" opacity="1.0"/>
<ellipse cx="18.2" cy="84.2" rx="2.3" ry="2.8" fill="rgb(255,150,225)" opacity="0.8"/>
<ellipse cx="19.1" cy="79.1" rx="1.8" ry="2.4" fill="rgb(255,85,205)" opacity="1.0" transform="rotate(15 19.1 79.1)"/>
<ellipse cx="19.1" cy="79.1" rx="0.9" ry="1.2" fill="rgb(255,150,225)" opacity="0.8" transform="rotate(15 19.1 79.1)"/>
<ellipse cx="59.7" cy="91.8" rx="4.0" ry="4.8" fill="rgb(255,85,205)" opacity="1.0" transform="rotate(-15 59.7 91.8)"/>
<ellipse cx="59.7" cy="91.8" rx="2.0" ry="2.4" fill="rgb(255,150,225)" opacity="0.8" transform="rotate(-15 59.7 91.8)"/>
<ellipse cx="62.1" cy="96.6" rx="2.0" ry="2.8" fill="rgb(255,85,205)" opacity="1.0" transform="rotate(-20 62.1 96.6)"/>
<ellipse cx="62.1" cy="96.6" rx="1.0" ry="1.4" fill="rgb(255,150,225)" opacity="0.8" transform="rotate(-20 62.1 96.6)"/>
<path d="M90.6,71.6 C91.1,70.7 92.1,69.6 92.9,69.6 C93.7,69.6 94.7,70.6 95.3,71.5 C95.9,72.4 96.4,73.8 96.4,74.9 C96.4,76.0 95.9,77.3 95.3,78.2 C94.7,79.1 93.7,80.3 92.9,80.3 C92.1,80.4 90.9,79.3 90.4,78.4 C89.9,77.5 89.9,76.0 89.9,74.9 C89.9,73.7 90.1,72.5 90.6,71.6Z" fill="rgb(125,62,245)" opacity="0.92"/>
<ellipse cx="92.2" cy="75.4" rx="2.2" ry="3.1" fill="rgb(36,44,250)" opacity="0.8"/>
<ellipse cx="94.9" cy="73.0" rx="1.1" ry="1.5" fill="rgb(220,75,215)" opacity="0.7"/>
<path d="M96.6,80.8 C96.8,80.6 97.4,80.6 97.8,80.6 C98.2,80.6 98.8,80.8 99.0,81.0 C99.3,81.3 99.3,81.9 99.3,82.3 C99.2,82.8 99.3,83.6 99.0,83.8 C98.7,84.1 97.9,83.8 97.5,83.8 C97.0,83.7 96.4,83.6 96.2,83.3 C96.0,83.0 96.1,82.4 96.2,82.0 C96.3,81.6 96.3,81.0 96.6,80.8Z" fill="rgb(220,75,215)" opacity="0.85"/>
<ellipse cx="97.3" cy="82.4" rx="1.1" ry="1.1" fill="rgb(110,60,240)" opacity="0.85"/>
<path d="M90.9,44.1 C90.9,43.6 91.4,43.0 92.1,42.6 C92.7,42.3 93.9,42.0 94.7,42.0 C95.5,42.0 96.3,42.5 97.0,42.8 C97.7,43.2 98.9,43.6 98.9,44.1 C99.0,44.6 98.1,45.3 97.4,45.6 C96.7,45.9 95.7,45.7 94.7,45.7 C93.8,45.7 92.5,46.0 91.8,45.7 C91.2,45.4 90.8,44.6 90.9,44.1Z" fill="rgb(220,75,215)" opacity="0.85"/>
<ellipse cx="94.2" cy="44.0" rx="2.2" ry="1.2" fill="rgb(110,60,240)" opacity="0.85"/>
<path d="M90.0,67.1 C90.3,66.9 90.9,67.0 91.3,67.1 C91.7,67.2 92.1,67.3 92.3,67.6 C92.5,67.9 92.7,68.4 92.7,68.7 C92.6,69.1 92.4,69.6 92.1,69.9 C91.8,70.1 91.2,70.1 90.8,70.1 C90.4,70.0 90.0,69.8 89.7,69.5 C89.4,69.2 89.2,68.6 89.3,68.2 C89.3,67.8 89.7,67.3 90.0,67.1Z" fill="rgb(36,44,250)" opacity="0.95"/>
<path d="M42.4,45.9 C42.0,46.6 41.4,47.4 40.6,47.7 C39.8,48.0 38.4,47.9 37.6,47.6 C36.7,47.3 35.6,46.6 35.3,46.0 C35.1,45.3 35.6,44.3 36.0,43.7 C36.5,43.2 37.2,42.7 38.0,42.4 C38.7,42.1 39.9,41.9 40.7,42.1 C41.5,42.3 42.6,43.1 42.9,43.7 C43.1,44.3 42.7,45.3 42.4,45.9Z" fill="rgb(30,120,255)" opacity="0.95"/>
<path d="M45.6,58.9 C46.2,59.1 46.7,59.7 47.0,60.3 C47.4,60.8 48.1,61.5 47.9,62.0 C47.8,62.5 46.7,63.0 46.0,63.1 C45.3,63.3 44.5,63.2 43.9,63.1 C43.3,62.9 42.7,62.5 42.4,62.1 C42.0,61.7 41.6,61.0 41.8,60.5 C41.9,60.1 42.6,59.5 43.2,59.2 C43.8,58.9 45.0,58.7 45.6,58.9Z" fill="rgb(220,75,215)" opacity="0.85"/>
<ellipse cx="44.7" cy="61.2" rx="1.9" ry="1.4" fill="rgb(255,150,235)" opacity="0.8"/>
<path d="M28.6,25.3 C28.7,24.6 29.4,24.1 30.0,23.6 C30.6,23.1 31.4,22.5 32.1,22.5 C32.9,22.5 33.9,23.0 34.4,23.6 C35.0,24.1 35.4,25.0 35.4,25.7 C35.3,26.4 34.6,27.2 34.0,27.7 C33.4,28.1 32.4,28.4 31.6,28.3 C30.8,28.3 29.7,28.0 29.2,27.5 C28.7,27.0 28.4,25.9 28.6,25.3Z" fill="rgb(36,44,250)" opacity="0.95"/>
<path d="M34.8,35.1 C35.5,34.8 36.5,34.2 37.2,34.3 C37.9,34.4 38.5,35.4 38.9,36.0 C39.2,36.6 39.4,37.2 39.4,37.9 C39.3,38.6 38.9,39.6 38.3,39.9 C37.7,40.3 36.5,40.2 35.8,40.0 C35.0,39.8 34.5,39.3 34.0,38.7 C33.5,38.1 32.8,37.3 32.9,36.7 C33.1,36.1 34.1,35.5 34.8,35.1Z" fill="rgb(125,62,245)" opacity="0.92"/>
<ellipse cx="35.8" cy="37.6" rx="2.1" ry="1.8" fill="rgb(36,44,250)" opacity="0.8"/>
<ellipse cx="38.4" cy="36.2" rx="1.0" ry="0.9" fill="rgb(220,75,215)" opacity="0.7"/>
<path d="M18.1,36.0 C18.5,35.4 19.0,34.8 19.6,34.7 C20.1,34.6 21.0,34.8 21.6,35.1 C22.1,35.5 22.5,36.2 22.6,36.9 C22.8,37.5 22.9,38.5 22.5,39.0 C22.1,39.5 21.1,39.8 20.5,39.9 C19.9,39.9 19.2,39.7 18.6,39.4 C18.1,39.0 17.1,38.5 17.0,37.9 C16.9,37.3 17.6,36.5 18.1,36.0Z" fill="rgb(36,44,250)" opacity="0.95"/>
<path d="M50.0,44.1 C50.3,43.4 51.0,42.4 51.7,42.1 C52.4,41.9 53.6,42.1 54.4,42.5 C55.1,42.9 56.0,43.7 56.2,44.4 C56.4,45.2 55.9,46.3 55.5,46.9 C55.1,47.6 54.4,48.2 53.8,48.4 C53.1,48.6 52.1,48.6 51.4,48.3 C50.8,47.9 50.0,47.2 49.8,46.5 C49.6,45.8 49.7,44.8 50.0,44.1Z" fill="rgb(36,44,250)" opacity="0.95"/>
<path d="M40.5,52.9 C40.8,52.4 41.3,51.8 42.0,51.6 C42.6,51.4 43.7,51.3 44.3,51.5 C44.9,51.8 45.6,52.6 45.7,53.2 C45.8,53.7 45.3,54.4 44.9,54.9 C44.6,55.4 44.2,56.0 43.6,56.2 C43.1,56.4 42.0,56.4 41.5,56.1 C40.9,55.9 40.6,55.1 40.5,54.5 C40.3,54.0 40.3,53.4 40.5,52.9Z" fill="rgb(125,62,245)" opacity="0.92"/>
<ellipse cx="42.2" cy="54.2" rx="1.8" ry="1.6" fill="rgb(36,44,250)" opacity="0.8"/>
<ellipse cx="44.5" cy="53.0" rx="0.9" ry="0.8" fill="rgb(220,75,215)" opacity="0.7"/>
<path d="M34.4,62.9 C34.5,63.5 33.9,64.4 33.4,64.9 C32.9,65.4 31.9,65.8 31.2,65.9 C30.4,65.9 29.3,65.7 28.7,65.2 C28.2,64.8 27.9,63.9 27.9,63.2 C27.8,62.5 28.0,61.6 28.5,61.1 C29.0,60.6 30.0,60.2 30.8,60.2 C31.5,60.2 32.4,60.6 33.0,61.0 C33.6,61.5 34.4,62.2 34.4,62.9Z" fill="rgb(125,62,245)" opacity="0.92"/>
<ellipse cx="30.3" cy="63.3" rx="2.1" ry="1.8" fill="rgb(36,44,250)" opacity="0.8"/>
<ellipse cx="32.9" cy="61.9" rx="1.0" ry="0.9" fill="rgb(220,75,215)" opacity="0.7"/>
<path d="M38.3,74.4 C38.1,73.8 37.9,72.8 38.2,72.3 C38.6,71.8 39.7,71.5 40.4,71.4 C41.2,71.3 42.1,71.5 42.7,71.8 C43.2,72.2 43.6,72.9 43.8,73.5 C44.0,74.1 44.2,75.1 43.8,75.7 C43.5,76.2 42.4,76.6 41.6,76.7 C40.8,76.8 39.7,76.7 39.1,76.3 C38.6,76.0 38.4,75.1 38.3,74.4Z" fill="rgb(36,44,250)" opacity="0.95"/>
<path d="M51.8,61.0 C51.8,60.5 52.4,59.8 52.9,59.5 C53.4,59.1 54.1,59.0 54.8,59.0 C55.5,59.0 56.5,59.1 56.9,59.5 C57.4,59.9 57.7,60.8 57.6,61.4 C57.5,61.9 56.8,62.5 56.3,62.8 C55.8,63.2 55.1,63.4 54.5,63.4 C53.9,63.3 53.1,63.1 52.6,62.7 C52.2,62.3 51.7,61.6 51.8,61.0Z" fill="rgb(36,44,250)" opacity="0.95"/>
<path d="M37.2,68.1 C37.8,68.4 38.4,68.8 38.7,69.2 C39.0,69.7 39.2,70.4 39.1,71.0 C38.9,71.5 38.4,72.1 37.8,72.4 C37.2,72.7 36.2,72.9 35.6,72.7 C35.0,72.6 34.4,71.9 34.1,71.4 C33.8,70.9 33.7,70.3 33.8,69.7 C33.9,69.1 34.3,68.2 34.9,67.9 C35.4,67.7 36.5,67.9 37.2,68.1Z" fill="rgb(125,62,245)" opacity="0.92"/>
<ellipse cx="35.9" cy="70.6" rx="1.8" ry="1.6" fill="rgb(36,44,250)" opacity="0.8"/>
<ellipse cx="38.1" cy="69.4" rx="0.9" ry="0.8" fill="rgb(220,75,215)" opacity="0.7"/>
</g>
<rect width="100" height="99" filter="url(#mot2)" opacity="0.22"/>
<g filter="url(#b1)" opacity="0.8">
<path d="M140.5,37.0 139.0,37.0 137.0,37.1 134.8,37.0 132.4,36.3 129.7,35.6 126.8,35.3 123.9,34.7 120.8,34.6 117.7,35.0 114.8,34.6 111.9,34.3 109.3,34.2 106.7,33.7 104.1,33.3 101.5,33.7 99.0,34.1 96.4,34.1 93.8,34.4 91.3,34.7 88.7,34.4 86.1,34.1 83.6,34.4 81.0,34.7 78.5,34.9 76.0,35.6 73.5,36.3 70.9,36.4 68.3,36.5 65.8,36.9 63.2,37.1 60.7,37.2 58.2,38.1 55.8,39.1 53.3,39.6 50.7,40.2 48.3,40.9 45.6,41.2 42.7,41.5 39.9,42.7 37.1,43.7 34.2,44.8 31.5,46.2 28.7,46.9 26.0,47.3 23.6,48.1 21.5,48.8 19.6,49.3 18.2,49.7" fill="none" stroke="#18c018" stroke-width="1.18" stroke-linecap="round" stroke-linejoin="round" opacity="0.54"/>
<path d="M116.2,38.2 114.6,38.5 112.4,38.9 109.8,38.8 106.9,39.1 104.0,40.4 100.9,41.0 97.9,41.7 94.8,41.9 91.9,42.2 89.5,43.5 87.0,44.6 84.4,45.3 81.9,46.2 79.2,46.6 76.6,47.2 74.3,48.8 71.9,50.0 69.5,51.0 67.1,52.2 64.4,52.7 61.9,53.7 59.8,55.4 57.5,56.8 55.1,58.1 52.8,59.5 50.2,60.3 47.8,61.6 45.7,63.6 43.3,65.4 40.8,67.4 38.0,68.9 35.2,70.4 33.3,72.6 31.3,74.2 29.6,75.6 28.4,76.7" fill="none" stroke="#18c018" stroke-width="0.92" stroke-linecap="round" stroke-linejoin="round" opacity="0.42"/>
<path d="M80.7,-1.6 80.2,0.4 79.5,3.2 79.4,6.6 79.3,10.1 78.5,13.2 77.9,16.1 77.0,18.9 75.5,21.5 74.4,24.1 73.7,27.0 72.6,29.7 71.4,32.4 70.5,35.2 69.1,37.8 67.1,40.0 65.2,42.6 63.2,45.4 61.0,48.0 59.6,50.6 58.7,52.5" fill="none" stroke="#18c018" stroke-width="0.75" stroke-linecap="round" stroke-linejoin="round" opacity="0.53"/>
<path d="M65.0,-9.7 64.2,-8.2 62.9,-6.3 60.7,-4.6 58.6,-2.6 57.2,0.2 55.7,2.6 54.3,4.9 52.9,7.4 51.0,9.6 50.0,12.3 49.7,15.2 48.7,17.8 47.5,20.3 46.8,23.0 46.0,25.7 45.9,28.6 46.3,31.4 45.6,34.2 45.0,37.1 45.3,39.8 45.7,42.7 46.4,45.6 47.1,48.5 46.8,51.2 46.8,53.5 47.3,55.1" fill="none" stroke="#18c018" stroke-width="0.78" stroke-linecap="round" stroke-linejoin="round" opacity="0.37"/>
<path d="M38.3,62.5 39.6,63.4 41.4,64.5 43.7,65.2 46.1,66.5 48.5,68.2 51.2,69.5 53.6,71.6 56.3,73.1 58.9,74.4 61.3,75.7 63.9,76.2 66.4,77.0 68.7,78.0 71.2,78.7 73.5,79.7 75.8,81.0 78.3,81.7 80.7,82.4 83.1,83.3 85.7,83.4 88.2,83.7 90.7,84.3 93.3,84.4 95.8,84.8 98.2,85.7 100.8,86.0 103.3,86.4 105.8,86.9 108.4,86.7 111.0,86.5 113.7,86.6 116.6,86.0 119.7,86.1 122.8,86.3 125.8,86.1 128.8,86.4 131.5,85.8 133.8,85.4 135.9,85.3 137.5,85.0" fill="none" stroke="#18c018" stroke-width="0.72" stroke-linecap="round" stroke-linejoin="round" opacity="0.35"/>
<path d="M28.8,51.5 27.5,52.4 26.1,53.8 24.4,55.6 22.5,57.4 20.5,59.5 17.9,61.0 15.5,62.6 13.9,65.0 12.2,67.0 10.3,69.0 8.4,71.0 6.1,72.7 4.7,75.0 3.5,77.6 1.8,79.7 0.1,81.9 -1.6,84.0 -3.3,86.2 -4.0,88.9 -5.1,91.4 -6.9,93.6 -8.2,96.0 -9.5,98.4 -10.4,101.0 -10.8,103.9 -12.0,106.2 -13.5,108.6 -14.1,111.5 -14.9,114.3 -15.2,117.2 -15.8,119.8 -17.1,121.9 -17.8,123.8 -18.0,125.3" fill="none" stroke="#18c018" stroke-width="0.89" stroke-linecap="round" stroke-linejoin="round" opacity="0.44"/>
<path d="M38.9,-6.3 37.1,-5.8 34.7,-4.4 31.7,-3.7 28.6,-3.1 25.8,-2.3 23.2,-1.6 21.1,0.1 19.0,1.7 16.4,2.5 14.1,3.7 12.0,5.2 9.9,6.7 8.3,8.8 6.4,10.7 4.0,12.0 2.0,14.1 0.3,16.8 -1.4,19.4 -2.8,21.6 -4.2,22.9" fill="none" stroke="#18c018" stroke-width="0.79" stroke-linecap="round" stroke-linejoin="round" opacity="0.43"/>
<path d="M58.4,-10.1 56.8,-9.5 54.8,-8.7 52.3,-7.8 49.6,-6.8 47.1,-5.0 44.5,-3.3 41.6,-2.5 39.0,-1.3 36.7,-0.1 34.4,1.2 32.4,2.9 30.5,4.7 28.2,6.0 25.8,7.0 23.7,8.5 21.6,10.1 19.6,11.7 17.9,13.7 16.1,15.6 13.8,17.0 11.5,18.3 9.8,20.2 8.0,22.2 6.2,24.1 4.6,26.4 2.6,28.6 0.0,30.5 -1.9,32.9 -3.4,35.3 -5.0,37.4 -6.2,39.2 -7.1,40.6" fill="none" stroke="#18c018" stroke-width="1.08" stroke-linecap="round" stroke-linejoin="round" opacity="0.33"/>
<path d="M122.7,47.8 121.6,49.0 120.2,50.5 118.3,52.0 116.2,53.6 113.9,55.4 111.1,56.7 108.4,58.3 106.2,60.8 103.9,62.8 101.5,64.6 99.3,66.4 96.9,67.8 94.7,69.4 93.1,71.6 91.4,73.7 89.2,75.3 87.2,77.1 85.2,78.8 83.0,80.4 81.3,82.5 79.9,84.9 78.0,86.8 75.9,88.5 74.0,90.4 72.1,92.3 70.2,94.2 68.9,96.6 67.5,99.0 65.5,100.8 63.5,102.6 61.8,104.8 60.1,106.8 58.6,109.1 57.5,111.7 55.6,114.1 53.3,116.3 51.6,119.0 49.9,121.6 48.5,124.3 47.3,127.0 45.5,129.1 43.8,130.8 42.7,132.5 42.0,133.9" fill="none" stroke="#18c018" stroke-width="0.77" stroke-linecap="round" stroke-linejoin="round" opacity="0.46"/>
<path d="M-47.2,79.5 -45.6,79.2 -43.6,78.5 -41.2,78.2 -38.5,78.7 -35.6,78.6 -32.5,78.5 -29.5,78.1 -26.4,77.4 -23.4,77.9 -20.7,78.1 -18.0,78.0 -15.4,78.0 -12.7,77.4 -10.1,77.3 -7.5,78.1 -4.8,78.3 -2.2,78.1 0.5,78.1 3.1,77.8 5.8,77.9 8.4,78.8 11.0,79.0 13.7,78.8 16.3,78.9 19.0,78.8 21.6,79.1 24.2,80.1 26.8,80.3 29.5,80.1 32.1,80.4 34.9,80.5 37.8,81.2 40.7,82.3 43.9,82.2 46.9,82.4 49.8,82.8 52.4,83.4 54.7,84.3 56.7,84.8 58.3,84.7" fill="none" stroke="#18c018" stroke-width="1.15" stroke-linecap="round" stroke-linejoin="round" opacity="0.58"/>
<path d="M-8.7,16.4 -7.2,16.9 -5.3,17.9 -3.2,19.4 -0.5,20.1 2.4,20.5 5.2,21.8 8.0,23.0 10.6,24.5 13.1,25.6 15.8,26.0 18.4,26.7 20.6,28.2 23.0,29.3 25.4,30.4 27.8,31.5 30.4,32.0 33.0,32.7 35.1,34.3 37.4,35.7 39.9,36.5 42.4,37.5 44.9,38.2 47.4,39.0 49.6,40.6 51.8,42.1 54.4,42.8 56.9,43.6 59.4,44.7 62.1,45.8 64.6,47.7 67.3,49.1 70.3,49.7 72.8,50.8 75.0,52.1 76.9,53.0 78.2,53.8" fill="none" stroke="#18c018" stroke-width="0.98" stroke-linecap="round" stroke-linejoin="round" opacity="0.33"/>
<path d="M-12.4,4.5 -10.5,4.7 -8.2,5.6 -5.4,6.7 -2.3,7.5 0.7,8.4 3.6,8.9 6.2,9.6 8.3,11.3 10.4,12.9 12.7,14.0 15.0,15.2 17.1,16.6 19.4,17.9 21.3,19.6 22.7,21.9 24.5,23.8 26.6,25.3 28.5,27.2 30.2,29.6 31.9,32.2 33.0,35.3 34.6,37.8 36.4,39.6 37.5,41.1" fill="none" stroke="#18c018" stroke-width="1.14" stroke-linecap="round" stroke-linejoin="round" opacity="0.60"/>
<path d="M3.2,28.5 3.5,30.2 4.1,32.3 5.3,34.6 6.4,37.3 7.3,40.3 8.4,43.3 9.2,46.4 9.4,49.5 10.2,52.3 11.3,54.8 12.2,57.5 13.0,60.1 14.1,62.6 14.9,65.3 15.1,68.1 15.5,70.8 16.4,73.4 17.3,76.0 18.0,78.7 19.0,81.2 20.1,83.8 20.6,86.5 20.8,89.3 21.4,92.0 22.2,94.6 22.9,97.3 23.7,99.9 24.9,102.6 25.8,105.6 26.0,108.8 26.5,112.0 27.4,115.0 27.9,117.8 28.7,120.3 29.6,122.3 30.3,123.8" fill="none" stroke="#18c018" stroke-width="1.15" stroke-linecap="round" stroke-linejoin="round" opacity="0.46"/>
<path d="M38.3,-18.7 37.7,-16.8 36.6,-14.2 35.7,-11.1 35.5,-7.7 34.8,-4.6 33.2,-2.2 31.9,0.4 31.2,3.2 30.3,5.9 29.2,8.5 27.9,11.1 26.4,13.6 24.7,15.9 23.4,18.4 22.6,21.3 20.9,23.9 18.3,26.2 16.4,28.9 15.1,31.4 14.1,33.1" fill="none" stroke="#18c018" stroke-width="0.89" stroke-linecap="round" stroke-linejoin="round" opacity="0.48"/>
</g>
<g filter="url(#b07)">
<path d="M0.0,18.2 1.1,19.7 2.6,21.7 4.4,24.1 5.5,27.0 6.9,29.4 9.0,31.6 10.7,33.8 12.4,36.2 13.9,39.1 14.3,41.7 15.1,44.6 16.5,47.5 17.2,50.4 18.0,52.8 18.5,54.6" fill="none" stroke="rgb(31,219,24)" stroke-width="1.2349999999999999" stroke-linecap="round" stroke-linejoin="round" opacity="0.85"/>
<path d="M41.8,0.1 43.4,1.2 45.8,2.5 48.3,4.3 50.5,6.6 52.7,8.3 55.0,10.1 56.9,11.9 59.2,13.4 62.1,14.3 64.1,15.0 66.1,16.0 68.4,16.9 70.8,17.5 73.5,18.5 76.4,19.6 78.8,19.9 81.6,20.1 84.5,20.6 87.6,21.2 90.6,21.6 93.4,22.6 96.0,23.4 98.1,23.7 99.8,23.8" fill="none" stroke="rgb(31,219,24)" stroke-width="1.14" stroke-linecap="round" stroke-linejoin="round" opacity="0.85"/>
<path d="M48.9,0.2 50.4,1.2 52.2,2.8 53.9,5.0 55.8,7.4 58.2,9.3 60.4,10.6 62.8,11.8 65.5,12.7 68.0,14.2 70.3,15.8 72.7,16.8 75.8,17.1 78.8,18.0 81.5,19.1 83.9,19.8 85.6,20.2" fill="none" stroke="rgb(23,197,17)" stroke-width="0.95" stroke-linecap="round" stroke-linejoin="round" opacity="0.85"/>
<path d="M99.5,-0.4 97.8,1.2 95.4,3.5 93.0,5.5 91.1,7.5 89.3,9.2 87.4,10.9 85.7,13.3 84.8,16.2 83.9,18.1" fill="none" stroke="rgb(29,214,22)" stroke-width="1.3299999999999998" stroke-linecap="round" stroke-linejoin="round" opacity="0.85"/>
<path d="M52.9,25.9 54.4,25.3 56.3,24.7 58.6,24.1 61.1,22.8 63.9,22.2 66.8,21.3 69.9,20.8 72.9,20.7 75.4,20.1 78.3,20.1 81.3,19.3 84.4,18.8 87.6,18.3 90.6,17.8 93.5,18.0 96.0,17.6 98.2,17.6 99.9,17.8" fill="none" stroke="rgb(25,203,19)" stroke-width="0.95" stroke-linecap="round" stroke-linejoin="round" opacity="0.85"/>
<path d="M49.2,27.5 50.8,27.5 52.8,27.2 55.2,26.8 57.9,27.1 60.8,27.5 63.8,27.5 66.9,27.6 70.0,27.1 72.9,27.3 75.5,28.1 78.5,28.4 81.5,29.0 84.7,29.0 87.9,29.1 90.8,30.0 93.6,30.5 96.1,31.1 98.1,31.5 99.8,31.4" fill="none" stroke="rgb(25,203,19)" stroke-width="0.95" stroke-linecap="round" stroke-linejoin="round" opacity="0.85"/>
<path d="M60.1,32.8 61.6,33.6 63.8,34.3 66.4,35.2 68.9,36.9 71.8,38.3 74.6,39.9 77.4,41.3 80.2,41.9 82.8,42.8 85.6,43.4 88.5,44.1 91.2,45.4 93.9,46.1 96.2,46.9 98.2,47.8 99.7,48.2" fill="none" stroke="rgb(23,197,17)" stroke-width="0.95" stroke-linecap="round" stroke-linejoin="round" opacity="0.85"/>
<path d="M45.6,27.5 47.1,26.9 49.2,26.1 51.7,25.1 54.4,23.9 57.5,23.3 60.3,22.3 62.5,20.6 64.7,18.8 67.3,17.4 69.9,15.9 72.4,14.3 74.7,12.8 76.6,11.0 78.6,8.2 81.0,6.0 83.3,3.8 84.7,1.6 85.6,0.0" fill="none" stroke="rgb(19,186,15)" stroke-width="0.855" stroke-linecap="round" stroke-linejoin="round" opacity="0.85"/>
<path d="M-0.1,32.2 1.8,33.2 4.8,34.1 8.1,35.0 11.0,36.3 14.0,37.0 17.1,37.8 19.8,38.7 21.8,39.1" fill="none" stroke="rgb(23,197,17)" stroke-width="0.95" stroke-linecap="round" stroke-linejoin="round" opacity="0.85"/>
<path d="M21.7,11.1 22.9,12.2 24.7,13.6 26.9,15.2 28.7,17.5 30.6,20.0 32.6,22.0 34.4,23.9 36.4,25.8 38.6,27.2 40.6,28.8 42.2,30.8 43.8,32.8 45.5,34.7 47.0,37.0 48.8,39.4 51.0,41.5 52.7,43.8 53.8,45.9 54.7,47.3" fill="none" stroke="rgb(19,186,15)" stroke-width="0.95" stroke-linecap="round" stroke-linejoin="round" opacity="0.85"/>
<path d="M18.1,0.2 20.3,0.8 23.1,2.2 26.0,4.2 29.1,5.7 31.7,6.7 34.8,6.9 37.7,7.7 40.1,8.7 41.9,9.2" fill="none" stroke="rgb(19,186,15)" stroke-width="0.95" stroke-linecap="round" stroke-linejoin="round" opacity="0.85"/>
<path d="M-0.4,5.8 1.2,7.3 3.4,9.5 5.8,11.9 7.6,14.4 8.6,18.1 9.9,21.4 10.7,23.8" fill="none" stroke="rgb(19,186,15)" stroke-width="0.95" stroke-linecap="round" stroke-linejoin="round" opacity="0.85"/>
<path d="M69.4,36.3 70.9,37.6 72.6,40.0 74.2,42.9 76.7,45.1 78.7,47.1 79.9,50.0 80.4,53.0 81.2,55.4 81.9,57.0" fill="none" stroke="rgb(18,180,14)" stroke-width="0.855" stroke-linecap="round" stroke-linejoin="round" opacity="0.85"/>
<path d="M-0.0,65.7 1.7,65.9 3.9,66.0 6.6,65.6 9.4,64.8 12.5,64.6 15.4,64.6 18.2,64.5 20.8,64.4 23.3,64.5 25.8,64.2 28.2,63.4 30.8,62.9 33.5,63.0 36.4,63.2 38.8,63.1 41.4,63.0 44.0,63.0 46.7,62.7 49.4,62.1 52.1,62.1 54.9,62.5 57.5,62.7 60.1,62.5 63.0,62.4 65.8,62.2 68.6,61.8 71.4,61.6 74.1,62.0 76.8,62.4 79.4,62.2 82.0,62.0 84.9,61.9 87.9,61.8 90.8,61.7 93.6,62.1 96.1,62.6 98.2,62.7 99.8,62.6" fill="none" stroke="rgb(34,225,26)" stroke-width="1.3299999999999998" stroke-linecap="round" stroke-linejoin="round" opacity="0.85"/>
<path d="M54.6,66.6 56.1,66.2 58.0,65.6 60.2,65.0 62.8,64.7 65.6,64.5 68.4,63.6 71.1,62.5 73.9,61.8 76.4,60.9 79.1,60.2 82.2,60.0 85.1,58.9 88.0,57.6 90.9,56.6 93.6,55.6 96.1,54.9 98.3,54.7 100.0,54.4" fill="none" stroke="rgb(29,214,22)" stroke-width="1.14" stroke-linecap="round" stroke-linejoin="round" opacity="0.85"/>
<path d="M20.1,52.1 19.9,53.7 20.2,55.7 20.7,58.0 20.9,60.8 20.9,63.7 20.8,67.0 20.5,70.3 21.1,72.7 21.6,75.4 21.2,78.4 21.1,81.5 21.1,84.7 21.4,87.9 22.1,90.9 21.8,93.7 21.4,96.3 21.5,98.4 21.8,100.0" fill="none" stroke="rgb(27,208,20)" stroke-width="1.14" stroke-linecap="round" stroke-linejoin="round" opacity="0.85"/>
<path d="M67.8,67.6 67.6,69.3 67.6,71.6 67.8,74.3 67.9,77.2 68.1,80.2 68.7,83.1 68.9,86.0 68.4,89.2 68.4,92.5 68.5,95.6 68.5,98.2 68.6,100.0" fill="none" stroke="rgb(19,186,15)" stroke-width="0.76" stroke-linecap="round" stroke-linejoin="round" opacity="0.85"/>
<path d="M87.2,65.7 86.8,67.5 86.6,70.0 86.1,72.9 84.9,76.0 84.2,79.4 83.5,81.8 82.8,84.5 82.9,87.6 82.7,90.6 82.2,93.5 82.0,96.2 81.4,98.4 80.8,100.0" fill="none" stroke="rgb(16,175,13)" stroke-width="0.76" stroke-linecap="round" stroke-linejoin="round" opacity="0.85"/>
<path d="M52.5,76.0 53.5,77.7 55.5,79.9 57.2,82.9 59.2,85.6 60.2,88.5 61.5,91.8 62.1,95.2 63.2,98.1 64.1,100.0" fill="none" stroke="rgb(27,208,20)" stroke-width="1.045" stroke-linecap="round" stroke-linejoin="round" opacity="0.85"/>
<path d="M87.2,63.2 88.3,64.9 89.7,67.3 91.8,70.0 93.7,72.8 94.7,75.8 95.9,78.6 96.8,81.6 98.0,84.4 99.5,86.7 100.2,88.4" fill="none" stroke="rgb(27,208,20)" stroke-width="1.14" stroke-linecap="round" stroke-linejoin="round" opacity="0.85"/>
<path d="M-0.1,47.0 1.9,47.6 4.8,48.6 8.0,49.7 11.1,50.3 13.7,51.7 16.3,53.2 18.6,54.6 20.0,55.8" fill="none" stroke="rgb(27,208,20)" stroke-width="1.14" stroke-linecap="round" stroke-linejoin="round" opacity="0.85"/>
<path d="M3.4,100.0 4.0,98.2 5.0,95.7 5.5,92.7 5.7,89.4 7.1,86.6 8.8,84.5 10.4,82.1 12.2,79.6 13.8,77.2 15.0,75.1 16.1,73.7" fill="none" stroke="rgb(15,169,12)" stroke-width="0.95" stroke-linecap="round" stroke-linejoin="round" opacity="0.85"/>
<path d="M72.9,60.3 74.3,58.9 76.5,57.0 78.3,54.3 79.9,51.9 82.0,49.6 83.8,47.2 85.8,44.9 87.4,41.7 88.2,38.1 89.1,35.7" fill="none" stroke="rgb(23,197,17)" stroke-width="0.95" stroke-linecap="round" stroke-linejoin="round" opacity="0.85"/>
<path d="M36.5,61.1 35.0,60.0 33.2,58.1 30.8,56.2 29.2,53.8 27.4,51.7 25.1,49.8 23.2,47.9 21.6,46.9" fill="none" stroke="rgb(16,175,13)" stroke-width="0.855" stroke-linecap="round" stroke-linejoin="round" opacity="0.85"/>
<path d="M100.1,79.2 98.6,78.1 96.6,76.6 94.6,74.4 92.7,72.2 91.2,70.3 89.1,67.3 86.7,65.0 85.2,63.3" fill="none" stroke="rgb(16,175,13)" stroke-width="0.855" stroke-linecap="round" stroke-linejoin="round" opacity="0.85"/>
</g>
<rect x="55" y="90.3" width="38.5" height="2.2" fill="#fff"/>
</g>
<g transform="translate(399,26)" clip-path="url(#cB)">
<rect width="100" height="98.6" fill="#d5d8d8"/>
<g filter="url(#b4)">
<ellipse cx="30.0" cy="30.0" rx="30.0" ry="25.0" fill="#d9dcdc" opacity="0.8"/>
<ellipse cx="75.0" cy="75.0" rx="22.0" ry="20.0" fill="#d9dbdb" opacity="0.8"/>
<ellipse cx="8.0" cy="88.0" rx="12.0" ry="12.0" fill="#c6c8c8" opacity="0.8"/>
</g>
<g filter="url(#b05)">
<path d="M30.7,0.0 31.1,1.9 31.5,4.6 32.0,7.7 33.0,10.9 33.4,13.6 34.0,16.6 34.4,19.7 34.7,22.8 35.4,25.5 36.1,28.6 37.3,31.4 38.4,33.9 39.3,36.4 40.8,39.5 41.8,42.6 42.6,44.7" fill="none" stroke="#a2a4a4" stroke-width="3.61" stroke-linecap="round" stroke-linejoin="round" opacity="0.60"/>
<path d="M73.3,0.0 73.2,2.0 72.8,4.8 72.1,8.0 71.8,11.4 72.0,14.6 72.0,17.5 72.2,20.5 72.5,23.4 72.5,26.3 72.6,29.2 73.1,31.8 73.9,34.3 74.7,36.7 75.6,39.2 76.8,41.8 77.7,44.3 78.4,47.3 79.3,50.3 80.4,53.0 81.2,55.4 81.7,57.1" fill="none" stroke="#a2a4a4" stroke-width="3.8" stroke-linecap="round" stroke-linejoin="round" opacity="0.60"/>
<path d="M99.7,27.0 98.0,27.8 95.9,29.3 93.2,30.7 90.3,31.9 87.5,33.0 85.1,33.3 82.6,33.8 80.2,34.7 77.7,35.4 75.2,36.0 72.9,36.7 70.1,37.1 67.3,37.2 64.7,37.7 62.2,38.3 60.0,39.0 57.2,41.5 54.6,43.8 52.8,45.5" fill="none" stroke="#a2a4a4" stroke-width="3.42" stroke-linecap="round" stroke-linejoin="round" opacity="0.49"/>
<path d="M99.7,14.3 98.1,15.1 96.1,16.6 93.8,18.5 91.1,20.1 89.2,21.5 87.3,23.3 85.4,25.5 83.5,27.5 81.8,29.5 80.3,31.2 77.7,33.4 75.6,35.0 74.4,36.2" fill="none" stroke="#a2a4a4" stroke-width="2.28" stroke-linecap="round" stroke-linejoin="round" opacity="0.22"/>
<path d="M66.1,-0.1 65.9,1.9 65.7,4.8 65.1,8.1 64.6,11.5 63.9,14.6 63.0,16.9 62.2,19.3 61.8,21.7 61.4,24.2 60.9,26.6 60.2,29.2 59.7,31.9 58.9,34.7 58.0,37.5 57.4,40.3 57.2,43.1 56.7,45.6 55.6,49.1 54.6,52.3 53.3,55.0 52.5,56.9" fill="none" stroke="#a2a4a4" stroke-width="2.8499999999999996" stroke-linecap="round" stroke-linejoin="round" opacity="0.38"/>
<path d="M49.3,3.6 49.3,5.3 49.1,7.7 48.3,10.4 47.5,13.3 46.8,16.4 46.2,19.2 46.1,21.9 45.5,25.3 44.6,28.6 44.0,31.8 43.5,34.5 43.3,36.4" fill="none" stroke="#a2a4a4" stroke-width="1.71" stroke-linecap="round" stroke-linejoin="round" opacity="0.15"/>
<path d="M0.1,28.9 1.6,30.3 3.6,32.3 6.5,34.0 9.4,35.9 12.2,37.4 14.6,38.5 17.3,39.2 20.0,38.6 22.5,37.3 25.0,36.6 27.3,36.3 31.0,37.1 34.1,38.6 36.4,39.2" fill="none" stroke="#a2a4a4" stroke-width="1.71" stroke-linecap="round" stroke-linejoin="round" opacity="0.10"/>
<path d="M99.8,7.3 98.2,8.5 96.0,10.3 93.5,12.0 90.9,13.5 88.5,15.8 86.2,18.0 84.0,20.3 80.6,21.6 77.1,22.8 74.6,23.4" fill="none" stroke="#a2a4a4" stroke-width="1.71" stroke-linecap="round" stroke-linejoin="round" opacity="0.15"/>
<path d="M55.0,-0.2 55.8,1.9 57.0,4.8 58.5,8.0 59.8,11.1 61.7,13.9 63.3,17.0 64.9,19.7 65.7,21.8" fill="none" stroke="#a2a4a4" stroke-width="1.52" stroke-linecap="round" stroke-linejoin="round" opacity="0.07"/>
<path d="M10.7,0.0 11.1,2.0 12.1,4.7 12.7,8.0 12.9,11.4 12.9,14.6 12.2,17.0 11.1,19.4 10.3,22.0 9.4,24.6 8.3,27.0 7.4,29.2 6.1,32.5 4.3,35.6 2.6,38.1 1.7,40.0" fill="none" stroke="#a2a4a4" stroke-width="1.52" stroke-linecap="round" stroke-linejoin="round" opacity="0.05"/>
<path d="M81.8,0.0 82.4,2.0 83.1,4.8 84.4,7.9 85.9,10.8 87.1,13.3 88.9,15.9 91.0,18.2 93.0,20.3 94.7,21.9 97.9,23.2 99.9,23.3" fill="none" stroke="#a2a4a4" stroke-width="1.71" stroke-linecap="round" stroke-linejoin="round" opacity="0.12"/>
<path d="M68.5,43.2 67.7,44.5 66.3,46.1 64.7,48.0 63.0,50.2 61.4,52.7 59.5,55.2 57.9,57.9 56.5,60.7 54.9,63.2 53.3,65.3 51.8,67.7 50.3,70.2 48.5,72.6 47.0,75.1 45.8,77.8 44.6,80.3 43.2,82.6 42.1,84.8 41.2,86.8 39.4,90.2 38.0,93.3 37.3,96.1 36.8,98.4 36.3,100.0" fill="none" stroke="#a2a4a4" stroke-width="3.04" stroke-linecap="round" stroke-linejoin="round" opacity="0.60"/>
<path d="M60.8,47.4 60.0,48.9 58.9,50.8 57.5,53.0 56.3,55.7 54.3,58.1 52.4,60.7 50.7,63.4 49.3,66.2 48.0,68.7 46.2,70.8 44.7,73.1 43.1,75.4 41.8,77.9 40.6,80.5 38.9,82.5 37.6,84.6 36.4,86.6 35.3,88.4 34.2,92.4 33.0,95.5 32.3,98.1 31.8,100.0" fill="none" stroke="#a2a4a4" stroke-width="2.8499999999999996" stroke-linecap="round" stroke-linejoin="round" opacity="0.49"/>
<path d="M54.7,54.0 53.9,55.3 52.8,57.1 51.1,59.1 49.2,61.1 47.5,63.5 45.9,66.0 44.3,68.3 43.0,70.5 41.1,73.0 38.7,75.2 36.7,77.6 34.9,80.0 33.2,82.1 32.0,84.1 30.0,87.2 28.2,89.2 27.2,90.6" fill="none" stroke="#a2a4a4" stroke-width="2.8499999999999996" stroke-linecap="round" stroke-linejoin="round" opacity="0.49"/>
<path d="M76.3,43.1 76.9,44.7 78.1,46.9 79.1,49.6 80.0,52.6 81.0,55.3 81.7,57.7 83.3,60.1 85.0,61.9 86.3,64.0 87.6,66.6 88.2,69.0 88.4,71.7 89.2,74.4 89.9,77.3 90.6,80.2 91.4,83.0 91.6,86.1 92.4,89.3 93.1,92.6 94.2,95.6 94.9,98.1 95.2,100.0" fill="none" stroke="#a2a4a4" stroke-width="3.42" stroke-linecap="round" stroke-linejoin="round" opacity="0.60"/>
<path d="M87.5,66.5 89.4,67.1 92.2,67.9 94.7,68.6 97.7,69.1 99.8,69.0" fill="none" stroke="#a2a4a4" stroke-width="2.28" stroke-linecap="round" stroke-linejoin="round" opacity="0.29"/>
<path d="M13.9,50.3 13.5,52.1 12.3,54.5 11.2,57.4 10.8,60.4 10.6,63.0 10.9,65.9 11.0,68.8 11.7,71.7 13.7,73.9 15.5,75.4 18.0,76.9 20.7,78.4 23.2,80.1 25.7,80.9 27.4,81.5" fill="none" stroke="#a2a4a4" stroke-width="1.71" stroke-linecap="round" stroke-linejoin="round" opacity="0.10"/>
<path d="M87.5,70.2 87.0,71.9 86.5,74.2 85.7,77.0 84.7,79.9 83.0,82.6 80.8,84.6 79.2,86.3 77.3,88.2 74.9,89.6 72.3,91.0 69.7,92.2 67.0,93.2 64.5,94.6 62.0,95.8 59.3,96.2 56.5,96.5 53.6,97.0 50.7,97.4 48.0,97.8 45.5,98.0 43.4,97.8 41.9,97.7" fill="none" stroke="#a2a4a4" stroke-width="1.71" stroke-linecap="round" stroke-linejoin="round" opacity="0.10"/>
<path d="M-0.1,57.7 1.5,59.1 3.4,61.7 5.5,64.4 7.1,66.9 9.3,69.1 11.5,70.7 12.8,72.1" fill="none" stroke="#a2a4a4" stroke-width="1.71" stroke-linecap="round" stroke-linejoin="round" opacity="0.10"/>
<path d="M0.0,76.1 1.7,76.4 4.1,76.7 6.9,77.2 9.9,78.1 12.9,78.8 15.8,79.0 18.3,79.2 21.7,80.0 24.8,80.7 27.3,81.3 29.1,81.8" fill="none" stroke="#a2a4a4" stroke-width="1.9" stroke-linecap="round" stroke-linejoin="round" opacity="0.15"/>
<path d="M29.3,81.7 28.0,83.0 26.0,84.4 23.7,86.2 21.7,88.4 20.0,90.5 18.7,93.4 17.0,96.1 15.8,98.5 14.9,100.2" fill="none" stroke="#a2a4a4" stroke-width="1.9" stroke-linecap="round" stroke-linejoin="round" opacity="0.12"/>
<path d="M36.4,82.2 38.1,82.7 40.2,83.6 42.9,84.2 45.9,84.7 48.9,85.5 51.9,86.1 54.6,86.9 57.4,87.1 60.4,87.0 63.4,86.7 66.3,86.1 69.0,86.1 71.2,86.0 72.9,85.8" fill="none" stroke="#a2a4a4" stroke-width="1.3299999999999998" stroke-linecap="round" stroke-linejoin="round" opacity="0.04"/>
<path d="M30.7,0.0 31.2,1.9 32.0,4.5 32.4,7.6 32.8,10.9 33.3,13.7 33.5,16.7 34.0,19.8 35.0,22.7 35.8,25.4 36.5,28.5 37.4,31.3 38.2,34.0 38.8,36.6 40.4,39.7 42.0,42.5 42.9,44.6" fill="none" stroke="#eaecec" stroke-width="1.615" stroke-linecap="round" stroke-linejoin="round" opacity="0.90"/>
<path d="M73.2,-0.0 73.3,2.0 73.0,4.8 72.1,8.0 71.9,11.4 72.0,14.6 72.1,17.5 72.2,20.5 72.2,23.4 72.1,26.4 72.7,29.2 73.6,31.7 74.2,34.2 74.8,36.7 75.6,39.2 76.3,42.0 77.2,44.5 78.6,47.2 79.8,50.1 80.3,53.1 81.1,55.4 81.8,57.1" fill="none" stroke="#eaecec" stroke-width="1.7" stroke-linecap="round" stroke-linejoin="round" opacity="0.90"/>
<path d="M99.7,27.0 98.2,28.1 96.0,29.5 93.2,30.5 90.2,31.7 87.3,32.5 85.1,33.4 82.8,34.5 80.2,34.9 77.6,35.3 75.2,35.8 72.8,36.2 70.1,37.1 67.4,37.7 64.7,37.8 62.2,38.3 60.0,39.0 57.0,41.3 54.7,44.0 52.7,45.5" fill="none" stroke="#eaecec" stroke-width="1.53" stroke-linecap="round" stroke-linejoin="round" opacity="0.81"/>
<path d="M100.0,14.8 98.4,15.6 96.1,16.5 93.4,17.9 91.0,20.0 89.4,21.7 87.5,23.5 85.6,25.7 83.6,27.7 81.6,29.3 79.9,30.7 77.7,33.3 76.0,35.3 74.8,36.5" fill="none" stroke="#eaecec" stroke-width="1.02" stroke-linecap="round" stroke-linejoin="round" opacity="0.54"/>
<path d="M66.7,0.0 66.4,2.0 65.6,4.8 64.7,8.0 64.3,11.4 63.6,14.5 63.1,17.0 62.8,19.4 62.3,21.8 61.5,24.2 60.7,26.6 60.1,29.1 59.4,31.8 58.6,34.6 58.1,37.5 57.8,40.4 57.2,43.1 56.6,45.6 55.7,49.1 54.3,52.3 53.2,55.0 52.6,57.0" fill="none" stroke="#eaecec" stroke-width="1.275" stroke-linecap="round" stroke-linejoin="round" opacity="0.72"/>
<path d="M49.5,3.6 49.0,5.3 48.5,7.6 48.2,10.4 47.9,13.4 46.9,16.4 46.1,19.2 45.8,21.8 45.4,25.3 44.8,28.7 44.2,31.8 43.4,34.5 43.1,36.4" fill="none" stroke="#eaecec" stroke-width="0.765" stroke-linecap="round" stroke-linejoin="round" opacity="0.45"/>
<path d="M0.1,29.0 1.7,30.2 3.8,32.1 6.3,34.3 9.4,35.9 12.1,37.5 14.6,38.3 17.3,39.0 20.0,38.6 22.6,37.6 25.0,36.8 27.3,36.2 31.0,36.9 34.1,38.4 36.4,39.3" fill="none" stroke="#eaecec" stroke-width="0.765" stroke-linecap="round" stroke-linejoin="round" opacity="0.36"/>
<path d="M100.0,7.5 98.4,8.6 95.9,10.1 93.4,11.9 91.0,13.6 88.4,15.7 86.3,18.1 84.0,20.3 80.6,21.7 77.1,22.7 74.6,23.6" fill="none" stroke="#eaecec" stroke-width="0.765" stroke-linecap="round" stroke-linejoin="round" opacity="0.45"/>
<path d="M54.7,-0.0 55.9,1.8 57.2,4.7 58.8,7.9 60.0,11.0 61.3,14.1 63.1,17.1 64.6,19.9 65.7,21.8" fill="none" stroke="#eaecec" stroke-width="0.68" stroke-linecap="round" stroke-linejoin="round" opacity="0.32"/>
<path d="M10.7,0.0 11.0,2.0 12.0,4.8 12.7,8.0 12.9,11.4 12.8,14.6 12.1,17.0 11.1,19.4 10.5,22.1 9.5,24.6 8.4,27.0 7.5,29.2 5.9,32.4 3.9,35.4 2.7,38.1 1.8,40.1" fill="none" stroke="#eaecec" stroke-width="0.68" stroke-linecap="round" stroke-linejoin="round" opacity="0.27"/>
<path d="M82.0,-0.0 82.6,1.9 83.4,4.7 84.4,7.9 85.4,11.0 87.0,13.3 88.8,15.9 91.2,18.0 93.2,20.1 94.8,21.7 97.9,23.4 99.8,24.0" fill="none" stroke="#eaecec" stroke-width="0.765" stroke-linecap="round" stroke-linejoin="round" opacity="0.41"/>
<path d="M68.5,43.2 67.4,44.3 66.1,46.0 64.7,48.0 63.0,50.2 61.5,52.8 60.0,55.5 57.9,57.9 56.2,60.5 54.4,62.9 53.1,65.2 52.0,67.9 50.4,70.3 48.7,72.7 47.1,75.2 45.5,77.7 44.5,80.3 43.4,82.7 42.0,84.8 41.0,86.7 39.2,90.2 38.2,93.4 37.8,96.2 37.1,98.4 36.5,100.0" fill="none" stroke="#eaecec" stroke-width="1.36" stroke-linecap="round" stroke-linejoin="round" opacity="0.90"/>
<path d="M61.2,47.6 60.3,49.1 59.0,50.9 57.7,53.2 56.0,55.5 54.0,57.9 52.5,60.8 50.8,63.5 49.4,66.2 48.0,68.7 46.2,70.8 44.7,73.1 43.1,75.5 41.5,77.8 40.4,80.3 39.1,82.7 37.7,84.7 36.6,86.8 35.6,88.6 33.6,92.1 32.9,95.5 32.4,98.2 31.9,100.0" fill="none" stroke="#eaecec" stroke-width="1.275" stroke-linecap="round" stroke-linejoin="round" opacity="0.81"/>
<path d="M54.8,54.1 54.0,55.4 52.7,57.1 51.0,59.0 49.2,61.1 47.6,63.6 45.9,66.0 44.3,68.3 43.0,70.5 41.1,73.0 38.8,75.3 36.7,77.6 34.9,80.0 33.2,82.0 31.8,83.9 30.0,87.2 28.5,89.4 27.4,90.8" fill="none" stroke="#eaecec" stroke-width="1.275" stroke-linecap="round" stroke-linejoin="round" opacity="0.81"/>
<path d="M76.3,43.1 76.9,44.7 77.8,47.0 78.8,49.8 80.3,52.5 81.1,55.2 81.9,57.6 83.3,60.1 84.6,62.2 86.1,64.1 87.7,66.6 88.3,68.9 88.9,71.6 89.3,74.4 89.5,77.4 90.5,80.2 91.2,83.0 92.0,86.0 92.7,89.3 93.0,92.6 93.9,95.6 94.6,98.2 95.1,100.0" fill="none" stroke="#eaecec" stroke-width="1.53" stroke-linecap="round" stroke-linejoin="round" opacity="0.90"/>
<path d="M87.5,66.6 89.5,67.0 92.2,67.9 94.7,68.8 97.7,68.9 99.8,68.6" fill="none" stroke="#eaecec" stroke-width="1.02" stroke-linecap="round" stroke-linejoin="round" opacity="0.63"/>
<path d="M13.8,50.3 13.2,52.1 12.4,54.6 11.3,57.4 10.6,60.4 10.8,63.0 10.8,66.0 11.2,68.8 11.9,71.5 13.4,74.2 15.5,75.6 18.1,76.8 20.7,78.4 23.4,79.7 25.6,81.0 27.2,81.9" fill="none" stroke="#eaecec" stroke-width="0.765" stroke-linecap="round" stroke-linejoin="round" opacity="0.36"/>
<path d="M87.9,70.4 87.0,71.9 86.2,74.2 85.6,76.9 84.5,79.8 83.3,82.7 81.1,84.9 79.1,86.3 77.1,87.9 74.7,89.3 72.4,91.1 69.8,92.5 67.0,93.4 64.4,94.5 61.8,95.2 59.3,96.1 56.6,97.0 53.6,97.2 50.7,97.5 48.0,97.4 45.5,97.4 43.4,97.9 41.9,98.2" fill="none" stroke="#eaecec" stroke-width="0.765" stroke-linecap="round" stroke-linejoin="round" opacity="0.36"/>
<path d="M0.3,57.4 1.6,59.1 3.2,61.8 5.4,64.5 7.1,66.8 9.3,69.1 11.5,70.7 12.9,72.0" fill="none" stroke="#eaecec" stroke-width="0.765" stroke-linecap="round" stroke-linejoin="round" opacity="0.36"/>
<path d="M0.0,76.1 1.7,76.5 4.1,77.0 6.9,77.6 10.0,77.8 13.1,78.2 15.8,79.2 18.2,79.7 21.7,80.1 24.8,80.6 27.4,81.0 29.2,81.5" fill="none" stroke="#eaecec" stroke-width="0.85" stroke-linecap="round" stroke-linejoin="round" opacity="0.45"/>
<path d="M29.0,81.5 27.7,82.6 26.0,84.4 24.1,86.6 21.9,88.6 20.1,90.6 18.5,93.3 16.8,96.0 15.5,98.3 14.7,100.1" fill="none" stroke="#eaecec" stroke-width="0.85" stroke-linecap="round" stroke-linejoin="round" opacity="0.41"/>
<path d="M36.5,81.9 38.1,82.5 40.3,83.3 42.9,84.1 45.8,85.2 48.9,85.6 51.9,86.0 54.6,86.8 57.4,87.0 60.4,87.0 63.4,86.7 66.3,86.0 69.0,86.1 71.2,86.2 72.9,86.0" fill="none" stroke="#eaecec" stroke-width="0.595" stroke-linecap="round" stroke-linejoin="round" opacity="0.23"/>
<circle cx="48.3" cy="35.2" r="2.2" fill="#d6d6d6" stroke="#8e8e8e" stroke-width="0.9"/>
<circle cx="73.4" cy="19.7" r="1.0" fill="#777"/>
<circle cx="85.5" cy="5.5" r="1.4" fill="#efefef" stroke="#a5a5a5" stroke-width="0.4"/>
<circle cx="89" cy="11" r="1.2" fill="#efefef" stroke="#a5a5a5" stroke-width="0.4"/>
<circle cx="80" cy="2" r="0.9" fill="#efefef" stroke="#a5a5a5" stroke-width="0.4"/>
<circle cx="93" cy="4" r="0.8" fill="#efefef" stroke="#a5a5a5" stroke-width="0.4"/>
<circle cx="97" cy="22" r="0.8" fill="#efefef" stroke="#a5a5a5" stroke-width="0.4"/>
<circle cx="88" cy="2" r="0.7" fill="#efefef" stroke="#a5a5a5" stroke-width="0.4"/>
<circle cx="6.5" cy="89.2" r="0.6" fill="#aaa"/>
<circle cx="6.1" cy="84.0" r="0.4" fill="#b5b5b5"/>
<circle cx="0.1" cy="81.2" r="0.5" fill="#e2e2e2"/>
<circle cx="11.1" cy="85.8" r="0.4" fill="#b5b5b5"/>
<circle cx="10.7" cy="85.4" r="0.4" fill="#e2e2e2"/>
<circle cx="9.9" cy="80.3" r="0.3" fill="#aaa"/>
<circle cx="4.3" cy="84.5" r="0.6" fill="#e2e2e2"/>
<circle cx="0.6" cy="85.9" r="0.4" fill="#aaa"/>
<circle cx="3.0" cy="83.3" r="0.4" fill="#aaa"/>
<circle cx="0.7" cy="97.8" r="0.5" fill="#b5b5b5"/>
<circle cx="0.6" cy="92.7" r="0.5" fill="#b5b5b5"/>
<circle cx="13.0" cy="85.6" r="0.4" fill="#e2e2e2"/>
<circle cx="9.4" cy="89.1" r="0.4" fill="#e2e2e2"/>
<circle cx="15.9" cy="93.2" r="0.6" fill="#b5b5b5"/>
<circle cx="13.1" cy="95.3" r="0.3" fill="#aaa"/>
<circle cx="0.1" cy="96.2" r="0.5" fill="#b5b5b5"/>
<circle cx="10.3" cy="89.2" r="0.6" fill="#e2e2e2"/>
<circle cx="9.0" cy="86.3" r="0.4" fill="#aaa"/>
<circle cx="13.4" cy="90.5" r="0.3" fill="#e2e2e2"/>
<circle cx="12.2" cy="91.9" r="0.4" fill="#aaa"/>
<circle cx="2.9" cy="91.2" r="0.6" fill="#b5b5b5"/>
<circle cx="10.4" cy="97.0" r="0.3" fill="#aaa"/>
<circle cx="0.1" cy="83.6" r="0.5" fill="#b5b5b5"/>
<circle cx="10.9" cy="95.7" r="0.6" fill="#aaa"/>
<circle cx="4.5" cy="97.8" r="0.4" fill="#aaa"/>
<circle cx="15.9" cy="93.5" r="0.5" fill="#e2e2e2"/>
<circle cx="8.7" cy="88.0" r="0.4" fill="#e2e2e2"/>
<circle cx="6.4" cy="84.2" r="0.6" fill="#e2e2e2"/>
<circle cx="1.2" cy="83.2" r="0.6" fill="#b5b5b5"/>
<circle cx="2.1" cy="97.1" r="0.4" fill="#e2e2e2"/>
<circle cx="14.6" cy="79.7" r="0.6" fill="#aaa"/>
<circle cx="4.5" cy="89.0" r="0.5" fill="#aaa"/>
<circle cx="0.6" cy="82.8" r="0.4" fill="#b5b5b5"/>
<circle cx="4.3" cy="86.5" r="0.3" fill="#e2e2e2"/>
<circle cx="4.0" cy="82.8" r="0.5" fill="#b5b5b5"/>
<circle cx="1.8" cy="97.9" r="0.6" fill="#aaa"/>
<circle cx="14.5" cy="79.6" r="0.6" fill="#b5b5b5"/>
<circle cx="10.9" cy="94.5" r="0.4" fill="#b5b5b5"/>
<circle cx="11.9" cy="92.1" r="0.4" fill="#aaa"/>
<circle cx="2.5" cy="81.0" r="0.6" fill="#e2e2e2"/>
<circle cx="5.0" cy="89.0" r="0.4" fill="#aaa"/>
<circle cx="2.7" cy="89.2" r="0.3" fill="#aaa"/>
<circle cx="6.3" cy="88.3" r="0.5" fill="#e2e2e2"/>
<circle cx="6.4" cy="83.8" r="0.5" fill="#aaa"/>
<circle cx="10.9" cy="92.2" r="0.4" fill="#b5b5b5"/>
<circle cx="15.0" cy="98.1" r="0.5" fill="#e2e2e2"/>
<circle cx="0.3" cy="94.4" r="0.3" fill="#aaa"/>
<circle cx="2.7" cy="81.6" r="0.3" fill="#aaa"/>
<circle cx="14.3" cy="92.4" r="0.4" fill="#e2e2e2"/>
<circle cx="13.2" cy="83.1" r="0.4" fill="#aaa"/>
<circle cx="4.8" cy="93.9" r="0.5" fill="#aaa"/>
<circle cx="10.6" cy="81.5" r="0.4" fill="#e2e2e2"/>
<circle cx="14.6" cy="88.0" r="0.4" fill="#e2e2e2"/>
<circle cx="11.0" cy="96.1" r="0.4" fill="#e2e2e2"/>
<circle cx="7.7" cy="80.3" r="0.5" fill="#b5b5b5"/>
<circle cx="3.1" cy="95.2" r="0.4" fill="#b5b5b5"/>
<circle cx="12.4" cy="85.1" r="0.4" fill="#e2e2e2"/>
<circle cx="6.9" cy="78.7" r="0.4" fill="#b5b5b5"/>
<circle cx="7.0" cy="78.1" r="0.5" fill="#e2e2e2"/>
<circle cx="0.3" cy="93.9" r="0.4" fill="#b5b5b5"/>
<circle cx="42.7" cy="55.4" r="0.8" fill="#b2b2b2"/>
<circle cx="39.0" cy="53.4" r="0.6" fill="#dedede"/>
<circle cx="43.7" cy="55.4" r="0.7" fill="#b2b2b2"/>
<circle cx="44.8" cy="51.2" r="0.5" fill="#dedede"/>
<circle cx="45.7" cy="48.3" r="0.8" fill="#dedede"/>
<circle cx="44.5" cy="52.0" r="0.6" fill="#dedede"/>
<circle cx="47.5" cy="49.1" r="0.5" fill="#dedede"/>
<circle cx="48.2" cy="52.5" r="0.7" fill="#b2b2b2"/>
<circle cx="46.4" cy="48.5" r="0.8" fill="#b2b2b2"/>
<circle cx="39.5" cy="53.1" r="0.7" fill="#b2b2b2"/>
<circle cx="44.9" cy="51.3" r="0.4" fill="#e8e8e8"/>
<circle cx="44.3" cy="51.1" r="0.8" fill="#e8e8e8"/>
<circle cx="45.5" cy="47.3" r="0.6" fill="#b2b2b2"/>
<circle cx="44.5" cy="51.2" r="0.6" fill="#e8e8e8"/>
<circle cx="38.4" cy="50.5" r="0.5" fill="#dedede"/>
<circle cx="44.1" cy="51.2" r="0.6" fill="#dedede"/>
<circle cx="28.9" cy="85.8" r="0.5" fill="#e8e8e8"/>
<circle cx="34.3" cy="95.9" r="0.5" fill="#f0f0f0"/>
<circle cx="31.6" cy="92.4" r="0.4" fill="#e8e8e8"/>
<circle cx="30.8" cy="92.5" r="0.6" fill="#e8e8e8"/>
<circle cx="27.1" cy="85.7" r="0.5" fill="#f0f0f0"/>
<circle cx="29.9" cy="87.0" r="0.7" fill="#e8e8e8"/>
<circle cx="30.5" cy="89.0" r="0.6" fill="#a8a8a8"/>
<circle cx="32.3" cy="84.4" r="0.4" fill="#a8a8a8"/>
<circle cx="33.4" cy="91.9" r="0.8" fill="#a8a8a8"/>
<circle cx="29.2" cy="93.5" r="0.6" fill="#f0f0f0"/>
<circle cx="35.2" cy="88.8" r="0.6" fill="#e8e8e8"/>
<circle cx="31.4" cy="85.6" r="0.8" fill="#f0f0f0"/>
<circle cx="29.0" cy="84.4" r="0.4" fill="#f0f0f0"/>
<circle cx="27.8" cy="96.7" r="0.6" fill="#f0f0f0"/>
</g>
<circle cx="44.8" cy="51.3" r="8.2" fill="none" stroke="#2fe23a" stroke-width="1.0"/>
<rect x="75.3" y="90.1" width="16.6" height="2.2" fill="#fff"/>
</g>
<path d="M27.8,227.2 L28.4,227.3 L28.9,228.0 L29.0,227.0 L29.5,228.4 L30.0,229.0 L30.4,229.6 L30.6,229.1 L31.1,229.1 L31.6,228.5 L31.7,228.1 L32.2,230.0 L32.8,230.6 L33.0,231.4 L33.3,230.2 L33.9,229.4 L34.4,228.8 L35.0,227.7 L35.0,229.2 L35.5,227.6 L36.1,227.2 L36.6,227.4 L37.2,228.0 L37.3,227.1 L37.7,225.9 L38.3,225.5 L38.8,225.7 L39.0,225.0 L39.4,224.1 L39.9,223.6 L40.5,223.4 L40.7,223.8 L41.0,221.1 L41.6,220.1 L42.1,218.6 L42.5,216.6 L42.7,217.1 L43.2,215.6 L43.8,215.4 L44.2,213.4 L44.3,212.7 L44.9,215.3 L45.1,215.2 L45.4,214.7 L45.9,215.9 L46.0,215.8 L46.5,213.6 L47.1,212.2 L47.2,210.3 L47.6,208.5 L48.2,205.3 L48.3,204.1 L48.7,203.0 L49.0,202.1 L49.3,203.6 L49.8,204.9 L49.8,206.1 L50.4,210.2 L50.7,214.5 L50.9,213.2 L51.5,213.6 L52.0,212.4 L52.0,211.5 L52.6,210.8 L53.1,207.5 L53.2,207.7 L53.7,207.1 L54.2,205.6 L54.2,206.5 L54.8,208.3 L55.3,207.4 L55.5,208.9 L55.9,208.7 L56.4,210.4 L57.0,210.1 L57.1,210.4 L57.5,210.3 L58.1,210.0 L58.5,209.0 L58.6,210.8 L59.2,210.0 L59.7,211.9 L60.0,212.6 L60.3,211.8 L60.8,212.8 L61.4,213.7 L61.5,213.1 L61.9,213.3 L62.5,213.0 L63.0,215.1 L63.5,216.2 L63.6,216.4 L64.1,216.9 L64.7,218.6 L65.2,218.8 L65.8,220.0 L65.8,220.5 L66.3,219.8 L66.9,220.4 L67.4,222.2 L68.0,221.7 L68.0,220.4 L68.5,221.1 L69.1,221.4 L69.6,221.8 L70.2,221.1 L70.7,220.6 L71.0,220.5 L71.3,221.1 L71.8,220.4 L72.4,219.4 L72.9,219.1 L73.0,218.9 L73.5,219.0 L74.0,217.6 L74.6,217.7 L75.1,217.3 L75.3,216.9 L75.7,216.1 L76.2,217.3 L76.8,216.1 L77.3,216.7 L77.5,215.9 L77.9,215.2 L78.4,216.1 L79.0,215.8 L79.5,215.3 L80.1,215.2 L80.4,214.5 L80.6,214.5 L81.2,214.9 L81.7,216.2 L82.3,215.6 L82.5,214.8 L82.8,215.2 L83.4,214.3 L83.9,213.9 L84.2,214.5 L84.5,212.8 L85.0,211.3 L85.2,210.6 L85.6,194.5 L85.7,187.6 L86.0,175.2 L86.1,176.6 L86.5,187.6 L86.7,194.5 L87.0,210.6 L87.2,212.3 L87.7,216.9 L87.8,216.0 L88.3,216.1 L88.9,213.7 L89.0,214.1 L89.4,213.5 L90.0,212.9 L90.5,211.4 L90.8,211.4 L91.1,211.5 L91.6,212.7 L92.2,212.0 L92.7,213.0 L93.0,213.0 L93.3,212.5 L93.8,215.0 L94.4,213.5 L94.9,212.8 L95.5,214.7 L96.0,213.4 L96.0,214.2 L96.6,214.5 L97.1,213.5 L97.7,213.6 L98.2,213.5 L98.5,213.7 L98.8,213.1 L99.3,213.9 L99.9,215.1 L100.4,216.4 L101.0,216.7 L101.2,217.6 L101.5,216.6 L102.1,215.2 L102.6,214.8 L102.8,213.4 L103.2,212.7 L103.7,210.5 L103.7,211.3 L104.3,210.2 L104.3,209.4 L104.8,211.4 L105.0,211.7 L105.4,215.1 L105.9,219.5 L106.0,220.4 L106.5,221.3 L106.9,224.7 L107.0,224.2 L107.6,223.2 L108.1,222.8 L108.7,222.7 L109.0,222.9 L109.2,222.8 L109.8,223.2 L110.3,223.5 L110.9,223.9 L111.4,223.9 L111.5,223.1 L112.0,224.1 L112.5,224.4 L112.5,224.2 L113.1,224.8 L113.5,222.5 L113.6,223.9 L114.2,222.1 L114.7,222.1 L115.3,222.2 L115.5,221.4 L115.8,221.3 L116.4,220.2 L116.9,219.3 L117.5,218.8 L117.8,218.1 L118.0,219.3 L118.6,217.6 L119.1,218.2 L119.7,215.0 L120.0,216.2 L120.2,216.4 L120.8,215.5 L121.3,215.9 L121.9,215.3 L122.1,214.5 L122.4,215.2 L123.0,217.2 L123.5,216.2 L124.1,216.7 L124.5,216.7 L124.6,217.1 L125.2,216.6 L125.7,217.5 L126.3,219.4 L126.8,218.9 L127.3,218.9 L127.4,219.0 L127.9,218.3 L128.5,216.2 L128.8,216.3 L129.0,214.9 L129.6,212.0 L129.8,211.8 L130.1,209.0 L130.7,209.2 L130.7,209.7 L131.2,210.1 L131.8,211.9 L132.0,212.2 L132.3,213.2 L132.9,217.0 L133.3,217.2 L133.4,216.4 L134.0,215.4 L134.4,213.0 L134.5,213.5 L135.1,212.3 L135.4,212.6 L135.6,211.5 L136.2,214.8 L136.5,215.7 L136.7,215.8 L137.3,219.6 L137.8,220.9 L138.4,224.9 L138.5,224.9 L138.9,225.4 L139.5,225.6 L140.0,226.7 L140.6,225.6 L141.0,227.2 L141.1,226.9 L141.7,227.6 L142.2,227.6 L142.8,228.2 L143.3,227.6 L143.9,229.4 L144.4,229.9 L144.5,228.4 L145.0,228.1 L145.5,227.7 L146.1,227.8 L146.6,227.6 L147.0,225.4 L147.2,225.4 L147.7,224.0 L148.3,222.7 L148.8,221.2 L148.9,222.2 L149.4,218.6 L149.9,216.9 L150.3,214.1 L150.5,212.2 L151.0,209.3 L151.5,206.9 L151.6,208.3 L152.1,209.0 L152.7,210.7 L152.8,212.1 L153.2,214.1 L153.8,216.0 L154.3,219.8 L154.6,220.3 L154.9,221.3 L155.4,222.4 L156.0,224.7 L156.5,226.5 L156.5,225.2 L157.1,228.2 L157.6,228.4 L158.2,230.8 L158.4,230.6 L158.7,233.1 L159.3,232.9 L159.8,234.0 L160.0,234.4 L160.4,233.2 L160.9,233.0 L161.5,234.5 L161.8,235.4 L162.0,234.7 L162.6,234.5 L163.1,233.9 L163.7,231.7 L164.2,232.1 L164.5,232.8 L164.8,230.8 L165.3,228.9 L165.9,229.0 L166.4,227.9 L167.0,227.4 L167.0,226.6 L167.5,225.1 L168.1,221.4 L168.6,220.9 L168.8,220.6 L169.2,218.6 L169.7,214.2 L170.3,212.5 L170.4,209.8 L170.8,210.0 L171.4,207.4 L171.6,205.8 L171.9,206.0 L172.5,204.9 L172.5,205.3 L173.0,206.9 L173.3,208.2 L173.6,208.4 L174.1,212.0 L174.2,213.0 L174.7,212.4 L175.2,211.0 L175.8,210.6 L175.8,209.1 L176.3,208.5 L176.9,207.7 L177.4,206.3 L177.4,206.7 L178.0,204.4 L178.5,203.9 L178.8,201.9 L179.1,201.9 L179.6,199.2 L180.0,198.7 L180.2,196.3 L180.7,195.1 L181.2,192.3 L181.3,192.6 L181.8,191.6 L182.2,189.0 L182.4,189.5 L182.9,191.8 L183.2,193.8 L183.5,194.6 L184.0,200.5 L184.3,202.2 L184.6,203.9 L185.1,207.8 L185.6,211.3 L185.7,211.0 L186.2,214.2 L186.8,217.6 L186.9,218.3 L187.3,218.6 L187.9,222.3 L188.2,224.2 L188.4,225.4 L189.0,227.8 L189.4,228.4 L189.5,228.1 L190.1,227.9 L190.4,228.9 L190.6,229.8 L191.2,231.7 L191.2,230.6 L191.7,231.9 L192.3,232.9 L192.8,234.2 L192.9,233.4 L193.4,233.1 L193.9,233.4 L194.3,233.8 L194.5,233.8 L195.0,235.3 L195.6,236.1 L195.8,236.2 L195.8,241.0 L195.6,240.9 L195.0,240.1 L194.5,238.6 L194.3,238.6 L193.9,238.2 L193.4,237.9 L192.9,238.2 L192.8,239.0 L192.3,237.7 L191.7,236.7 L191.2,235.4 L191.2,236.5 L190.6,234.6 L190.4,233.7 L190.1,232.7 L189.5,232.9 L189.4,233.2 L189.0,232.6 L188.4,230.2 L188.2,229.0 L187.9,227.1 L187.3,223.4 L186.9,223.1 L186.8,222.4 L186.2,219.0 L185.7,215.8 L185.6,216.1 L185.1,212.6 L184.6,208.7 L184.3,207.0 L184.0,205.3 L183.5,199.4 L183.2,198.6 L182.9,196.6 L182.4,194.3 L182.2,193.8 L181.8,196.4 L181.3,197.4 L181.2,197.1 L180.7,199.9 L180.2,201.1 L180.0,203.5 L179.6,204.0 L179.1,206.7 L178.8,206.7 L178.5,208.7 L178.0,209.2 L177.4,211.5 L177.4,211.1 L176.9,212.5 L176.3,213.3 L175.8,213.9 L175.8,215.4 L175.2,215.8 L174.7,217.2 L174.2,217.8 L174.1,216.8 L173.6,213.2 L173.3,213.0 L173.0,211.7 L172.5,210.1 L172.5,209.7 L171.9,210.8 L171.6,210.6 L171.4,212.2 L170.8,214.8 L170.4,214.6 L170.3,217.3 L169.7,219.0 L169.2,223.4 L168.8,225.4 L168.6,225.7 L168.1,226.2 L167.5,229.9 L167.0,231.4 L167.0,232.2 L166.4,232.7 L165.9,233.8 L165.3,233.7 L164.8,235.6 L164.5,237.6 L164.2,236.9 L163.7,236.5 L163.1,238.7 L162.6,239.3 L162.0,239.5 L161.8,240.2 L161.5,239.3 L160.9,237.8 L160.4,238.0 L160.0,239.2 L159.8,238.8 L159.3,237.7 L158.7,237.9 L158.4,235.4 L158.2,235.6 L157.6,233.2 L157.1,233.0 L156.5,230.0 L156.5,231.3 L156.0,229.5 L155.4,227.2 L154.9,226.1 L154.6,225.1 L154.3,224.6 L153.8,220.8 L153.2,218.9 L152.8,216.9 L152.7,215.5 L152.1,213.8 L151.6,213.1 L151.5,211.7 L151.0,214.1 L150.5,217.0 L150.3,218.9 L149.9,221.7 L149.4,223.4 L148.9,227.0 L148.8,226.0 L148.3,227.5 L147.7,228.8 L147.2,230.2 L147.0,230.2 L146.6,232.4 L146.1,232.6 L145.5,232.5 L145.0,232.9 L144.5,233.2 L144.4,234.7 L143.9,234.2 L143.3,232.4 L142.8,233.0 L142.2,232.4 L141.7,232.4 L141.1,231.7 L141.0,232.0 L140.6,230.4 L140.0,231.5 L139.5,230.4 L138.9,230.2 L138.5,229.7 L138.4,229.7 L137.8,225.7 L137.3,224.4 L136.7,220.6 L136.5,220.5 L136.2,219.6 L135.6,216.3 L135.4,217.4 L135.1,217.1 L134.5,218.3 L134.4,217.8 L134.0,220.2 L133.4,221.2 L133.3,222.0 L132.9,221.8 L132.3,218.0 L132.0,217.0 L131.8,216.7 L131.2,214.9 L130.7,214.5 L130.7,214.0 L130.1,213.8 L129.8,216.6 L129.6,216.8 L129.0,219.7 L128.8,221.1 L128.5,221.0 L127.9,223.1 L127.4,223.8 L127.3,223.7 L126.8,223.7 L126.3,224.2 L125.7,222.3 L125.2,221.4 L124.6,221.9 L124.5,221.5 L124.1,221.5 L123.5,221.0 L123.0,222.0 L122.4,220.0 L122.1,219.3 L121.9,220.1 L121.3,220.7 L120.8,220.3 L120.2,221.2 L120.0,221.0 L119.7,219.8 L119.1,223.0 L118.6,222.4 L118.0,224.1 L117.8,222.9 L117.5,223.6 L116.9,224.1 L116.4,225.0 L115.8,226.1 L115.5,226.2 L115.3,227.0 L114.7,226.9 L114.2,226.9 L113.6,228.7 L113.5,227.3 L113.1,229.6 L112.5,229.0 L112.5,229.2 L112.0,228.9 L111.5,227.9 L111.4,228.7 L110.9,228.7 L110.3,228.3 L109.8,228.0 L109.2,227.6 L109.0,227.7 L108.7,227.5 L108.1,227.6 L107.6,228.0 L107.0,229.0 L106.9,229.5 L106.5,226.1 L106.0,225.2 L105.9,224.3 L105.4,219.9 L105.0,216.5 L104.8,216.2 L104.3,214.2 L104.3,215.0 L103.7,216.1 L103.7,215.3 L103.2,217.5 L102.8,218.2 L102.6,219.6 L102.1,220.0 L101.5,221.4 L101.2,222.4 L101.0,221.5 L100.4,221.2 L99.9,219.9 L99.3,218.7 L98.8,217.9 L98.5,218.5 L98.2,218.3 L97.7,218.4 L97.1,218.3 L96.6,219.3 L96.0,219.0 L96.0,218.2 L95.5,219.5 L94.9,217.6 L94.4,218.3 L93.8,219.8 L93.3,217.3 L93.0,217.8 L92.7,217.8 L92.2,216.8 L91.6,217.5 L91.1,216.3 L90.8,216.2 L90.5,216.2 L90.0,217.7 L89.4,218.3 L89.0,218.9 L88.9,218.5 L88.3,220.9 L87.8,220.8 L87.7,221.7 L87.2,217.1 L87.0,215.4 L86.7,199.3 L86.5,192.4 L86.1,181.4 L86.0,180.0 L85.7,192.4 L85.6,199.3 L85.2,215.4 L85.0,216.1 L84.5,217.6 L84.2,219.3 L83.9,218.7 L83.4,219.1 L82.8,220.0 L82.5,219.6 L82.3,220.4 L81.7,221.0 L81.2,219.7 L80.6,219.3 L80.4,219.3 L80.1,220.0 L79.5,220.1 L79.0,220.6 L78.4,220.9 L77.9,220.0 L77.5,220.7 L77.3,221.5 L76.8,220.9 L76.2,222.1 L75.7,220.9 L75.3,221.7 L75.1,222.1 L74.6,222.5 L74.0,222.4 L73.5,223.8 L73.0,223.7 L72.9,223.9 L72.4,224.2 L71.8,225.2 L71.3,225.9 L71.0,225.3 L70.7,225.4 L70.2,225.9 L69.6,226.6 L69.1,226.2 L68.5,225.9 L68.0,225.2 L68.0,226.5 L67.4,227.0 L66.9,225.2 L66.3,224.6 L65.8,225.3 L65.8,224.8 L65.2,223.6 L64.7,223.4 L64.1,221.7 L63.6,221.2 L63.5,221.0 L63.0,219.9 L62.5,217.8 L61.9,218.1 L61.5,217.9 L61.4,218.5 L60.8,217.6 L60.3,216.6 L60.0,217.4 L59.7,216.7 L59.2,214.8 L58.6,215.6 L58.5,213.8 L58.1,214.8 L57.5,215.1 L57.1,215.2 L57.0,214.9 L56.4,215.2 L55.9,213.5 L55.5,213.7 L55.3,212.2 L54.8,213.1 L54.2,211.3 L54.2,210.4 L53.7,211.9 L53.2,212.5 L53.1,212.3 L52.6,215.6 L52.0,216.3 L52.0,217.2 L51.5,218.4 L50.9,218.0 L50.7,219.3 L50.4,215.0 L49.8,210.9 L49.8,209.7 L49.3,208.4 L49.0,206.9 L48.7,207.8 L48.3,208.9 L48.2,210.1 L47.6,213.3 L47.2,215.1 L47.1,217.0 L46.5,218.4 L46.0,220.6 L45.9,220.7 L45.4,219.5 L45.1,220.0 L44.9,220.1 L44.3,217.5 L44.2,218.2 L43.8,220.2 L43.2,220.4 L42.7,221.9 L42.5,221.4 L42.1,223.4 L41.6,224.9 L41.0,225.9 L40.7,228.6 L40.5,228.2 L39.9,228.4 L39.4,228.9 L39.0,229.8 L38.8,230.5 L38.3,230.3 L37.7,230.7 L37.3,231.9 L37.2,232.8 L36.6,232.2 L36.1,232.0 L35.5,232.4 L35.0,234.0 L35.0,232.5 L34.4,233.6 L33.9,234.2 L33.3,235.0 L33.0,236.2 L32.8,235.4 L32.2,234.8 L31.7,232.9 L31.6,233.3 L31.1,233.9 L30.6,233.9 L30.4,234.4 L30.0,233.8 L29.5,233.2 L29.0,231.8 L28.9,232.8 L28.4,232.1 L27.8,232.0Z" fill="#000" opacity="0.10"/>
<path d="M27.8,261.7 L28.4,262.5 L28.6,263.8 L28.9,263.7 L29.5,264.5 L29.5,265.2 L30.0,265.1 L30.5,264.7 L30.6,265.7 L31.1,266.0 L31.7,266.1 L31.7,266.6 L32.2,267.1 L32.8,266.9 L33.3,265.0 L33.5,265.7 L33.9,265.6 L34.4,264.0 L35.0,264.4 L35.5,264.1 L35.5,264.2 L36.1,262.5 L36.6,262.5 L37.2,262.7 L37.3,262.7 L37.7,262.5 L38.3,260.5 L38.8,261.1 L39.4,259.7 L39.5,258.3 L39.9,258.9 L40.5,257.4 L41.0,257.1 L41.6,255.8 L41.6,256.5 L42.1,255.0 L42.7,253.5 L43.2,253.2 L43.3,252.6 L43.8,251.5 L44.3,251.6 L44.9,249.8 L45.0,249.4 L45.4,250.1 L45.9,250.3 L46.0,250.9 L46.5,253.1 L46.8,251.9 L47.1,250.6 L47.6,245.9 L47.6,246.2 L48.2,241.0 L48.4,237.6 L48.7,234.9 L49.0,233.4 L49.3,234.4 L49.7,237.1 L49.8,238.0 L50.4,243.5 L50.9,249.7 L51.1,251.9 L51.5,250.7 L52.0,248.6 L52.2,247.3 L52.6,246.7 L53.1,243.9 L53.2,244.6 L53.7,243.7 L54.2,242.9 L54.2,242.3 L54.8,242.4 L55.3,245.1 L55.6,245.8 L55.9,244.4 L56.4,245.8 L57.0,246.9 L57.1,245.7 L57.5,247.5 L58.1,246.4 L58.6,246.1 L59.0,247.7 L59.2,247.3 L59.7,247.3 L60.3,248.9 L60.8,247.8 L61.4,250.7 L61.5,249.3 L61.9,250.6 L62.5,251.1 L63.0,252.5 L63.5,253.6 L63.6,252.7 L64.1,254.5 L64.7,254.7 L65.2,255.3 L65.8,256.5 L65.8,256.1 L66.3,256.4 L66.9,257.6 L67.4,257.1 L68.0,258.1 L68.3,257.8 L68.5,256.8 L69.1,256.1 L69.6,256.7 L70.2,257.1 L70.7,256.8 L71.0,256.2 L71.3,257.0 L71.8,254.5 L72.4,254.1 L72.9,254.1 L73.0,255.2 L73.5,253.5 L74.0,251.9 L74.6,252.0 L75.1,251.3 L75.3,251.2 L75.7,250.5 L76.2,250.4 L76.8,251.1 L77.3,251.5 L77.8,252.4 L77.9,252.6 L78.4,250.6 L79.0,250.4 L79.5,250.3 L80.1,249.9 L80.4,250.1 L80.6,250.1 L81.2,250.1 L81.7,250.9 L82.3,250.1 L82.4,249.6 L82.8,248.8 L83.4,248.5 L83.9,247.8 L84.2,247.0 L84.5,247.6 L85.0,245.3 L85.2,244.6 L85.6,231.3 L85.7,225.6 L86.0,214.7 L86.1,215.9 L86.5,225.6 L86.7,231.6 L87.0,245.6 L87.2,246.9 L87.8,250.3 L87.9,252.0 L88.3,250.0 L88.9,249.9 L89.2,249.8 L89.4,248.1 L90.0,247.6 L90.5,247.6 L90.8,247.8 L91.1,248.2 L91.6,248.2 L92.2,247.7 L92.7,247.8 L93.3,249.0 L93.3,249.1 L93.8,248.1 L94.4,248.6 L94.9,248.6 L95.5,248.9 L96.0,247.5 L96.0,248.4 L96.6,247.5 L97.1,248.0 L97.7,248.2 L98.2,249.3 L98.6,250.4 L98.8,248.7 L99.3,249.5 L99.9,250.5 L100.4,249.7 L101.0,251.7 L101.2,250.8 L101.5,251.9 L102.1,250.8 L102.6,249.3 L102.8,248.1 L103.2,247.7 L103.7,243.8 L103.7,243.7 L104.3,242.5 L104.3,241.0 L104.8,244.8 L105.0,246.2 L105.4,249.1 L105.9,254.2 L106.0,254.5 L106.5,257.6 L106.7,258.5 L107.0,258.2 L107.6,257.6 L108.1,258.2 L108.7,258.1 L109.0,257.4 L109.2,257.8 L109.8,258.1 L110.3,258.4 L110.9,257.6 L111.4,257.5 L111.5,257.4 L112.0,258.3 L112.5,259.4 L112.6,259.8 L113.1,258.8 L113.5,259.0 L113.6,258.2 L114.2,258.8 L114.7,257.1 L115.3,256.9 L115.6,255.8 L115.8,255.8 L116.4,254.9 L116.9,255.7 L117.5,254.3 L117.8,253.6 L118.0,252.9 L118.6,252.5 L119.1,252.7 L119.7,252.8 L120.0,250.5 L120.2,250.7 L120.8,250.9 L121.3,250.3 L121.9,249.3 L122.1,250.2 L122.4,250.9 L123.0,249.9 L123.5,251.4 L124.1,252.3 L124.6,252.7 L124.6,251.8 L125.2,253.8 L125.7,253.1 L126.3,252.6 L126.8,254.0 L127.3,253.0 L127.4,254.1 L127.9,251.6 L128.5,251.6 L128.9,249.7 L129.0,250.4 L129.6,248.1 L130.1,245.9 L130.1,245.6 L130.7,245.5 L131.1,243.1 L131.2,244.7 L131.8,246.2 L132.2,247.4 L132.3,247.9 L132.9,251.2 L133.3,250.3 L133.4,250.5 L134.0,249.3 L134.2,249.7 L134.5,247.5 L135.0,249.5 L135.1,248.2 L135.6,248.6 L136.2,250.6 L136.5,252.0 L136.7,253.0 L137.3,254.9 L137.8,257.5 L138.4,259.1 L138.5,259.7 L138.9,258.8 L139.5,261.0 L140.0,261.9 L140.6,261.7 L141.0,261.3 L141.1,261.6 L141.7,263.7 L142.2,262.6 L142.8,262.8 L143.3,263.0 L143.7,264.1 L143.9,263.2 L144.4,262.6 L145.0,261.8 L145.5,262.2 L146.1,262.4 L146.3,261.5 L146.6,261.6 L147.2,260.2 L147.7,259.2 L148.3,258.2 L148.3,258.0 L148.8,256.3 L149.4,253.4 L149.9,250.2 L150.2,249.2 L150.5,247.8 L151.0,245.3 L151.5,242.6 L151.6,242.9 L152.1,243.8 L152.7,246.9 L152.9,248.4 L153.2,248.2 L153.8,252.5 L154.3,254.2 L154.6,255.3 L154.9,255.1 L155.4,258.7 L156.0,259.2 L156.5,261.3 L156.5,261.9 L157.1,262.4 L157.6,263.9 L158.2,265.3 L158.4,266.5 L158.7,267.5 L159.3,268.3 L159.8,269.3 L160.0,269.2 L160.4,269.8 L160.9,269.8 L161.5,271.9 L161.8,271.1 L162.0,269.6 L162.6,269.4 L163.1,270.3 L163.7,267.9 L164.2,267.7 L164.5,267.8 L164.8,266.5 L165.3,266.8 L165.9,266.2 L166.4,263.8 L167.0,264.0 L167.0,262.7 L167.5,260.4 L168.1,258.6 L168.6,256.1 L168.8,254.7 L169.2,253.8 L169.7,249.5 L170.3,247.1 L170.4,246.2 L170.8,245.4 L171.4,242.8 L171.4,242.5 L171.9,240.4 L172.2,240.8 L172.5,242.0 L173.0,243.1 L173.0,243.6 L173.6,247.7 L173.9,249.8 L174.1,249.2 L174.7,248.6 L175.2,247.6 L175.6,246.9 L175.8,246.5 L176.3,245.3 L176.9,244.8 L177.4,244.0 L177.4,245.6 L178.0,242.5 L178.5,240.6 L178.8,239.5 L179.1,238.5 L179.6,236.2 L180.0,235.0 L180.2,234.0 L180.7,232.2 L181.2,229.2 L181.3,229.7 L181.8,228.5 L182.2,226.2 L182.4,227.6 L182.9,229.6 L183.2,230.4 L183.5,232.0 L184.0,234.9 L184.3,238.8 L184.6,239.2 L185.1,242.6 L185.6,247.0 L185.7,245.8 L186.2,250.9 L186.8,253.9 L186.9,255.0 L187.3,256.3 L187.9,258.3 L188.2,259.5 L188.4,262.2 L189.0,263.0 L189.4,264.6 L189.5,266.0 L190.1,265.4 L190.6,266.3 L191.0,266.9 L191.2,267.0 L191.7,266.9 L192.3,267.6 L192.8,269.1 L192.9,268.9 L193.4,266.5 L193.9,267.1 L194.3,268.4 L194.5,268.2 L195.0,268.4 L195.6,269.7 L195.8,268.1 L195.8,272.9 L195.6,274.5 L195.0,273.2 L194.5,273.0 L194.3,273.2 L193.9,271.9 L193.4,271.3 L192.9,273.7 L192.8,273.9 L192.3,272.4 L191.7,271.7 L191.2,271.8 L191.0,271.7 L190.6,271.1 L190.1,270.2 L189.5,270.8 L189.4,269.4 L189.0,267.8 L188.4,267.0 L188.2,264.3 L187.9,263.1 L187.3,261.1 L186.9,259.8 L186.8,258.7 L186.2,255.7 L185.7,250.6 L185.6,251.8 L185.1,247.4 L184.6,244.0 L184.3,243.6 L184.0,239.7 L183.5,236.8 L183.2,235.2 L182.9,234.4 L182.4,232.4 L182.2,231.0 L181.8,233.3 L181.3,234.5 L181.2,234.0 L180.7,237.0 L180.2,238.8 L180.0,239.8 L179.6,241.0 L179.1,243.3 L178.8,244.3 L178.5,245.4 L178.0,247.3 L177.4,250.4 L177.4,248.8 L176.9,249.6 L176.3,250.1 L175.8,251.3 L175.6,251.7 L175.2,252.4 L174.7,253.4 L174.1,254.0 L173.9,254.6 L173.6,252.5 L173.0,248.4 L173.0,247.9 L172.5,246.8 L172.2,245.6 L171.9,245.2 L171.4,247.3 L171.4,247.6 L170.8,250.2 L170.4,251.0 L170.3,251.9 L169.7,254.3 L169.2,258.6 L168.8,259.5 L168.6,260.9 L168.1,263.4 L167.5,265.2 L167.0,267.5 L167.0,268.8 L166.4,268.6 L165.9,271.0 L165.3,271.6 L164.8,271.3 L164.5,272.6 L164.2,272.5 L163.7,272.7 L163.1,275.1 L162.6,274.2 L162.0,274.4 L161.8,275.9 L161.5,276.7 L160.9,274.6 L160.4,274.6 L160.0,274.0 L159.8,274.1 L159.3,273.1 L158.7,272.3 L158.4,271.3 L158.2,270.1 L157.6,268.7 L157.1,267.2 L156.5,266.7 L156.5,266.1 L156.0,264.0 L155.4,263.5 L154.9,259.9 L154.6,260.1 L154.3,259.0 L153.8,257.3 L153.2,253.0 L152.9,253.2 L152.7,251.7 L152.1,248.6 L151.6,247.7 L151.5,247.4 L151.0,250.1 L150.5,252.6 L150.2,254.0 L149.9,255.0 L149.4,258.2 L148.8,261.1 L148.3,262.8 L148.3,263.0 L147.7,264.0 L147.2,265.0 L146.6,266.4 L146.3,266.3 L146.1,267.2 L145.5,267.0 L145.0,266.6 L144.4,267.4 L143.9,268.0 L143.7,268.9 L143.3,267.8 L142.8,267.6 L142.2,267.4 L141.7,268.5 L141.1,266.4 L141.0,266.1 L140.6,266.5 L140.0,266.7 L139.5,265.8 L138.9,263.6 L138.5,264.5 L138.4,263.9 L137.8,262.3 L137.3,259.7 L136.7,257.8 L136.5,256.8 L136.2,255.4 L135.6,253.4 L135.1,253.0 L135.0,254.3 L134.5,252.3 L134.2,254.5 L134.0,254.1 L133.4,255.3 L133.3,255.1 L132.9,256.0 L132.3,252.7 L132.2,252.2 L131.8,251.0 L131.2,249.5 L131.1,247.9 L130.7,250.3 L130.1,250.4 L130.1,250.7 L129.6,252.9 L129.0,255.2 L128.9,254.5 L128.5,256.4 L127.9,256.4 L127.4,258.9 L127.3,257.8 L126.8,258.8 L126.3,257.4 L125.7,257.9 L125.2,258.6 L124.6,256.6 L124.6,257.5 L124.1,257.1 L123.5,256.2 L123.0,254.7 L122.4,255.7 L122.1,255.0 L121.9,254.1 L121.3,255.1 L120.8,255.7 L120.2,255.5 L120.0,255.3 L119.7,257.6 L119.1,257.5 L118.6,257.3 L118.0,257.7 L117.8,258.4 L117.5,259.1 L116.9,260.5 L116.4,259.7 L115.8,260.6 L115.6,260.6 L115.3,261.7 L114.7,261.9 L114.2,263.6 L113.6,263.0 L113.5,263.8 L113.1,263.6 L112.6,264.6 L112.5,264.2 L112.0,263.1 L111.5,262.2 L111.4,262.3 L110.9,262.4 L110.3,263.2 L109.8,262.9 L109.2,262.6 L109.0,262.2 L108.7,262.9 L108.1,263.0 L107.6,262.4 L107.0,263.0 L106.7,263.3 L106.5,262.4 L106.0,259.3 L105.9,259.0 L105.4,253.9 L105.0,251.0 L104.8,249.6 L104.3,245.8 L104.3,247.3 L103.7,248.5 L103.7,248.6 L103.2,252.5 L102.8,252.9 L102.6,254.1 L102.1,255.6 L101.5,256.7 L101.2,255.6 L101.0,256.5 L100.4,254.5 L99.9,255.3 L99.3,254.3 L98.8,253.5 L98.6,255.2 L98.2,254.1 L97.7,253.0 L97.1,252.8 L96.6,252.3 L96.0,253.2 L96.0,252.3 L95.5,253.7 L94.9,253.4 L94.4,253.4 L93.8,252.9 L93.3,253.9 L93.3,253.8 L92.7,252.6 L92.2,252.5 L91.6,253.0 L91.1,253.0 L90.8,252.6 L90.5,252.4 L90.0,252.4 L89.4,252.9 L89.2,254.6 L88.9,254.7 L88.3,254.8 L87.9,256.8 L87.8,255.1 L87.2,251.7 L87.0,250.4 L86.7,236.4 L86.5,230.4 L86.1,220.7 L86.0,219.5 L85.7,230.4 L85.6,236.1 L85.2,249.4 L85.0,250.1 L84.5,252.4 L84.2,251.8 L83.9,252.6 L83.4,253.3 L82.8,253.6 L82.4,254.4 L82.3,254.9 L81.7,255.7 L81.2,254.9 L80.6,254.9 L80.4,254.9 L80.1,254.7 L79.5,255.1 L79.0,255.2 L78.4,255.4 L77.9,257.4 L77.8,257.2 L77.3,256.3 L76.8,255.9 L76.2,255.2 L75.7,255.3 L75.3,256.0 L75.1,256.1 L74.6,256.8 L74.0,256.7 L73.5,258.3 L73.0,260.0 L72.9,258.9 L72.4,258.9 L71.8,259.3 L71.3,261.8 L71.0,261.0 L70.7,261.6 L70.2,261.9 L69.6,261.5 L69.1,260.9 L68.5,261.6 L68.3,262.6 L68.0,262.9 L67.4,261.9 L66.9,262.4 L66.3,261.2 L65.8,260.9 L65.8,261.3 L65.2,260.1 L64.7,259.5 L64.1,259.3 L63.6,257.5 L63.5,258.4 L63.0,257.3 L62.5,255.9 L61.9,255.4 L61.5,254.1 L61.4,255.5 L60.8,252.6 L60.3,253.7 L59.7,252.1 L59.2,252.1 L59.0,252.5 L58.6,250.9 L58.1,251.2 L57.5,252.3 L57.1,250.5 L57.0,251.7 L56.4,250.6 L55.9,249.2 L55.6,250.6 L55.3,249.9 L54.8,247.2 L54.2,247.1 L54.2,247.7 L53.7,248.5 L53.2,249.4 L53.1,248.7 L52.6,251.5 L52.2,252.1 L52.0,253.4 L51.5,255.5 L51.1,256.7 L50.9,254.5 L50.4,248.3 L49.8,242.8 L49.7,241.9 L49.3,239.2 L49.0,238.2 L48.7,239.7 L48.4,242.4 L48.2,245.8 L47.6,251.0 L47.6,250.7 L47.1,255.4 L46.8,256.7 L46.5,257.9 L46.0,255.7 L45.9,255.1 L45.4,254.9 L45.0,254.2 L44.9,254.6 L44.3,256.4 L43.8,256.3 L43.3,257.4 L43.2,258.0 L42.7,258.3 L42.1,259.8 L41.6,261.3 L41.6,260.6 L41.0,261.9 L40.5,262.2 L39.9,263.7 L39.5,263.1 L39.4,264.5 L38.8,265.9 L38.3,265.3 L37.7,267.3 L37.3,267.5 L37.2,267.5 L36.6,267.3 L36.1,267.3 L35.5,269.0 L35.5,268.9 L35.0,269.2 L34.4,268.8 L33.9,270.4 L33.5,270.5 L33.3,269.8 L32.8,271.7 L32.2,271.9 L31.7,271.4 L31.7,270.9 L31.1,270.8 L30.6,270.5 L30.5,269.5 L30.0,269.9 L29.5,270.0 L29.5,269.3 L28.9,268.5 L28.6,268.6 L28.4,267.3 L27.8,266.5Z" fill="#f00" opacity="0.10"/>
<path d="M27.8,229.6 L28.4,229.7 L28.9,230.4 L29.0,229.4 L29.5,230.8 L30.0,231.4 L30.4,232.0 L30.6,231.5 L31.1,231.5 L31.6,230.9 L31.7,230.5 L32.2,232.4 L32.8,233.0 L33.0,233.8 L33.3,232.6 L33.9,231.8 L34.4,231.2 L35.0,230.1 L35.0,231.6 L35.5,230.0 L36.1,229.6 L36.6,229.8 L37.2,230.4 L37.3,229.5 L37.7,228.3 L38.3,227.9 L38.8,228.1 L39.0,227.4 L39.4,226.5 L39.9,226.0 L40.5,225.8 L40.7,226.2 L41.0,223.5 L41.6,222.5 L42.1,221.0 L42.5,219.0 L42.7,219.5 L43.2,218.0 L43.8,217.8 L44.2,215.8 L44.3,215.1 L44.9,217.7 L45.1,217.6 L45.4,217.1 L45.9,218.3 L46.0,218.2 L46.5,216.0 L47.1,214.6 L47.2,212.7 L47.6,210.9 L48.2,207.7 L48.3,206.5 L48.7,205.4 L49.0,204.5 L49.3,206.0 L49.8,207.3 L49.8,208.5 L50.4,212.6 L50.7,216.9 L50.9,215.6 L51.5,216.0 L52.0,214.8 L52.0,213.9 L52.6,213.2 L53.1,209.9 L53.2,210.1 L53.7,209.5 L54.2,208.0 L54.2,208.9 L54.8,210.7 L55.3,209.8 L55.5,211.3 L55.9,211.1 L56.4,212.8 L57.0,212.5 L57.1,212.8 L57.5,212.7 L58.1,212.4 L58.5,211.4 L58.6,213.2 L59.2,212.4 L59.7,214.3 L60.0,215.0 L60.3,214.2 L60.8,215.2 L61.4,216.1 L61.5,215.5 L61.9,215.7 L62.5,215.4 L63.0,217.5 L63.5,218.6 L63.6,218.8 L64.1,219.3 L64.7,221.0 L65.2,221.2 L65.8,222.4 L65.8,222.9 L66.3,222.2 L66.9,222.8 L67.4,224.6 L68.0,224.1 L68.0,222.8 L68.5,223.5 L69.1,223.8 L69.6,224.2 L70.2,223.5 L70.7,223.0 L71.0,222.9 L71.3,223.5 L71.8,222.8 L72.4,221.8 L72.9,221.5 L73.0,221.3 L73.5,221.4 L74.0,220.0 L74.6,220.1 L75.1,219.7 L75.3,219.3 L75.7,218.5 L76.2,219.7 L76.8,218.5 L77.3,219.1 L77.5,218.3 L77.9,217.6 L78.4,218.5 L79.0,218.2 L79.5,217.7 L80.1,217.6 L80.4,216.9 L80.6,216.9 L81.2,217.3 L81.7,218.6 L82.3,218.0 L82.5,217.2 L82.8,217.6 L83.4,216.7 L83.9,216.3 L84.2,216.9 L84.5,215.2 L85.0,213.7 L85.2,213.0 L85.6,196.9 L85.7,190.0 L86.0,177.6 L86.1,179.0 L86.5,190.0 L86.7,196.9 L87.0,213.0 L87.2,214.7 L87.7,219.3 L87.8,218.4 L88.3,218.5 L88.9,216.1 L89.0,216.5 L89.4,215.9 L90.0,215.3 L90.5,213.8 L90.8,213.8 L91.1,213.9 L91.6,215.1 L92.2,214.4 L92.7,215.4 L93.0,215.4 L93.3,214.9 L93.8,217.4 L94.4,215.9 L94.9,215.2 L95.5,217.1 L96.0,215.8 L96.0,216.6 L96.6,216.9 L97.1,215.9 L97.7,216.0 L98.2,215.9 L98.5,216.1 L98.8,215.5 L99.3,216.3 L99.9,217.5 L100.4,218.8 L101.0,219.1 L101.2,220.0 L101.5,219.0 L102.1,217.6 L102.6,217.2 L102.8,215.8 L103.2,215.1 L103.7,212.9 L103.7,213.7 L104.3,212.6 L104.3,211.8 L104.8,213.8 L105.0,214.1 L105.4,217.5 L105.9,221.9 L106.0,222.8 L106.5,223.7 L106.9,227.1 L107.0,226.6 L107.6,225.6 L108.1,225.2 L108.7,225.1 L109.0,225.3 L109.2,225.2 L109.8,225.6 L110.3,225.9 L110.9,226.3 L111.4,226.3 L111.5,225.5 L112.0,226.5 L112.5,226.8 L112.5,226.6 L113.1,227.2 L113.5,224.9 L113.6,226.3 L114.2,224.5 L114.7,224.5 L115.3,224.6 L115.5,223.8 L115.8,223.7 L116.4,222.6 L116.9,221.7 L117.5,221.2 L117.8,220.5 L118.0,221.7 L118.6,220.0 L119.1,220.6 L119.7,217.4 L120.0,218.6 L120.2,218.8 L120.8,217.9 L121.3,218.3 L121.9,217.7 L122.1,216.9 L122.4,217.6 L123.0,219.6 L123.5,218.6 L124.1,219.1 L124.5,219.1 L124.6,219.5 L125.2,219.0 L125.7,219.9 L126.3,221.8 L126.8,221.3 L127.3,221.3 L127.4,221.4 L127.9,220.7 L128.5,218.6 L128.8,218.7 L129.0,217.3 L129.6,214.4 L129.8,214.2 L130.1,211.4 L130.7,211.6 L130.7,212.1 L131.2,212.5 L131.8,214.3 L132.0,214.6 L132.3,215.6 L132.9,219.4 L133.3,219.6 L133.4,218.8 L134.0,217.8 L134.4,215.4 L134.5,215.9 L135.1,214.7 L135.4,215.0 L135.6,213.9 L136.2,217.2 L136.5,218.1 L136.7,218.2 L137.3,222.0 L137.8,223.3 L138.4,227.3 L138.5,227.3 L138.9,227.8 L139.5,228.0 L140.0,229.1 L140.6,228.0 L141.0,229.6 L141.1,229.3 L141.7,230.0 L142.2,230.0 L142.8,230.6 L143.3,230.0 L143.9,231.8 L144.4,232.3 L144.5,230.8 L145.0,230.5 L145.5,230.1 L146.1,230.2 L146.6,230.0 L147.0,227.8 L147.2,227.8 L147.7,226.4 L148.3,225.1 L148.8,223.6 L148.9,224.6 L149.4,221.0 L149.9,219.3 L150.3,216.5 L150.5,214.6 L151.0,211.7 L151.5,209.3 L151.6,210.7 L152.1,211.4 L152.7,213.1 L152.8,214.5 L153.2,216.5 L153.8,218.4 L154.3,222.2 L154.6,222.7 L154.9,223.7 L155.4,224.8 L156.0,227.1 L156.5,228.9 L156.5,227.6 L157.1,230.6 L157.6,230.8 L158.2,233.2 L158.4,233.0 L158.7,235.5 L159.3,235.3 L159.8,236.4 L160.0,236.8 L160.4,235.6 L160.9,235.4 L161.5,236.9 L161.8,237.8 L162.0,237.1 L162.6,236.9 L163.1,236.3 L163.7,234.1 L164.2,234.5 L164.5,235.2 L164.8,233.2 L165.3,231.3 L165.9,231.4 L166.4,230.3 L167.0,229.8 L167.0,229.0 L167.5,227.5 L168.1,223.8 L168.6,223.3 L168.8,223.0 L169.2,221.0 L169.7,216.6 L170.3,214.9 L170.4,212.2 L170.8,212.4 L171.4,209.8 L171.6,208.2 L171.9,208.4 L172.5,207.3 L172.5,207.7 L173.0,209.3 L173.3,210.6 L173.6,210.8 L174.1,214.4 L174.2,215.4 L174.7,214.8 L175.2,213.4 L175.8,213.0 L175.8,211.5 L176.3,210.9 L176.9,210.1 L177.4,208.7 L177.4,209.1 L178.0,206.8 L178.5,206.3 L178.8,204.3 L179.1,204.3 L179.6,201.6 L180.0,201.1 L180.2,198.7 L180.7,197.5 L181.2,194.7 L181.3,195.0 L181.8,194.0 L182.2,191.4 L182.4,191.9 L182.9,194.2 L183.2,196.2 L183.5,197.0 L184.0,202.9 L184.3,204.6 L184.6,206.3 L185.1,210.2 L185.6,213.7 L185.7,213.4 L186.2,216.6 L186.8,220.0 L186.9,220.7 L187.3,221.0 L187.9,224.7 L188.2,226.6 L188.4,227.8 L189.0,230.2 L189.4,230.8 L189.5,230.5 L190.1,230.3 L190.4,231.3 L190.6,232.2 L191.2,234.1 L191.2,233.0 L191.7,234.3 L192.3,235.3 L192.8,236.6 L192.9,235.8 L193.4,235.5 L193.9,235.8 L194.3,236.2 L194.5,236.2 L195.0,237.7 L195.6,238.5 L195.8,238.6" fill="none" stroke="#000" stroke-width="1.6" stroke-linejoin="round"/>
<path d="M27.8,264.1 L28.4,264.9 L28.6,266.2 L28.9,266.1 L29.5,266.9 L29.5,267.6 L30.0,267.5 L30.5,267.1 L30.6,268.1 L31.1,268.4 L31.7,268.5 L31.7,269.0 L32.2,269.5 L32.8,269.3 L33.3,267.4 L33.5,268.1 L33.9,268.0 L34.4,266.4 L35.0,266.8 L35.5,266.5 L35.5,266.6 L36.1,264.9 L36.6,264.9 L37.2,265.1 L37.3,265.1 L37.7,264.9 L38.3,262.9 L38.8,263.5 L39.4,262.1 L39.5,260.7 L39.9,261.3 L40.5,259.8 L41.0,259.5 L41.6,258.2 L41.6,258.9 L42.1,257.4 L42.7,255.9 L43.2,255.6 L43.3,255.0 L43.8,253.9 L44.3,254.0 L44.9,252.2 L45.0,251.8 L45.4,252.5 L45.9,252.7 L46.0,253.3 L46.5,255.5 L46.8,254.3 L47.1,253.0 L47.6,248.3 L47.6,248.6 L48.2,243.4 L48.4,240.0 L48.7,237.3 L49.0,235.8 L49.3,236.8 L49.7,239.5 L49.8,240.4 L50.4,245.9 L50.9,252.1 L51.1,254.3 L51.5,253.1 L52.0,251.0 L52.2,249.7 L52.6,249.1 L53.1,246.3 L53.2,247.0 L53.7,246.1 L54.2,245.3 L54.2,244.7 L54.8,244.8 L55.3,247.5 L55.6,248.2 L55.9,246.8 L56.4,248.2 L57.0,249.3 L57.1,248.1 L57.5,249.9 L58.1,248.8 L58.6,248.5 L59.0,250.1 L59.2,249.7 L59.7,249.7 L60.3,251.3 L60.8,250.2 L61.4,253.1 L61.5,251.7 L61.9,253.0 L62.5,253.5 L63.0,254.9 L63.5,256.0 L63.6,255.1 L64.1,256.9 L64.7,257.1 L65.2,257.7 L65.8,258.9 L65.8,258.5 L66.3,258.8 L66.9,260.0 L67.4,259.5 L68.0,260.5 L68.3,260.2 L68.5,259.2 L69.1,258.5 L69.6,259.1 L70.2,259.5 L70.7,259.2 L71.0,258.6 L71.3,259.4 L71.8,256.9 L72.4,256.5 L72.9,256.5 L73.0,257.6 L73.5,255.9 L74.0,254.3 L74.6,254.4 L75.1,253.7 L75.3,253.6 L75.7,252.9 L76.2,252.8 L76.8,253.5 L77.3,253.9 L77.8,254.8 L77.9,255.0 L78.4,253.0 L79.0,252.8 L79.5,252.7 L80.1,252.3 L80.4,252.5 L80.6,252.5 L81.2,252.5 L81.7,253.3 L82.3,252.5 L82.4,252.0 L82.8,251.2 L83.4,250.9 L83.9,250.2 L84.2,249.4 L84.5,250.0 L85.0,247.7 L85.2,247.0 L85.6,233.7 L85.7,228.0 L86.0,217.1 L86.1,218.3 L86.5,228.0 L86.7,234.0 L87.0,248.0 L87.2,249.3 L87.8,252.7 L87.9,254.4 L88.3,252.4 L88.9,252.3 L89.2,252.2 L89.4,250.5 L90.0,250.0 L90.5,250.0 L90.8,250.2 L91.1,250.6 L91.6,250.6 L92.2,250.1 L92.7,250.2 L93.3,251.4 L93.3,251.5 L93.8,250.5 L94.4,251.0 L94.9,251.0 L95.5,251.3 L96.0,249.9 L96.0,250.8 L96.6,249.9 L97.1,250.4 L97.7,250.6 L98.2,251.7 L98.6,252.8 L98.8,251.1 L99.3,251.9 L99.9,252.9 L100.4,252.1 L101.0,254.1 L101.2,253.2 L101.5,254.3 L102.1,253.2 L102.6,251.7 L102.8,250.5 L103.2,250.1 L103.7,246.2 L103.7,246.1 L104.3,244.9 L104.3,243.4 L104.8,247.2 L105.0,248.6 L105.4,251.5 L105.9,256.6 L106.0,256.9 L106.5,260.0 L106.7,260.9 L107.0,260.6 L107.6,260.0 L108.1,260.6 L108.7,260.5 L109.0,259.8 L109.2,260.2 L109.8,260.5 L110.3,260.8 L110.9,260.0 L111.4,259.9 L111.5,259.8 L112.0,260.7 L112.5,261.8 L112.6,262.2 L113.1,261.2 L113.5,261.4 L113.6,260.6 L114.2,261.2 L114.7,259.5 L115.3,259.3 L115.6,258.2 L115.8,258.2 L116.4,257.3 L116.9,258.1 L117.5,256.7 L117.8,256.0 L118.0,255.3 L118.6,254.9 L119.1,255.1 L119.7,255.2 L120.0,252.9 L120.2,253.1 L120.8,253.3 L121.3,252.7 L121.9,251.7 L122.1,252.6 L122.4,253.3 L123.0,252.3 L123.5,253.8 L124.1,254.7 L124.6,255.1 L124.6,254.2 L125.2,256.2 L125.7,255.5 L126.3,255.0 L126.8,256.4 L127.3,255.4 L127.4,256.5 L127.9,254.0 L128.5,254.0 L128.9,252.1 L129.0,252.8 L129.6,250.5 L130.1,248.3 L130.1,248.0 L130.7,247.9 L131.1,245.5 L131.2,247.1 L131.8,248.6 L132.2,249.8 L132.3,250.3 L132.9,253.6 L133.3,252.7 L133.4,252.9 L134.0,251.7 L134.2,252.1 L134.5,249.9 L135.0,251.9 L135.1,250.6 L135.6,251.0 L136.2,253.0 L136.5,254.4 L136.7,255.4 L137.3,257.3 L137.8,259.9 L138.4,261.5 L138.5,262.1 L138.9,261.2 L139.5,263.4 L140.0,264.3 L140.6,264.1 L141.0,263.7 L141.1,264.0 L141.7,266.1 L142.2,265.0 L142.8,265.2 L143.3,265.4 L143.7,266.5 L143.9,265.6 L144.4,265.0 L145.0,264.2 L145.5,264.6 L146.1,264.8 L146.3,263.9 L146.6,264.0 L147.2,262.6 L147.7,261.6 L148.3,260.6 L148.3,260.4 L148.8,258.7 L149.4,255.8 L149.9,252.6 L150.2,251.6 L150.5,250.2 L151.0,247.7 L151.5,245.0 L151.6,245.3 L152.1,246.2 L152.7,249.3 L152.9,250.8 L153.2,250.6 L153.8,254.9 L154.3,256.6 L154.6,257.7 L154.9,257.5 L155.4,261.1 L156.0,261.6 L156.5,263.7 L156.5,264.3 L157.1,264.8 L157.6,266.3 L158.2,267.7 L158.4,268.9 L158.7,269.9 L159.3,270.7 L159.8,271.7 L160.0,271.6 L160.4,272.2 L160.9,272.2 L161.5,274.3 L161.8,273.5 L162.0,272.0 L162.6,271.8 L163.1,272.7 L163.7,270.3 L164.2,270.1 L164.5,270.2 L164.8,268.9 L165.3,269.2 L165.9,268.6 L166.4,266.2 L167.0,266.4 L167.0,265.1 L167.5,262.8 L168.1,261.0 L168.6,258.5 L168.8,257.1 L169.2,256.2 L169.7,251.9 L170.3,249.5 L170.4,248.6 L170.8,247.8 L171.4,245.2 L171.4,244.9 L171.9,242.8 L172.2,243.2 L172.5,244.4 L173.0,245.5 L173.0,246.0 L173.6,250.1 L173.9,252.2 L174.1,251.6 L174.7,251.0 L175.2,250.0 L175.6,249.3 L175.8,248.9 L176.3,247.7 L176.9,247.2 L177.4,246.4 L177.4,248.0 L178.0,244.9 L178.5,243.0 L178.8,241.9 L179.1,240.9 L179.6,238.6 L180.0,237.4 L180.2,236.4 L180.7,234.6 L181.2,231.6 L181.3,232.1 L181.8,230.9 L182.2,228.6 L182.4,230.0 L182.9,232.0 L183.2,232.8 L183.5,234.4 L184.0,237.3 L184.3,241.2 L184.6,241.6 L185.1,245.0 L185.6,249.4 L185.7,248.2 L186.2,253.3 L186.8,256.3 L186.9,257.4 L187.3,258.7 L187.9,260.7 L188.2,261.9 L188.4,264.6 L189.0,265.4 L189.4,267.0 L189.5,268.4 L190.1,267.8 L190.6,268.7 L191.0,269.3 L191.2,269.4 L191.7,269.3 L192.3,270.0 L192.8,271.5 L192.9,271.3 L193.4,268.9 L193.9,269.5 L194.3,270.8 L194.5,270.6 L195.0,270.8 L195.6,272.1 L195.8,270.5" fill="none" stroke="#ff0000" stroke-width="1.6" stroke-linejoin="round"/>
<rect x="19.5" y="169.4" width="185.1" height="112.79999999999998" fill="none" stroke="#222" stroke-width="0.9"/>
<line x1="19.5" y1="185.8" x2="23.0" y2="185.8" stroke="#222" stroke-width="0.8"/>
<line x1="19.5" y1="221.8" x2="23.0" y2="221.8" stroke="#222" stroke-width="0.8"/>
<line x1="19.5" y1="256.6" x2="23.0" y2="256.6" stroke="#222" stroke-width="0.8"/>
<line x1="27.7" y1="282.2" x2="27.7" y2="279.0" stroke="#222" stroke-width="0.8"/>
<text x="27.7" y="291.7" font-size="8.3" text-anchor="middle" fill="#222"  stroke="#222" stroke-width="0.13">600</text>
<line x1="86.4" y1="282.2" x2="86.4" y2="279.0" stroke="#222" stroke-width="0.8"/>
<text x="86.4" y="291.7" font-size="8.3" text-anchor="middle" fill="#222"  stroke="#222" stroke-width="0.13">1000</text>
<line x1="159.6" y1="282.2" x2="159.6" y2="279.0" stroke="#222" stroke-width="0.8"/>
<text x="159.6" y="291.7" font-size="8.3" text-anchor="middle" fill="#222"  stroke="#222" stroke-width="0.13">1500</text>
<line x1="203.8" y1="282.2" x2="203.8" y2="279.0" stroke="#222" stroke-width="0.8"/>
<text x="203.8" y="291.7" font-size="8.3" text-anchor="middle" fill="#222"  stroke="#222" stroke-width="0.13">1800</text>
<text x="109.2" y="306.8" font-size="12" text-anchor="middle" fill="#111"  stroke="#111" stroke-width="0.19">Raman shift (cm<tspan font-size="8.4" dy="-4.2">−1</tspan><tspan dy="4.2">)</tspan></text>
<text transform="translate(12.2,225.8) rotate(-90)" font-size="10.7" text-anchor="middle" fill="#111" stroke="#111" stroke-width="0.19">Intensity (a.u.)</text>
<line x1="59.7" y1="159.6" x2="78.4" y2="159.6" stroke="#000" stroke-width="1.3"/>
<text x="86.2" y="162.8" font-size="9" text-anchor="start" fill="#111"  stroke="#111" stroke-width="0.14">Control</text>
<line x1="134.2" y1="159.6" x2="153.3" y2="159.6" stroke="#f00" stroke-width="1.3"/>
<text x="160.4" y="162.8" font-size="9" text-anchor="start" fill="#111"  stroke="#111" stroke-width="0.14">Glutamate</text>
<polygon points="230.3,179.7 325.5,156.0 325.8,219.0 233.2,251.7" fill="#f7f7f7" stroke="#e4e4e4" stroke-width="0.5" opacity="1"/>
<polygon points="325.5,156.0 385.0,199.6 381.4,272.4 325.8,219.0" fill="#f3f3f3" stroke="#e4e4e4" stroke-width="0.5" opacity="1"/>
<polygon points="233.2,251.7 325.8,219.0 381.4,272.4 283.0,302.5" fill="#f6f6f6" stroke="#e4e4e4" stroke-width="0.5" opacity="1"/>
<line x1="240.4" y1="177.2" x2="243.0" y2="248.2" stroke="#cfcfcf" stroke-width="0.6"/>
<line x1="252.3" y1="174.2" x2="254.6" y2="244.1" stroke="#cfcfcf" stroke-width="0.6"/>
<line x1="264.2" y1="171.3" x2="266.2" y2="240.1" stroke="#cfcfcf" stroke-width="0.6"/>
<line x1="276.1" y1="168.3" x2="277.8" y2="236.0" stroke="#cfcfcf" stroke-width="0.6"/>
<line x1="288.0" y1="165.3" x2="289.3" y2="231.9" stroke="#cfcfcf" stroke-width="0.6"/>
<line x1="299.9" y1="162.4" x2="300.9" y2="227.8" stroke="#cfcfcf" stroke-width="0.6"/>
<line x1="311.8" y1="159.4" x2="312.5" y2="223.7" stroke="#cfcfcf" stroke-width="0.6"/>
<line x1="323.7" y1="156.4" x2="324.1" y2="219.6" stroke="#cfcfcf" stroke-width="0.6"/>
<line x1="230.5" y1="184.6" x2="325.5" y2="160.3" stroke="#cfcfcf" stroke-width="0.6"/>
<line x1="230.9" y1="193.6" x2="325.6" y2="168.2" stroke="#cfcfcf" stroke-width="0.6"/>
<line x1="231.2" y1="202.6" x2="325.6" y2="176.1" stroke="#cfcfcf" stroke-width="0.6"/>
<line x1="231.6" y1="211.6" x2="325.6" y2="184.0" stroke="#cfcfcf" stroke-width="0.6"/>
<line x1="231.9" y1="220.6" x2="325.7" y2="191.8" stroke="#cfcfcf" stroke-width="0.6"/>
<line x1="232.3" y1="229.6" x2="325.7" y2="199.7" stroke="#cfcfcf" stroke-width="0.6"/>
<line x1="232.7" y1="238.6" x2="325.7" y2="207.6" stroke="#cfcfcf" stroke-width="0.6"/>
<line x1="233.0" y1="247.6" x2="325.8" y2="215.5" stroke="#cfcfcf" stroke-width="0.6"/>
<line x1="327.4" y1="157.4" x2="327.5" y2="220.7" stroke="#cfcfcf" stroke-width="0.6"/>
<line x1="334.8" y1="162.8" x2="334.5" y2="227.3" stroke="#cfcfcf" stroke-width="0.6"/>
<line x1="342.2" y1="168.3" x2="341.4" y2="234.0" stroke="#cfcfcf" stroke-width="0.6"/>
<line x1="349.7" y1="173.7" x2="348.4" y2="240.7" stroke="#cfcfcf" stroke-width="0.6"/>
<line x1="357.1" y1="179.2" x2="355.3" y2="247.4" stroke="#cfcfcf" stroke-width="0.6"/>
<line x1="364.5" y1="184.6" x2="362.3" y2="254.0" stroke="#cfcfcf" stroke-width="0.6"/>
<line x1="372.0" y1="190.1" x2="369.2" y2="260.7" stroke="#cfcfcf" stroke-width="0.6"/>
<line x1="379.4" y1="195.5" x2="376.2" y2="267.4" stroke="#cfcfcf" stroke-width="0.6"/>
<line x1="325.5" y1="160.3" x2="384.8" y2="204.6" stroke="#cfcfcf" stroke-width="0.6"/>
<line x1="325.6" y1="168.2" x2="384.3" y2="213.7" stroke="#cfcfcf" stroke-width="0.6"/>
<line x1="325.6" y1="176.1" x2="383.9" y2="222.8" stroke="#cfcfcf" stroke-width="0.6"/>
<line x1="325.6" y1="184.0" x2="383.4" y2="231.9" stroke="#cfcfcf" stroke-width="0.6"/>
<line x1="325.7" y1="191.8" x2="383.0" y2="241.0" stroke="#cfcfcf" stroke-width="0.6"/>
<line x1="325.7" y1="199.7" x2="382.5" y2="250.1" stroke="#cfcfcf" stroke-width="0.6"/>
<line x1="325.7" y1="207.6" x2="382.1" y2="259.2" stroke="#cfcfcf" stroke-width="0.6"/>
<line x1="325.8" y1="215.5" x2="381.6" y2="268.3" stroke="#cfcfcf" stroke-width="0.6"/>
<line x1="236.1" y1="250.7" x2="286.1" y2="301.6" stroke="#cfcfcf" stroke-width="0.6"/>
<line x1="247.7" y1="246.6" x2="298.4" y2="297.8" stroke="#cfcfcf" stroke-width="0.6"/>
<line x1="259.2" y1="242.5" x2="310.7" y2="294.0" stroke="#cfcfcf" stroke-width="0.6"/>
<line x1="270.8" y1="238.4" x2="323.0" y2="290.3" stroke="#cfcfcf" stroke-width="0.6"/>
<line x1="282.4" y1="234.3" x2="335.3" y2="286.5" stroke="#cfcfcf" stroke-width="0.6"/>
<line x1="294.0" y1="230.2" x2="347.6" y2="282.7" stroke="#cfcfcf" stroke-width="0.6"/>
<line x1="305.5" y1="226.2" x2="359.9" y2="279.0" stroke="#cfcfcf" stroke-width="0.6"/>
<line x1="317.1" y1="222.1" x2="372.2" y2="275.2" stroke="#cfcfcf" stroke-width="0.6"/>
<line x1="238.5" y1="257.1" x2="331.7" y2="224.7" stroke="#cfcfcf" stroke-width="0.6"/>
<line x1="244.7" y1="263.4" x2="338.7" y2="231.3" stroke="#cfcfcf" stroke-width="0.6"/>
<line x1="250.9" y1="269.8" x2="345.6" y2="238.0" stroke="#cfcfcf" stroke-width="0.6"/>
<line x1="257.2" y1="276.1" x2="352.6" y2="244.7" stroke="#cfcfcf" stroke-width="0.6"/>
<line x1="263.4" y1="282.5" x2="359.5" y2="251.4" stroke="#cfcfcf" stroke-width="0.6"/>
<line x1="269.6" y1="288.8" x2="366.5" y2="258.0" stroke="#cfcfcf" stroke-width="0.6"/>
<line x1="275.8" y1="295.2" x2="373.4" y2="264.7" stroke="#cfcfcf" stroke-width="0.6"/>
<line x1="282.1" y1="301.5" x2="380.4" y2="271.4" stroke="#cfcfcf" stroke-width="0.6"/>
<line x1="233.2" y1="251.7" x2="283.0" y2="302.5" stroke="#333" stroke-width="0.9"/>
<line x1="283.0" y1="302.5" x2="381.4" y2="272.4" stroke="#333" stroke-width="0.9"/>
<line x1="381.4" y1="272.4" x2="385.0" y2="199.6" stroke="#333" stroke-width="0.9"/>
<line x1="238.5" y1="257.1" x2="236.9" y2="257.6" stroke="#333" stroke-width="0.8"/>
<line x1="286.1" y1="301.6" x2="287.0" y2="302.9" stroke="#333" stroke-width="0.8"/>
<line x1="381.6" y1="268.3" x2="383.3" y2="268.7" stroke="#333" stroke-width="0.8"/>
<line x1="244.7" y1="263.4" x2="243.1" y2="263.9" stroke="#333" stroke-width="0.8"/>
<line x1="298.4" y1="297.8" x2="299.3" y2="299.1" stroke="#333" stroke-width="0.8"/>
<line x1="382.1" y1="259.2" x2="383.8" y2="259.6" stroke="#333" stroke-width="0.8"/>
<line x1="250.9" y1="269.8" x2="249.3" y2="270.3" stroke="#333" stroke-width="0.8"/>
<line x1="310.7" y1="294.0" x2="311.6" y2="295.3" stroke="#333" stroke-width="0.8"/>
<line x1="382.5" y1="250.1" x2="384.2" y2="250.5" stroke="#333" stroke-width="0.8"/>
<line x1="257.2" y1="276.1" x2="255.6" y2="276.6" stroke="#333" stroke-width="0.8"/>
<line x1="323.0" y1="290.3" x2="323.9" y2="291.6" stroke="#333" stroke-width="0.8"/>
<line x1="383.0" y1="241.0" x2="384.7" y2="241.4" stroke="#333" stroke-width="0.8"/>
<line x1="263.4" y1="282.5" x2="261.8" y2="283.0" stroke="#333" stroke-width="0.8"/>
<line x1="335.3" y1="286.5" x2="336.2" y2="287.8" stroke="#333" stroke-width="0.8"/>
<line x1="383.4" y1="231.9" x2="385.1" y2="232.3" stroke="#333" stroke-width="0.8"/>
<line x1="269.6" y1="288.8" x2="268.0" y2="289.3" stroke="#333" stroke-width="0.8"/>
<line x1="347.6" y1="282.7" x2="348.5" y2="284.0" stroke="#333" stroke-width="0.8"/>
<line x1="383.9" y1="222.8" x2="385.6" y2="223.2" stroke="#333" stroke-width="0.8"/>
<line x1="275.8" y1="295.2" x2="274.2" y2="295.7" stroke="#333" stroke-width="0.8"/>
<line x1="359.9" y1="279.0" x2="360.8" y2="280.3" stroke="#333" stroke-width="0.8"/>
<line x1="384.3" y1="213.7" x2="386.0" y2="214.1" stroke="#333" stroke-width="0.8"/>
<line x1="282.1" y1="301.5" x2="280.5" y2="302.0" stroke="#333" stroke-width="0.8"/>
<line x1="372.2" y1="275.2" x2="373.1" y2="276.5" stroke="#333" stroke-width="0.8"/>
<line x1="384.8" y1="204.6" x2="386.5" y2="205.0" stroke="#333" stroke-width="0.8"/>
<text x="236.3" y="293.3" font-size="7.5" text-anchor="start" fill="#333"  stroke="#333" stroke-width="0.12">PC1</text>
<text x="335.5" y="309" font-size="7.5" text-anchor="start" fill="#333"  stroke="#333" stroke-width="0.12">PC2</text>
<text x="390.5" y="240" font-size="7.5" text-anchor="start" fill="#333"  stroke="#333" stroke-width="0.12">PC3</text>
<polygon points="275.00,185.00 276.50,186.50 278.00,185.00 279.50,186.50 278.00,188.00 279.50,189.50 278.00,191.00 276.50,189.50 275.00,191.00 273.50,189.50 275.00,188.00 273.50,186.50" fill="#f00" stroke="#f00" stroke-width="0.7" stroke-linejoin="round" opacity="0.75"/>
<polygon points="278.00,192.80 279.50,194.30 281.00,192.80 282.50,194.30 281.00,195.80 282.50,197.30 281.00,198.80 279.50,197.30 278.00,198.80 276.50,197.30 278.00,195.80 276.50,194.30" fill="#f00" stroke="#f00" stroke-width="0.7" stroke-linejoin="round" opacity="0.8"/>
<polygon points="281.70,197.20 283.20,198.70 284.70,197.20 286.20,198.70 284.70,200.20 286.20,201.70 284.70,203.20 283.20,201.70 281.70,203.20 280.20,201.70 281.70,200.20 280.20,198.70" fill="#f00" stroke="#f00" stroke-width="0.7" stroke-linejoin="round" opacity="0.45"/>
<polygon points="278.10,197.80 279.60,199.30 281.10,197.80 282.60,199.30 281.10,200.80 282.60,202.30 281.10,203.80 279.60,202.30 278.10,203.80 276.60,202.30 278.10,200.80 276.60,199.30" fill="#f00" stroke="#f00" stroke-width="0.7" stroke-linejoin="round" opacity="0.8"/>
<polygon points="279.40,203.30 280.90,204.80 282.40,203.30 283.90,204.80 282.40,206.30 283.90,207.80 282.40,209.30 280.90,207.80 279.40,209.30 277.90,207.80 279.40,206.30 277.90,204.80" fill="#f00" stroke="#f00" stroke-width="0.7" stroke-linejoin="round" opacity="0.45"/>
<polygon points="290.30,197.50 291.80,199.00 293.30,197.50 294.80,199.00 293.30,200.50 294.80,202.00 293.30,203.50 291.80,202.00 290.30,203.50 288.80,202.00 290.30,200.50 288.80,199.00" fill="#f00" stroke="#f00" stroke-width="0.7" stroke-linejoin="round" opacity="0.9"/>
<circle cx="292.3" cy="196.8" r="3.1" fill="#000" opacity="0.5"/>
<circle cx="334.9" cy="197.4" r="3.1" fill="#000" opacity="0.5"/>
<circle cx="321.6" cy="204.2" r="3.1" fill="#000" opacity="0.5"/>
<circle cx="338.7" cy="206.7" r="3.1" fill="#000" opacity="0.6"/>
<circle cx="307.7" cy="216" r="3.1" fill="#000" opacity="0.6"/>
<circle cx="312.3" cy="214.4" r="3.1" fill="#000" opacity="0.45"/>
<circle cx="307.7" cy="222.8" r="3.1" fill="#000" opacity="0.4"/>
<circle cx="313.9" cy="224.3" r="3.1" fill="#000" opacity="1"/>
<circle cx="355.1" cy="217.5" r="3.1" fill="#000" opacity="0.45"/>
<circle cx="340.2" cy="219.7" r="3.1" fill="#000" opacity="0.75"/>
<circle cx="335.9" cy="221.8" r="3.1" fill="#000" opacity="0.65"/>
<circle cx="345.2" cy="222.2" r="3.1" fill="#000" opacity="0.65"/>
<circle cx="352" cy="222.8" r="3.1" fill="#000" opacity="0.45"/>
<circle cx="362.8" cy="222.8" r="3.1" fill="#000" opacity="0.6"/>
<circle cx="327.2" cy="224.3" r="3.1" fill="#000" opacity="0.95"/>
<circle cx="324.1" cy="225.9" r="3.1" fill="#000" opacity="0.7"/>
<circle cx="333.4" cy="227.4" r="3.1" fill="#000" opacity="0.35"/>
<circle cx="337.1" cy="228" r="3.1" fill="#000" opacity="0.45"/>
<circle cx="342.7" cy="229" r="3.1" fill="#000" opacity="0.35"/>
<circle cx="321" cy="229.6" r="3.1" fill="#000" opacity="1"/>
<circle cx="333.4" cy="235.2" r="3.1" fill="#000" opacity="0.6"/>
<circle cx="335.6" cy="237.6" r="3.1" fill="#000" opacity="0.45"/>
<circle cx="319.5" cy="240.7" r="3.1" fill="#000" opacity="1"/>
<circle cx="327.2" cy="240.7" r="3.1" fill="#000" opacity="0.4"/>
<circle cx="333.4" cy="240.7" r="3.1" fill="#000" opacity="0.6"/>
<circle cx="306.5" cy="242" r="3.1" fill="#000" opacity="0.45"/>
<polygon points="278.30,212.00 279.80,213.50 281.30,212.00 282.80,213.50 281.30,215.00 282.80,216.50 281.30,218.00 279.80,216.50 278.30,218.00 276.80,216.50 278.30,215.00 276.80,213.50" fill="#f00" stroke="#f00" stroke-width="0.7" stroke-linejoin="round" opacity="0.8"/>
<polygon points="255.10,218.80 256.60,220.30 258.10,218.80 259.60,220.30 258.10,221.80 259.60,223.30 258.10,224.80 256.60,223.30 255.10,224.80 253.60,223.30 255.10,221.80 253.60,220.30" fill="#f00" stroke="#f00" stroke-width="0.7" stroke-linejoin="round" opacity="0.75"/>
<polygon points="280.80,217.60 282.30,219.10 283.80,217.60 285.30,219.10 283.80,220.60 285.30,222.10 283.80,223.60 282.30,222.10 280.80,223.60 279.30,222.10 280.80,220.60 279.30,219.10" fill="#f00" stroke="#f00" stroke-width="0.7" stroke-linejoin="round" opacity="0.45"/>
<polygon points="292.30,217.60 293.80,219.10 295.30,217.60 296.80,219.10 295.30,220.60 296.80,222.10 295.30,223.60 293.80,222.10 292.30,223.60 290.80,222.10 292.30,220.60 290.80,219.10" fill="#f00" stroke="#f00" stroke-width="0.7" stroke-linejoin="round" opacity="0.8"/>
<polygon points="305.60,218.80 307.10,220.30 308.60,218.80 310.10,220.30 308.60,221.80 310.10,223.30 308.60,224.80 307.10,223.30 305.60,224.80 304.10,223.30 305.60,221.80 304.10,220.30" fill="#f00" stroke="#f00" stroke-width="0.7" stroke-linejoin="round" opacity="0.85"/>
<polygon points="294.10,224.40 295.60,225.90 297.10,224.40 298.60,225.90 297.10,227.40 298.60,228.90 297.10,230.40 295.60,228.90 294.10,230.40 292.60,228.90 294.10,227.40 292.60,225.90" fill="#f00" stroke="#f00" stroke-width="0.7" stroke-linejoin="round" opacity="0.9"/>
<polygon points="297.80,224.40 299.30,225.90 300.80,224.40 302.30,225.90 300.80,227.40 302.30,228.90 300.80,230.40 299.30,228.90 297.80,230.40 296.30,228.90 297.80,227.40 296.30,225.90" fill="#f00" stroke="#f00" stroke-width="0.7" stroke-linejoin="round" opacity="0.95"/>
<polygon points="284.50,226.90 286.00,228.40 287.50,226.90 289.00,228.40 287.50,229.90 289.00,231.40 287.50,232.90 286.00,231.40 284.50,232.90 283.00,231.40 284.50,229.90 283.00,228.40" fill="#f00" stroke="#f00" stroke-width="0.7" stroke-linejoin="round" opacity="0.45"/>
<polygon points="294.10,230.60 295.60,232.10 297.10,230.60 298.60,232.10 297.10,233.60 298.60,235.10 297.10,236.60 295.60,235.10 294.10,236.60 292.60,235.10 294.10,233.60 292.60,232.10" fill="#f00" stroke="#f00" stroke-width="0.7" stroke-linejoin="round" opacity="0.95"/>
<polygon points="292.30,233.70 293.80,235.20 295.30,233.70 296.80,235.20 295.30,236.70 296.80,238.20 295.30,239.70 293.80,238.20 292.30,239.70 290.80,238.20 292.30,236.70 290.80,235.20" fill="#f00" stroke="#f00" stroke-width="0.7" stroke-linejoin="round" opacity="0.95"/>
<polygon points="305.60,234.60 307.10,236.10 308.60,234.60 310.10,236.10 308.60,237.60 310.10,239.10 308.60,240.60 307.10,239.10 305.60,240.60 304.10,239.10 305.60,237.60 304.10,236.10" fill="#f00" stroke="#f00" stroke-width="0.7" stroke-linejoin="round" opacity="0.95"/>
<polygon points="296.90,236.80 298.40,238.30 299.90,236.80 301.40,238.30 299.90,239.80 301.40,241.30 299.90,242.80 298.40,241.30 296.90,242.80 295.40,241.30 296.90,239.80 295.40,238.30" fill="#f00" stroke="#f00" stroke-width="0.7" stroke-linejoin="round" opacity="0.5"/>
<polygon points="289.20,241.50 290.70,243.00 292.20,241.50 293.70,243.00 292.20,244.50 293.70,246.00 292.20,247.50 290.70,246.00 289.20,247.50 287.70,246.00 289.20,244.50 287.70,243.00" fill="#f00" stroke="#f00" stroke-width="0.7" stroke-linejoin="round" opacity="0.95"/>
<polygon points="287.00,243.20 288.50,244.70 290.00,243.20 291.50,244.70 290.00,246.20 291.50,247.70 290.00,249.20 288.50,247.70 287.00,249.20 285.50,247.70 287.00,246.20 285.50,244.70" fill="#f00" stroke="#f00" stroke-width="0.7" stroke-linejoin="round" opacity="0.95"/>
<polygon points="282.90,248.10 284.40,249.60 285.90,248.10 287.40,249.60 285.90,251.10 287.40,252.60 285.90,254.10 284.40,252.60 282.90,254.10 281.40,252.60 282.90,251.10 281.40,249.60" fill="#f00" stroke="#f00" stroke-width="0.7" stroke-linejoin="round" opacity="0.9"/>
<polygon points="291.10,250.00 292.60,251.50 294.10,250.00 295.60,251.50 294.10,253.00 295.60,254.50 294.10,256.00 292.60,254.50 291.10,256.00 289.60,254.50 291.10,253.00 289.60,251.50" fill="#f00" stroke="#f00" stroke-width="0.7" stroke-linejoin="round" opacity="0.55"/>
<polygon points="297.80,249.30 299.30,250.80 300.80,249.30 302.30,250.80 300.80,252.30 302.30,253.80 300.80,255.30 299.30,253.80 297.80,255.30 296.30,253.80 297.80,252.30 296.30,250.80" fill="#f00" stroke="#f00" stroke-width="0.7" stroke-linejoin="round" opacity="0.95"/>
<polygon points="274.80,257.30 276.30,258.80 277.80,257.30 279.30,258.80 277.80,260.30 279.30,261.80 277.80,263.30 276.30,261.80 274.80,263.30 273.30,261.80 274.80,260.30 273.30,258.80" fill="#f00" stroke="#f00" stroke-width="0.7" stroke-linejoin="round" opacity="0.9"/>
<polygon points="292.10,256.40 293.60,257.90 295.10,256.40 296.60,257.90 295.10,259.40 296.60,260.90 295.10,262.40 293.60,260.90 292.10,262.40 290.60,260.90 292.10,259.40 290.60,257.90" fill="#f00" stroke="#f00" stroke-width="0.7" stroke-linejoin="round" opacity="0.55"/>
<polygon points="282.90,263.10 284.40,264.60 285.90,263.10 287.40,264.60 285.90,266.10 287.40,267.60 285.90,269.10 284.40,267.60 282.90,269.10 281.40,267.60 282.90,266.10 281.40,264.60" fill="#f00" stroke="#f00" stroke-width="0.7" stroke-linejoin="round" opacity="0.55"/>
<polygon points="293.00,262.70 294.50,264.20 296.00,262.70 297.50,264.20 296.00,265.70 297.50,267.20 296.00,268.70 294.50,267.20 293.00,268.70 291.50,267.20 293.00,265.70 291.50,264.20" fill="#f00" stroke="#f00" stroke-width="0.7" stroke-linejoin="round" opacity="0.9"/>
<circle cx="343.7" cy="149.9" r="4.6" fill="#000"/>
<text x="352.3" y="154.2" font-size="11" text-anchor="start" fill="#000"  stroke="#000" stroke-width="0.18">Control</text>
<path d="M339.4,160.1 L346.4,167.4 M346.4,160.1 L339.4,167.4" stroke="#f00" stroke-width="1.5" fill="none"/>
<text x="349.8" y="167.7" font-size="11" text-anchor="start" fill="#000"  stroke="#000" stroke-width="0.18">Glutamate</text>
<path d="M478.90,167.60 L478.82,168.10 L478.73,168.60 L478.64,169.10 L478.54,169.60 L478.43,170.10 L478.32,170.60 L478.21,171.10 L478.10,171.60 L477.98,172.10 L477.85,172.60 L477.72,173.10 L477.58,173.60 L477.44,174.10 L477.29,174.60 L477.14,175.10 L476.98,175.60 L476.81,176.10 L476.64,176.60 L476.46,177.10 L476.28,177.60 L476.09,178.10 L475.89,178.60 L475.68,179.10 L475.47,179.60 L475.24,180.10 L475.02,180.60 L474.78,181.10 L474.54,181.60 L474.30,182.10 L474.05,182.60 L473.79,183.10 L473.51,183.60 L473.23,184.10 L472.94,184.60 L472.64,185.10 L472.34,185.60 L472.04,186.10 L471.74,186.60 L471.43,187.10 L471.14,187.60 L470.84,188.10 L470.55,188.60 L470.25,189.10 L469.95,189.60 L469.64,190.10 L469.34,190.60 L469.04,191.10 L468.74,191.60 L468.44,192.10 L468.15,192.60 L467.86,193.10 L467.58,193.60 L467.30,194.10 L467.03,194.60 L466.75,195.10 L466.48,195.60 L466.22,196.10 L465.95,196.60 L465.69,197.10 L465.43,197.60 L465.18,198.10 L464.94,198.60 L464.70,199.10 L464.48,199.60 L464.26,200.10 L464.04,200.60 L463.83,201.10 L463.62,201.60 L463.41,202.10 L463.21,202.60 L463.01,203.10 L462.83,203.60 L462.65,204.10 L462.48,204.60 L462.32,205.10 L462.18,205.60 L462.05,206.10 L461.91,206.60 L461.78,207.10 L461.64,207.60 L461.52,208.10 L461.41,208.60 L461.31,209.10 L461.25,209.60 L461.21,210.10 L461.20,210.60 L461.22,211.10 L461.26,211.60 L461.31,212.10 L461.38,212.60 L461.45,213.10 L461.54,213.60 L461.63,214.10 L461.72,214.60 L461.84,215.10 L461.99,215.60 L462.16,216.10 L462.36,216.60 L462.57,217.10 L462.78,217.60 L462.99,218.10 L463.20,218.60 L463.40,219.10 L463.62,219.60 L463.84,220.10 L464.06,220.60 L464.29,221.10 L464.52,221.60 L464.75,222.10 L464.98,222.60 L465.20,223.10 L465.43,223.60 L465.64,224.10 L465.86,224.60 L466.06,225.10 L466.27,225.60 L466.47,226.10 L466.68,226.60 L466.88,227.10 L467.08,227.60 L467.28,228.10 L467.49,228.60 L467.70,229.10 L467.91,229.60 L468.12,230.10 L468.34,230.60 L468.57,231.10 L468.81,231.60 L469.05,232.10 L469.29,232.60 L469.54,233.10 L469.79,233.60 L470.03,234.10 L470.27,234.60 L470.50,235.10 L470.73,235.60 L470.94,236.10 L471.15,236.60 L471.36,237.10 L471.56,237.60 L471.76,238.10 L471.96,238.60 L472.15,239.10 L472.34,239.60 L472.53,240.10 L472.71,240.60 L472.89,241.10 L473.06,241.60 L473.23,242.10 L473.40,242.60 L473.56,243.10 L473.73,243.60 L473.89,244.10 L474.04,244.60 L474.20,245.10 L474.34,245.60 L474.49,246.10 L474.63,246.60 L474.77,247.10 L474.90,247.60 L475.02,248.10 L475.15,248.60 L475.26,249.10 L475.38,249.60 L475.49,250.10 L475.60,250.60 L475.71,251.10 L475.81,251.60 L475.91,252.10 L476.01,252.60 L476.11,253.10 L476.21,253.60 L476.30,254.10 L476.39,254.60 L476.49,255.10 L476.58,255.60 L476.66,256.10 L476.75,256.60 L476.84,257.10 L476.92,257.60 L477.00,258.10 L477.08,258.60 L477.16,259.10 L477.24,259.60 L477.31,260.10 L477.39,260.60 L477.45,261.10 L477.52,261.60 L477.58,262.10 L477.64,262.60 L477.71,263.10 L477.77,263.60 L477.83,264.10 L477.90,264.60 L477.97,265.10 L478.05,265.60 L478.13,266.10 L478.22,266.60 L478.32,267.10 L478.42,267.60 L478.53,268.10 L478.64,268.60 L478.76,269.10 L478.88,269.60 L478.92,269.60 L479.04,269.10 L479.16,268.60 L479.27,268.10 L479.38,267.60 L479.48,267.10 L479.58,266.60 L479.67,266.10 L479.75,265.60 L479.83,265.10 L479.90,264.60 L479.97,264.10 L480.03,263.60 L480.09,263.10 L480.16,262.60 L480.22,262.10 L480.28,261.60 L480.35,261.10 L480.41,260.60 L480.49,260.10 L480.56,259.60 L480.64,259.10 L480.72,258.60 L480.80,258.10 L480.88,257.60 L480.96,257.10 L481.05,256.60 L481.14,256.10 L481.22,255.60 L481.31,255.10 L481.41,254.60 L481.50,254.10 L481.59,253.60 L481.69,253.10 L481.79,252.60 L481.89,252.10 L481.99,251.60 L482.09,251.10 L482.20,250.60 L482.31,250.10 L482.42,249.60 L482.54,249.10 L482.65,248.60 L482.78,248.10 L482.90,247.60 L483.03,247.10 L483.17,246.60 L483.31,246.10 L483.46,245.60 L483.60,245.10 L483.76,244.60 L483.91,244.10 L484.07,243.60 L484.24,243.10 L484.40,242.60 L484.57,242.10 L484.74,241.60 L484.91,241.10 L485.09,240.60 L485.27,240.10 L485.46,239.60 L485.65,239.10 L485.84,238.60 L486.04,238.10 L486.24,237.60 L486.44,237.10 L486.65,236.60 L486.86,236.10 L487.07,235.60 L487.30,235.10 L487.53,234.60 L487.77,234.10 L488.01,233.60 L488.26,233.10 L488.51,232.60 L488.75,232.10 L488.99,231.60 L489.23,231.10 L489.46,230.60 L489.68,230.10 L489.89,229.60 L490.10,229.10 L490.31,228.60 L490.52,228.10 L490.72,227.60 L490.92,227.10 L491.12,226.60 L491.33,226.10 L491.53,225.60 L491.74,225.10 L491.94,224.60 L492.16,224.10 L492.37,223.60 L492.60,223.10 L492.82,222.60 L493.05,222.10 L493.28,221.60 L493.51,221.10 L493.74,220.60 L493.96,220.10 L494.18,219.60 L494.40,219.10 L494.60,218.60 L494.81,218.10 L495.02,217.60 L495.23,217.10 L495.44,216.60 L495.64,216.10 L495.81,215.60 L495.96,215.10 L496.08,214.60 L496.17,214.10 L496.26,213.60 L496.35,213.10 L496.42,212.60 L496.49,212.10 L496.54,211.60 L496.58,211.10 L496.60,210.60 L496.59,210.10 L496.55,209.60 L496.49,209.10 L496.39,208.60 L496.28,208.10 L496.16,207.60 L496.02,207.10 L495.89,206.60 L495.75,206.10 L495.62,205.60 L495.48,205.10 L495.32,204.60 L495.15,204.10 L494.97,203.60 L494.79,203.10 L494.59,202.60 L494.39,202.10 L494.18,201.60 L493.97,201.10 L493.76,200.60 L493.54,200.10 L493.32,199.60 L493.10,199.10 L492.86,198.60 L492.62,198.10 L492.37,197.60 L492.11,197.10 L491.85,196.60 L491.58,196.10 L491.32,195.60 L491.05,195.10 L490.77,194.60 L490.50,194.10 L490.22,193.60 L489.94,193.10 L489.65,192.60 L489.36,192.10 L489.06,191.60 L488.76,191.10 L488.46,190.60 L488.16,190.10 L487.85,189.60 L487.55,189.10 L487.25,188.60 L486.96,188.10 L486.66,187.60 L486.37,187.10 L486.06,186.60 L485.76,186.10 L485.46,185.60 L485.16,185.10 L484.86,184.60 L484.57,184.10 L484.29,183.60 L484.01,183.10 L483.75,182.60 L483.50,182.10 L483.26,181.60 L483.02,181.10 L482.78,180.60 L482.56,180.10 L482.33,179.60 L482.12,179.10 L481.91,178.60 L481.71,178.10 L481.52,177.60 L481.34,177.10 L481.16,176.60 L480.99,176.10 L480.82,175.60 L480.66,175.10 L480.51,174.60 L480.36,174.10 L480.22,173.60 L480.08,173.10 L479.95,172.60 L479.82,172.10 L479.70,171.60 L479.59,171.10 L479.48,170.60 L479.37,170.10 L479.26,169.60 L479.16,169.10 L479.07,168.60 L478.98,168.10 L478.90,167.60Z" fill="#555555" stroke="#333" stroke-width="0.8" stroke-linejoin="round"/>
<path d="M522.00,220.50 L521.86,221.00 L521.70,221.50 L521.54,222.00 L521.37,222.50 L521.18,223.00 L521.00,223.50 L520.80,224.00 L520.59,224.50 L520.38,225.00 L520.15,225.50 L519.91,226.00 L519.66,226.50 L519.40,227.00 L519.14,227.50 L518.87,228.00 L518.59,228.50 L518.30,229.00 L517.99,229.50 L517.66,230.00 L517.30,230.50 L516.89,231.00 L516.44,231.50 L515.94,232.00 L515.41,232.50 L514.87,233.00 L514.33,233.50 L513.80,234.00 L513.26,234.50 L512.70,235.00 L512.12,235.50 L511.55,236.00 L510.99,236.50 L510.47,237.00 L510.00,237.50 L509.56,238.00 L509.14,238.50 L508.73,239.00 L508.33,239.50 L507.96,240.00 L507.60,240.50 L507.28,241.00 L506.97,241.50 L506.70,242.00 L506.45,242.50 L506.20,243.00 L505.97,243.50 L505.75,244.00 L505.55,244.50 L505.37,245.00 L505.22,245.50 L505.10,246.00 L505.00,246.50 L504.89,247.00 L504.80,247.50 L504.72,248.00 L504.66,248.50 L504.61,249.00 L504.60,249.50 L504.62,250.00 L504.67,250.50 L504.74,251.00 L504.84,251.50 L504.95,252.00 L505.07,252.50 L505.20,253.00 L505.35,253.50 L505.53,254.00 L505.74,254.50 L505.99,255.00 L506.26,255.50 L506.55,256.00 L506.86,256.50 L507.18,257.00 L507.52,257.50 L507.86,258.00 L508.20,258.50 L508.54,259.00 L508.91,259.50 L509.32,260.00 L509.75,260.50 L510.19,261.00 L510.64,261.50 L511.09,262.00 L511.52,262.50 L511.94,263.00 L512.37,263.50 L512.80,264.00 L513.22,264.50 L513.63,265.00 L514.03,265.50 L514.40,266.00 L514.75,266.50 L515.09,267.00 L515.41,267.50 L515.72,268.00 L516.03,268.50 L516.31,269.00 L516.59,269.50 L516.86,270.00 L517.13,270.50 L517.39,271.00 L517.64,271.50 L517.88,272.00 L518.11,272.50 L518.33,273.00 L518.52,273.50 L518.70,274.00 L518.86,274.50 L519.00,275.00 L519.14,275.50 L519.26,276.00 L519.38,276.50 L519.50,277.00 L519.61,277.50 L519.72,278.00 L519.84,278.50 L519.95,279.00 L520.07,279.50 L520.19,280.00 L520.31,280.50 L520.43,281.00 L520.54,281.50 L520.66,282.00 L520.77,282.50 L520.88,283.00 L520.99,283.50 L521.10,284.00 L521.20,284.50 L521.31,285.00 L521.41,285.50 L521.51,286.00 L521.61,286.50 L521.70,287.00 L521.80,287.50 L521.89,288.00 L521.98,288.50 L522.02,288.50 L522.11,288.00 L522.20,287.50 L522.30,287.00 L522.39,286.50 L522.49,286.00 L522.59,285.50 L522.69,285.00 L522.80,284.50 L522.90,284.00 L523.01,283.50 L523.12,283.00 L523.23,282.50 L523.34,282.00 L523.46,281.50 L523.57,281.00 L523.69,280.50 L523.81,280.00 L523.93,279.50 L524.05,279.00 L524.16,278.50 L524.28,278.00 L524.39,277.50 L524.50,277.00 L524.62,276.50 L524.74,276.00 L524.86,275.50 L525.00,275.00 L525.14,274.50 L525.30,274.00 L525.48,273.50 L525.67,273.00 L525.89,272.50 L526.12,272.00 L526.36,271.50 L526.61,271.00 L526.87,270.50 L527.14,270.00 L527.41,269.50 L527.69,269.00 L527.97,268.50 L528.28,268.00 L528.59,267.50 L528.91,267.00 L529.25,266.50 L529.60,266.00 L529.97,265.50 L530.37,265.00 L530.78,264.50 L531.20,264.00 L531.63,263.50 L532.06,263.00 L532.48,262.50 L532.91,262.00 L533.36,261.50 L533.81,261.00 L534.25,260.50 L534.68,260.00 L535.09,259.50 L535.46,259.00 L535.80,258.50 L536.14,258.00 L536.48,257.50 L536.82,257.00 L537.14,256.50 L537.45,256.00 L537.74,255.50 L538.01,255.00 L538.26,254.50 L538.47,254.00 L538.65,253.50 L538.80,253.00 L538.93,252.50 L539.05,252.00 L539.16,251.50 L539.26,251.00 L539.33,250.50 L539.38,250.00 L539.40,249.50 L539.39,249.00 L539.34,248.50 L539.28,248.00 L539.20,247.50 L539.11,247.00 L539.00,246.50 L538.90,246.00 L538.78,245.50 L538.63,245.00 L538.45,244.50 L538.25,244.00 L538.03,243.50 L537.80,243.00 L537.55,242.50 L537.30,242.00 L537.03,241.50 L536.72,241.00 L536.40,240.50 L536.04,240.00 L535.67,239.50 L535.27,239.00 L534.86,238.50 L534.44,238.00 L534.00,237.50 L533.53,237.00 L533.01,236.50 L532.45,236.00 L531.88,235.50 L531.30,235.00 L530.74,234.50 L530.20,234.00 L529.67,233.50 L529.13,233.00 L528.59,232.50 L528.06,232.00 L527.56,231.50 L527.11,231.00 L526.70,230.50 L526.34,230.00 L526.01,229.50 L525.70,229.00 L525.41,228.50 L525.13,228.00 L524.86,227.50 L524.60,227.00 L524.34,226.50 L524.09,226.00 L523.85,225.50 L523.62,225.00 L523.41,224.50 L523.20,224.00 L523.00,223.50 L522.82,223.00 L522.63,222.50 L522.46,222.00 L522.30,221.50 L522.14,221.00 L522.00,220.50Z" fill="#ff6060" stroke="#333" stroke-width="0.8" stroke-linejoin="round"/>
<line x1="478.9" y1="185.1" x2="478.9" y2="251.7" stroke="#000" stroke-width="0.9"/>
<rect x="477.2" y="203.3" width="3.4" height="26" fill="#000"/>
<rect x="477.4" y="211.1" width="3" height="0.9" fill="#ddd"/>
<line x1="522" y1="231.6" x2="522" y2="276.8" stroke="#000" stroke-width="0.9"/>
<rect x="520.3" y="241.1" width="3.4" height="16.5" fill="#000"/>
<rect x="520.5" y="248.5" width="3" height="0.9" fill="#ddd"/>
<rect x="456.6" y="161.5" width="88.0" height="135.39999999999998" fill="none" stroke="#222" stroke-width="0.9"/>
<line x1="456.6" y1="168.1" x2="459.8" y2="168.1" stroke="#222" stroke-width="0.8"/>
<text x="454.2" y="171.0" font-size="8" text-anchor="end" fill="#222"  stroke="#222" stroke-width="0.13">0.1</text>
<line x1="456.6" y1="232.3" x2="459.8" y2="232.3" stroke="#222" stroke-width="0.8"/>
<text x="454.2" y="235.20000000000002" font-size="8" text-anchor="end" fill="#222"  stroke="#222" stroke-width="0.13">0.0</text>
<line x1="456.6" y1="296.5" x2="459.8" y2="296.5" stroke="#222" stroke-width="0.8"/>
<text x="454.2" y="299.4" font-size="8" text-anchor="end" fill="#222"  stroke="#222" stroke-width="0.13">−0.1</text>
<line x1="478.7" y1="296.9" x2="478.7" y2="293.7" stroke="#222" stroke-width="0.8"/>
<text x="478.7" y="305.3" font-size="8" text-anchor="middle" fill="#222"  stroke="#222" stroke-width="0.13">Control</text>
<line x1="522.2" y1="296.9" x2="522.2" y2="293.7" stroke="#222" stroke-width="0.8"/>
<text x="522.2" y="305.3" font-size="8" text-anchor="middle" fill="#222"  stroke="#222" stroke-width="0.13">Glutamate</text>
<text transform="translate(432.9,230.5) rotate(-90)" font-size="8" text-anchor="middle" fill="#222" stroke="#222" stroke-width="0.14">PC2</text>
<line x1="487.8" y1="171.6" x2="517.6" y2="171.6" stroke="#222" stroke-width="1.2"/>
<text x="502.9" y="171.8" font-size="11" text-anchor="middle" fill="#111" font-weight="bold" stroke="#111" stroke-width="0.18">***</text>
</svg>
</body></html>
